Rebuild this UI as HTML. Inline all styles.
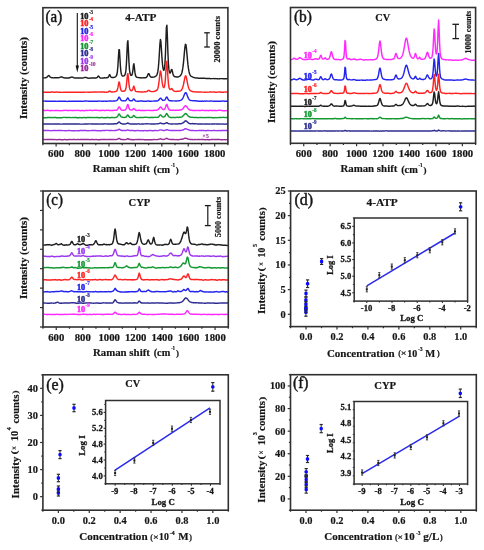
<!DOCTYPE html>
<html><head><meta charset="utf-8"><style>
html,body{margin:0;padding:0;background:#fff;}
svg{display:block;font-family:"Liberation Serif", serif;filter:blur(0.4px);}
</style></head><body>
<svg width="484" height="550" viewBox="0 0 484 550">
<rect width="484" height="550" fill="#fff"/>
<polyline fill="none" stroke="#1e1e1e" stroke-width="1.45" stroke-linejoin="round" points="42.9,77.91 43.4,77.94 43.9,77.90 44.4,77.88 44.9,77.83 45.4,77.72 45.9,77.67 46.4,77.47 46.9,77.16 47.4,76.67 47.9,76.13 48.4,75.59 48.9,75.49 49.4,75.96 49.9,76.68 50.4,77.15 50.9,77.41 51.4,77.66 51.9,77.77 52.4,77.76 52.9,77.82 53.4,77.89 53.9,77.84 54.4,77.76 54.9,77.78 55.4,77.82 55.9,77.79 56.4,77.81 56.9,77.81 57.4,77.79 57.9,77.74 58.4,77.66 58.9,77.64 59.4,77.54 59.9,77.36 60.4,77.11 60.9,77.01 61.4,76.92 61.9,76.96 62.4,77.14 62.9,77.46 63.4,77.63 63.9,77.78 64.4,77.92 64.9,78.04 65.4,78.07 65.9,78.03 66.4,78.00 66.9,78.06 67.4,78.06 67.9,78.03 68.4,78.05 68.9,77.94 69.4,77.79 69.9,77.67 70.4,77.50 70.9,77.25 71.4,77.12 71.9,77.08 72.4,77.13 72.9,77.30 73.4,77.54 73.9,77.72 74.4,77.86 74.9,77.92 75.4,77.98 75.9,78.02 76.4,77.98 76.9,77.90 77.4,77.93 77.9,78.01 78.4,78.03 78.9,78.08 79.4,78.09 79.9,78.07 80.4,78.06 80.9,78.08 81.4,78.08 81.9,78.14 82.4,78.06 82.9,77.93 83.4,77.84 83.9,77.69 84.4,77.48 84.9,77.37 85.4,77.36 85.9,77.47 86.4,77.56 86.9,77.76 87.4,77.95 87.9,78.08 88.4,78.10 88.9,78.24 89.4,78.22 89.9,78.20 90.4,78.15 90.9,78.06 91.4,78.07 91.9,78.08 92.4,78.04 92.9,78.04 93.4,78.09 93.9,78.02 94.4,77.98 94.9,78.01 95.4,78.00 95.9,77.98 96.4,77.90 96.9,77.64 97.4,77.14 97.9,76.40 98.4,75.98 98.9,76.45 99.4,77.22 99.9,77.75 100.4,78.05 100.9,78.09 101.4,78.13 101.9,78.13 102.4,78.05 102.9,77.95 103.4,77.92 103.9,77.91 104.4,77.84 104.9,77.84 105.4,77.90 105.9,77.91 106.4,77.79 106.9,77.73 107.4,77.70 107.9,77.46 108.4,76.97 108.9,75.99 109.4,74.66 109.9,74.68 110.4,76.06 110.9,77.01 111.4,77.36 111.9,77.47 112.4,77.47 112.9,77.39 113.4,77.44 113.9,77.36 114.4,77.21 114.9,77.08 115.4,76.92 115.9,76.42 116.4,75.70 116.9,74.38 117.4,71.54 117.9,65.94 118.4,57.63 118.9,49.74 119.4,49.83 119.9,57.73 120.4,66.12 120.9,71.52 121.4,74.22 121.9,75.37 122.4,75.93 122.9,76.07 123.4,76.06 123.9,75.91 124.4,75.64 124.9,74.92 125.4,73.51 125.9,70.42 126.4,64.15 126.9,53.88 127.4,43.02 127.9,40.73 128.4,49.95 128.9,61.07 129.4,68.79 129.9,72.76 130.4,74.52 130.9,75.26 131.4,75.37 131.9,75.03 132.4,73.60 132.9,70.32 133.4,65.57 133.9,63.78 134.4,67.52 134.9,72.16 135.4,75.09 135.9,76.49 136.4,77.01 136.9,77.21 137.4,77.39 137.9,77.50 138.4,77.57 138.9,77.60 139.4,77.71 139.9,77.70 140.4,77.74 140.9,77.77 141.4,77.88 141.9,77.92 142.4,77.88 142.9,77.84 143.4,77.83 143.9,77.82 144.4,77.77 144.9,77.76 145.4,77.67 145.9,77.57 146.4,77.26 146.9,76.72 147.4,75.79 147.9,74.66 148.4,73.65 148.9,73.67 149.4,74.72 149.9,75.84 150.4,76.64 150.9,77.01 151.4,77.17 151.9,77.23 152.4,77.22 152.9,77.17 153.4,77.15 153.9,77.12 154.4,76.90 154.9,76.72 155.4,76.39 155.9,76.07 156.4,75.53 156.9,74.81 157.4,73.53 157.9,71.15 158.4,67.13 158.9,60.99 159.4,52.86 159.9,44.37 160.4,39.46 160.9,41.43 161.4,48.71 161.9,56.88 162.4,63.51 162.9,67.80 163.4,69.95 163.9,70.34 164.4,68.78 164.9,64.13 165.4,54.92 165.9,41.13 166.4,27.34 166.9,25.29 167.4,37.48 167.9,52.40 168.4,63.26 168.9,69.40 169.4,72.10 169.9,73.08 170.4,72.74 170.9,71.32 171.4,69.69 171.9,69.54 172.4,71.39 172.9,73.73 173.4,75.32 173.9,76.06 174.4,76.49 174.9,76.70 175.4,76.78 175.9,76.80 176.4,76.92 176.9,76.94 177.4,76.99 177.9,76.94 178.4,76.85 178.9,76.62 179.4,76.43 179.9,76.03 180.4,75.59 180.9,74.96 181.4,73.99 181.9,72.63 182.4,70.50 182.9,67.42 183.4,63.34 183.9,58.28 184.4,52.51 184.9,47.38 185.4,44.27 185.9,44.61 186.4,48.17 186.9,53.57 187.4,59.17 187.9,64.18 188.4,68.13 188.9,71.17 189.4,73.29 189.9,74.62 190.4,75.47 190.9,76.05 191.4,76.41 191.9,76.65 192.4,76.89 192.9,77.14 193.4,77.32 193.9,77.51 194.4,77.69 194.9,77.88 195.4,77.88 195.9,77.94 196.4,77.96 196.9,77.98 197.4,78.02 197.9,78.13 198.4,78.17 198.9,78.20 199.4,78.27 199.9,78.26 200.4,78.25 200.9,78.27 201.4,78.25 201.9,78.24 202.4,78.19 202.9,78.20 203.4,78.20 203.9,78.22 204.4,78.29 204.9,78.33 205.4,78.37 205.9,78.44 206.4,78.55 206.9,78.50 207.4,78.54 207.9,78.55 208.4,78.51 208.9,78.53 209.4,78.54 209.9,78.58 210.4,78.61 210.9,78.72 211.4,78.64 211.9,78.64 212.4,78.62 212.9,78.62 213.4,78.55 213.9,78.63 214.4,78.64 214.9,78.70 215.4,78.59 215.9,78.60 216.4,78.61 216.9,78.70 217.4,78.70 217.9,78.81 218.4,78.87 218.9,78.85 219.4,78.77 219.9,78.72 220.4,78.63 220.9,78.64 221.4,78.64 221.9,78.65 222.4,78.61 222.9,78.71 223.4,78.73 223.9,78.72 224.4,78.76 224.9,78.87 225.4,78.80 225.9,78.75 226.4,78.73 226.9,78.70 227.4,78.60 227.9,78.62"/>
<polyline fill="none" stroke="#ff2222" stroke-width="1.45" stroke-linejoin="round" points="42.9,92.24 43.4,92.21 43.9,92.18 44.4,92.21 44.9,92.28 45.4,92.25 45.9,92.23 46.4,92.16 46.9,92.18 47.4,92.15 47.9,92.16 48.4,92.22 48.9,92.32 49.4,92.33 49.9,92.34 50.4,92.28 50.9,92.16 51.4,92.04 51.9,92.03 52.4,92.01 52.9,92.03 53.4,92.14 53.9,92.20 54.4,92.21 54.9,92.20 55.4,92.16 55.9,92.08 56.4,92.03 56.9,92.03 57.4,92.12 57.9,92.21 58.4,92.19 58.9,92.29 59.4,92.32 59.9,92.29 60.4,92.32 60.9,92.39 61.4,92.38 61.9,92.32 62.4,92.35 62.9,92.36 63.4,92.28 63.9,92.28 64.4,92.32 64.9,92.26 65.4,92.20 65.9,92.24 66.4,92.27 66.9,92.24 67.4,92.29 67.9,92.26 68.4,92.31 68.9,92.31 69.4,92.30 69.9,92.27 70.4,92.34 70.9,92.32 71.4,92.27 71.9,92.24 72.4,92.21 72.9,92.18 73.4,92.11 73.9,92.16 74.4,92.17 74.9,92.24 75.4,92.19 75.9,92.29 76.4,92.27 76.9,92.30 77.4,92.24 77.9,92.29 78.4,92.24 78.9,92.19 79.4,92.15 79.9,92.15 80.4,92.19 80.9,92.19 81.4,92.16 81.9,92.24 82.4,92.26 82.9,92.26 83.4,92.20 83.9,92.29 84.4,92.19 84.9,92.18 85.4,92.10 85.9,92.10 86.4,92.12 86.9,92.13 87.4,92.11 87.9,92.18 88.4,92.18 88.9,92.10 89.4,92.20 89.9,92.18 90.4,92.17 90.9,92.14 91.4,92.16 91.9,92.06 92.4,92.10 92.9,92.01 93.4,92.13 93.9,92.09 94.4,92.16 94.9,92.07 95.4,92.09 95.9,92.07 96.4,92.09 96.9,92.02 97.4,92.10 97.9,92.12 98.4,92.02 98.9,92.12 99.4,92.12 99.9,92.03 100.4,92.02 100.9,92.09 101.4,92.06 101.9,92.05 102.4,92.09 102.9,92.04 103.4,92.02 103.9,92.02 104.4,92.09 104.9,92.16 105.4,92.24 105.9,92.29 106.4,92.27 106.9,92.22 107.4,92.10 107.9,92.04 108.4,91.83 108.9,91.44 109.4,91.05 109.9,91.14 110.4,91.45 110.9,91.76 111.4,91.91 111.9,91.94 112.4,91.85 112.9,91.94 113.4,91.87 113.9,91.87 114.4,91.80 114.9,91.72 115.4,91.58 115.9,91.43 116.4,91.12 116.9,90.61 117.4,89.63 117.9,87.64 118.4,84.77 118.9,82.03 119.4,82.16 119.9,85.03 120.4,88.03 120.9,89.86 121.4,90.78 121.9,91.09 122.4,91.21 122.9,91.21 123.4,91.26 123.9,91.20 124.4,91.02 124.9,90.67 125.4,89.96 125.9,88.32 126.4,85.12 126.9,80.13 127.4,74.71 127.9,73.61 128.4,78.16 128.9,83.62 129.4,87.36 129.9,89.36 130.4,90.18 130.9,90.59 131.4,90.76 131.9,90.64 132.4,90.08 132.9,88.70 133.4,86.83 133.9,86.12 134.4,87.71 134.9,89.63 135.4,90.89 135.9,91.41 136.4,91.54 136.9,91.62 137.4,91.71 137.9,91.72 138.4,91.70 138.9,91.82 139.4,91.83 139.9,91.85 140.4,91.95 140.9,92.03 141.4,91.97 141.9,92.05 142.4,92.03 142.9,91.91 143.4,91.91 143.9,91.88 144.4,91.78 144.9,91.82 145.4,91.87 145.9,91.73 146.4,91.67 146.9,91.49 147.4,91.13 147.9,90.66 148.4,90.39 148.9,90.36 149.4,90.68 149.9,91.04 150.4,91.39 150.9,91.46 151.4,91.60 151.9,91.60 152.4,91.60 152.9,91.49 153.4,91.49 153.9,91.42 154.4,91.36 154.9,91.18 155.4,91.00 155.9,90.75 156.4,90.49 156.9,90.08 157.4,89.45 157.9,88.23 158.4,86.05 158.9,82.71 159.4,78.36 159.9,73.76 160.4,71.00 160.9,72.09 161.4,75.98 161.9,80.40 162.4,83.90 162.9,86.22 163.4,87.41 163.9,87.65 164.4,86.71 164.9,84.10 165.4,78.78 165.9,70.64 166.4,62.48 166.9,61.19 167.4,68.21 167.9,76.89 168.4,83.31 168.9,87.00 169.4,88.72 169.9,89.47 170.4,89.51 170.9,89.12 171.4,88.64 171.9,88.59 172.4,89.27 172.9,90.10 173.4,90.64 173.9,90.96 174.4,91.23 174.9,91.34 175.4,91.40 175.9,91.45 176.4,91.37 176.9,91.33 177.4,91.31 177.9,91.32 178.4,91.29 178.9,91.21 179.4,91.09 179.9,90.99 180.4,90.84 180.9,90.49 181.4,90.10 181.9,89.44 182.4,88.32 182.9,86.87 183.4,84.94 183.9,82.52 184.4,79.78 184.9,77.38 185.4,75.86 185.9,76.00 186.4,77.64 186.9,80.22 187.4,82.80 187.9,85.17 188.4,87.12 188.9,88.54 189.4,89.53 189.9,90.25 190.4,90.66 190.9,90.93 191.4,91.23 191.9,91.40 192.4,91.51 192.9,91.68 193.4,91.70 193.9,91.74 194.4,91.79 194.9,91.87 195.4,91.90 195.9,91.92 196.4,91.93 196.9,91.93 197.4,91.94 197.9,91.97 198.4,92.05 198.9,91.98 199.4,92.01 199.9,92.03 200.4,92.03 200.9,92.04 201.4,92.15 201.9,92.10 202.4,92.14 202.9,92.13 203.4,92.13 203.9,92.15 204.4,92.27 204.9,92.17 205.4,92.18 205.9,92.21 206.4,92.12 206.9,92.11 207.4,92.18 207.9,92.10 208.4,92.11 208.9,92.10 209.4,92.09 209.9,92.07 210.4,92.08 210.9,92.06 211.4,92.10 211.9,92.05 212.4,92.12 212.9,92.10 213.4,92.03 213.9,92.04 214.4,92.12 214.9,92.08 215.4,92.17 215.9,92.23 216.4,92.26 216.9,92.20 217.4,92.15 217.9,92.12 218.4,92.06 218.9,91.98 219.4,92.04 219.9,92.03 220.4,92.06 220.9,92.16 221.4,92.20 221.9,92.19 222.4,92.27 222.9,92.29 223.4,92.21 223.9,92.18 224.4,92.14 224.9,92.10 225.4,92.03 225.9,92.01 226.4,92.06 226.9,92.14 227.4,92.13 227.9,92.16"/>
<polyline fill="none" stroke="#2424ee" stroke-width="1.45" stroke-linejoin="round" points="42.9,101.18 43.4,101.16 43.9,101.09 44.4,101.15 44.9,101.11 45.4,101.06 45.9,101.18 46.4,101.24 46.9,101.24 47.4,101.26 47.9,101.31 48.4,101.21 48.9,101.23 49.4,101.23 49.9,101.24 50.4,101.25 50.9,101.32 51.4,101.24 51.9,101.23 52.4,101.24 52.9,101.18 53.4,101.10 53.9,101.20 54.4,101.17 54.9,101.18 55.4,101.26 55.9,101.34 56.4,101.35 56.9,101.34 57.4,101.35 57.9,101.30 58.4,101.32 58.9,101.32 59.4,101.28 59.9,101.20 60.4,101.17 60.9,101.17 61.4,101.11 61.9,101.18 62.4,101.20 62.9,101.24 63.4,101.17 63.9,101.15 64.4,101.15 64.9,101.18 65.4,101.24 65.9,101.27 66.4,101.35 66.9,101.38 67.4,101.43 67.9,101.40 68.4,101.34 68.9,101.33 69.4,101.34 69.9,101.33 70.4,101.32 70.9,101.39 71.4,101.31 71.9,101.29 72.4,101.25 72.9,101.21 73.4,101.13 73.9,101.21 74.4,101.23 74.9,101.17 75.4,101.23 75.9,101.28 76.4,101.19 76.9,101.10 77.4,101.18 77.9,101.19 78.4,101.15 78.9,101.21 79.4,101.17 79.9,101.17 80.4,101.10 80.9,101.21 81.4,101.25 81.9,101.31 82.4,101.35 82.9,101.34 83.4,101.24 83.9,101.19 84.4,101.13 84.9,101.03 85.4,101.04 85.9,101.11 86.4,101.05 86.9,101.05 87.4,101.14 87.9,101.13 88.4,101.17 88.9,101.27 89.4,101.31 89.9,101.26 90.4,101.28 90.9,101.24 91.4,101.20 91.9,101.23 92.4,101.25 92.9,101.30 93.4,101.28 93.9,101.26 94.4,101.28 94.9,101.23 95.4,101.15 95.9,101.21 96.4,101.22 96.9,101.20 97.4,101.17 97.9,101.18 98.4,101.13 98.9,101.07 99.4,101.07 99.9,101.15 100.4,101.11 100.9,101.11 101.4,101.17 101.9,101.18 102.4,101.14 102.9,101.22 103.4,101.23 103.9,101.18 104.4,101.10 104.9,101.14 105.4,101.17 105.9,101.10 106.4,101.16 106.9,101.22 107.4,101.18 107.9,101.10 108.4,101.10 108.9,101.09 109.4,101.08 109.9,101.08 110.4,101.07 110.9,101.13 111.4,101.08 111.9,101.06 112.4,101.11 112.9,101.09 113.4,101.00 113.9,101.09 114.4,101.02 114.9,100.92 115.4,100.89 115.9,100.87 116.4,100.65 116.9,100.41 117.4,99.94 117.9,99.16 118.4,98.01 118.9,97.15 119.4,97.13 119.9,98.09 120.4,99.17 120.9,100.05 121.4,100.48 121.9,100.72 122.4,100.81 122.9,100.85 123.4,100.79 123.9,100.84 124.4,100.90 124.9,100.86 125.4,100.72 125.9,100.54 126.4,99.99 126.9,99.13 127.4,98.22 127.9,98.01 128.4,98.72 128.9,99.68 129.4,100.26 129.9,100.59 130.4,100.77 130.9,100.84 131.4,100.78 131.9,100.78 132.4,100.50 132.9,99.91 133.4,99.23 133.9,98.99 134.4,99.57 134.9,100.34 135.4,100.92 135.9,101.13 136.4,101.13 136.9,101.15 137.4,101.23 137.9,101.21 138.4,101.17 138.9,101.19 139.4,101.14 139.9,101.07 140.4,101.00 140.9,101.01 141.4,101.01 141.9,101.08 142.4,101.05 142.9,101.16 143.4,101.18 143.9,101.26 144.4,101.27 144.9,101.38 145.4,101.34 145.9,101.25 146.4,101.23 146.9,101.13 147.4,101.05 147.9,101.06 148.4,101.13 148.9,101.08 149.4,101.18 149.9,101.22 150.4,101.17 150.9,101.13 151.4,101.18 151.9,101.12 152.4,101.14 152.9,101.13 153.4,101.11 153.9,101.06 154.4,101.09 154.9,100.99 155.4,101.03 155.9,101.09 156.4,101.09 156.9,101.03 157.4,100.91 157.9,100.71 158.4,100.41 158.9,99.86 159.4,99.20 159.9,98.61 160.4,98.23 160.9,98.31 161.4,98.89 161.9,99.55 162.4,99.99 162.9,100.24 163.4,100.35 163.9,100.31 164.4,100.06 164.9,99.78 165.4,99.13 165.9,98.06 166.4,97.09 166.9,96.97 167.4,97.77 167.9,98.84 168.4,99.78 168.9,100.33 169.4,100.61 169.9,100.73 170.4,100.80 170.9,100.78 171.4,100.80 171.9,100.87 172.4,100.91 172.9,100.88 173.4,100.89 173.9,100.87 174.4,100.85 174.9,100.89 175.4,100.92 175.9,100.98 176.4,101.00 176.9,100.95 177.4,100.87 177.9,100.85 178.4,100.80 178.9,100.72 179.4,100.68 179.9,100.60 180.4,100.43 180.9,100.22 181.4,99.97 181.9,99.46 182.4,98.85 182.9,98.04 183.4,97.02 183.9,95.78 184.4,94.46 184.9,93.31 185.4,92.64 185.9,92.62 186.4,93.37 186.9,94.59 187.4,95.94 187.9,97.17 188.4,98.29 188.9,99.13 189.4,99.78 189.9,100.17 190.4,100.43 190.9,100.52 191.4,100.62 191.9,100.62 192.4,100.62 192.9,100.70 193.4,100.74 193.9,100.71 194.4,100.75 194.9,100.88 195.4,100.82 195.9,100.84 196.4,100.95 196.9,100.97 197.4,100.98 197.9,101.05 198.4,101.17 198.9,101.19 199.4,101.26 199.9,101.26 200.4,101.19 200.9,101.18 201.4,101.13 201.9,101.16 202.4,101.07 202.9,101.17 203.4,101.19 203.9,101.14 204.4,101.09 204.9,101.15 205.4,101.17 205.9,101.08 206.4,101.10 206.9,101.09 207.4,101.10 207.9,101.09 208.4,101.12 208.9,101.14 209.4,101.16 209.9,101.13 210.4,101.09 210.9,101.05 211.4,101.07 211.9,101.14 212.4,101.15 212.9,101.20 213.4,101.21 213.9,101.23 214.4,101.20 214.9,101.24 215.4,101.21 215.9,101.25 216.4,101.25 216.9,101.27 217.4,101.20 217.9,101.15 218.4,101.18 218.9,101.22 219.4,101.17 219.9,101.21 220.4,101.29 220.9,101.22 221.4,101.13 221.9,101.09 222.4,101.11 222.9,101.06 223.4,101.07 223.9,101.12 224.4,101.22 224.9,101.18 225.4,101.23 225.9,101.26 226.4,101.28 226.9,101.23 227.4,101.23 227.9,101.16"/>
<polyline fill="none" stroke="#ff28ff" stroke-width="1.45" stroke-linejoin="round" points="42.9,110.25 43.4,110.28 43.9,110.41 44.4,110.47 44.9,110.57 45.4,110.59 45.9,110.62 46.4,110.51 46.9,110.41 47.4,110.31 47.9,110.31 48.4,110.37 48.9,110.46 49.4,110.56 49.9,110.67 50.4,110.67 50.9,110.57 51.4,110.54 51.9,110.52 52.4,110.53 52.9,110.64 53.4,110.61 53.9,110.60 54.4,110.59 54.9,110.54 55.4,110.42 55.9,110.49 56.4,110.40 56.9,110.45 57.4,110.50 57.9,110.56 58.4,110.53 58.9,110.67 59.4,110.61 59.9,110.61 60.4,110.66 60.9,110.69 61.4,110.61 61.9,110.62 62.4,110.54 62.9,110.43 63.4,110.40 63.9,110.47 64.4,110.38 64.9,110.32 65.4,110.39 65.9,110.39 66.4,110.34 66.9,110.41 67.4,110.46 67.9,110.52 68.4,110.50 68.9,110.48 69.4,110.44 69.9,110.49 70.4,110.37 70.9,110.40 71.4,110.45 71.9,110.47 72.4,110.46 72.9,110.56 73.4,110.52 73.9,110.41 74.4,110.39 74.9,110.42 75.4,110.38 75.9,110.40 76.4,110.44 76.9,110.43 77.4,110.39 77.9,110.29 78.4,110.37 78.9,110.46 79.4,110.58 79.9,110.63 80.4,110.77 80.9,110.66 81.4,110.57 81.9,110.57 82.4,110.57 82.9,110.49 83.4,110.63 83.9,110.69 84.4,110.66 84.9,110.59 85.4,110.55 85.9,110.47 86.4,110.39 86.9,110.32 87.4,110.43 87.9,110.45 88.4,110.38 88.9,110.37 89.4,110.33 89.9,110.30 90.4,110.31 90.9,110.35 91.4,110.36 91.9,110.49 92.4,110.43 92.9,110.41 93.4,110.37 93.9,110.36 94.4,110.23 94.9,110.27 95.4,110.26 95.9,110.26 96.4,110.33 96.9,110.34 97.4,110.39 97.9,110.39 98.4,110.47 98.9,110.51 99.4,110.54 99.9,110.53 100.4,110.59 100.9,110.54 101.4,110.48 101.9,110.42 102.4,110.33 102.9,110.30 103.4,110.40 103.9,110.46 104.4,110.54 104.9,110.47 105.4,110.47 105.9,110.37 106.4,110.27 106.9,110.22 107.4,110.35 107.9,110.33 108.4,110.30 108.9,110.41 109.4,110.46 109.9,110.48 110.4,110.51 110.9,110.64 111.4,110.59 111.9,110.62 112.4,110.57 112.9,110.58 113.4,110.43 113.9,110.34 114.4,110.33 114.9,110.33 115.4,110.35 115.9,110.33 116.4,110.28 116.9,110.04 117.4,109.55 117.9,108.78 118.4,107.80 118.9,106.93 119.4,106.91 119.9,107.71 120.4,108.73 120.9,109.53 121.4,109.86 121.9,110.12 122.4,110.33 122.9,110.32 123.4,110.18 123.9,110.29 124.4,110.11 124.9,110.00 125.4,109.78 125.9,109.29 126.4,108.17 126.9,106.64 127.4,104.84 127.9,104.49 128.4,106.09 128.9,107.86 129.4,108.97 129.9,109.67 130.4,109.83 130.9,109.94 131.4,109.96 131.9,110.03 132.4,109.77 132.9,109.38 133.4,108.59 133.9,108.42 134.4,108.90 134.9,109.62 135.4,110.00 135.9,110.27 136.4,110.34 136.9,110.43 137.4,110.44 137.9,110.41 138.4,110.29 138.9,110.27 139.4,110.28 139.9,110.34 140.4,110.44 140.9,110.46 141.4,110.43 141.9,110.47 142.4,110.42 142.9,110.33 143.4,110.44 143.9,110.52 144.4,110.41 144.9,110.41 145.4,110.47 145.9,110.46 146.4,110.38 146.9,110.40 147.4,110.39 147.9,110.48 148.4,110.37 148.9,110.33 149.4,110.39 149.9,110.45 150.4,110.38 150.9,110.43 151.4,110.54 151.9,110.56 152.4,110.42 152.9,110.47 153.4,110.42 153.9,110.32 154.4,110.31 154.9,110.35 155.4,110.31 155.9,110.27 156.4,110.31 156.9,110.13 157.4,109.97 157.9,109.70 158.4,109.37 158.9,108.77 159.4,108.17 159.9,107.50 160.4,106.97 160.9,107.13 161.4,107.77 161.9,108.42 162.4,108.99 162.9,109.43 163.4,109.56 163.9,109.48 164.4,109.28 164.9,108.60 165.4,107.51 165.9,106.05 166.4,104.60 166.9,104.34 167.4,105.70 167.9,107.33 168.4,108.63 168.9,109.41 169.4,109.86 169.9,110.03 170.4,110.23 170.9,110.28 171.4,110.35 171.9,110.31 172.4,110.31 172.9,110.32 173.4,110.26 173.9,110.28 174.4,110.23 174.9,110.23 175.4,110.13 175.9,110.19 176.4,110.11 176.9,110.22 177.4,110.26 177.9,110.31 178.4,110.22 178.9,110.26 179.4,110.09 179.9,110.05 180.4,110.03 180.9,109.90 181.4,109.75 181.9,109.55 182.4,109.19 182.9,108.59 183.4,107.97 183.9,107.31 184.4,106.63 184.9,106.04 185.4,105.77 185.9,105.95 186.4,106.28 186.9,106.94 187.4,107.64 187.9,108.30 188.4,108.88 188.9,109.42 189.4,109.80 189.9,109.97 190.4,110.13 190.9,110.19 191.4,110.26 191.9,110.26 192.4,110.41 192.9,110.39 193.4,110.45 193.9,110.42 194.4,110.43 194.9,110.46 195.4,110.53 195.9,110.45 196.4,110.43 196.9,110.39 197.4,110.36 197.9,110.41 198.4,110.51 198.9,110.54 199.4,110.56 199.9,110.60 200.4,110.49 200.9,110.41 201.4,110.35 201.9,110.32 202.4,110.28 202.9,110.35 203.4,110.38 203.9,110.44 204.4,110.57 204.9,110.58 205.4,110.50 205.9,110.41 206.4,110.51 206.9,110.52 207.4,110.57 207.9,110.64 208.4,110.68 208.9,110.54 209.4,110.42 209.9,110.31 210.4,110.37 210.9,110.46 211.4,110.57 211.9,110.55 212.4,110.56 212.9,110.46 213.4,110.47 213.9,110.37 214.4,110.47 214.9,110.54 215.4,110.58 215.9,110.59 216.4,110.60 216.9,110.56 217.4,110.48 217.9,110.40 218.4,110.26 218.9,110.27 219.4,110.20 219.9,110.19 220.4,110.33 220.9,110.37 221.4,110.46 221.9,110.56 222.4,110.66 222.9,110.61 223.4,110.72 223.9,110.72 224.4,110.72 224.9,110.69 225.4,110.70 225.9,110.66 226.4,110.61 226.9,110.58 227.4,110.51 227.9,110.53"/>
<polyline fill="none" stroke="#139832" stroke-width="1.45" stroke-linejoin="round" points="42.9,117.81 43.4,117.86 43.9,117.75 44.4,117.69 44.9,117.69 45.4,117.68 45.9,117.68 46.4,117.69 46.9,117.69 47.4,117.58 47.9,117.56 48.4,117.51 48.9,117.49 49.4,117.45 49.9,117.46 50.4,117.52 50.9,117.55 51.4,117.57 51.9,117.66 52.4,117.64 52.9,117.59 53.4,117.49 53.9,117.47 54.4,117.48 54.9,117.49 55.4,117.43 55.9,117.56 56.4,117.70 56.9,117.61 57.4,117.73 57.9,117.78 58.4,117.73 58.9,117.63 59.4,117.73 59.9,117.69 60.4,117.75 60.9,117.79 61.4,117.80 61.9,117.71 62.4,117.63 62.9,117.50 63.4,117.36 63.9,117.36 64.4,117.40 64.9,117.38 65.4,117.46 65.9,117.50 66.4,117.51 66.9,117.54 67.4,117.62 67.9,117.56 68.4,117.58 68.9,117.64 69.4,117.52 69.9,117.60 70.4,117.56 70.9,117.60 71.4,117.62 71.9,117.61 72.4,117.58 72.9,117.64 73.4,117.61 73.9,117.48 74.4,117.48 74.9,117.39 75.4,117.48 75.9,117.42 76.4,117.54 76.9,117.68 77.4,117.80 77.9,117.70 78.4,117.73 78.9,117.69 79.4,117.67 79.9,117.53 80.4,117.60 80.9,117.67 81.4,117.72 81.9,117.60 82.4,117.74 82.9,117.63 83.4,117.56 83.9,117.52 84.4,117.66 84.9,117.56 85.4,117.70 85.9,117.73 86.4,117.68 86.9,117.58 87.4,117.56 87.9,117.42 88.4,117.36 88.9,117.42 89.4,117.53 89.9,117.52 90.4,117.52 90.9,117.65 91.4,117.63 91.9,117.53 92.4,117.55 92.9,117.63 93.4,117.61 93.9,117.59 94.4,117.60 94.9,117.57 95.4,117.62 95.9,117.49 96.4,117.50 96.9,117.56 97.4,117.57 97.9,117.54 98.4,117.69 98.9,117.71 99.4,117.70 99.9,117.70 100.4,117.65 100.9,117.52 101.4,117.56 101.9,117.48 102.4,117.53 102.9,117.62 103.4,117.73 103.9,117.75 104.4,117.78 104.9,117.78 105.4,117.74 105.9,117.68 106.4,117.56 106.9,117.55 107.4,117.50 107.9,117.44 108.4,117.52 108.9,117.62 109.4,117.66 109.9,117.71 110.4,117.70 110.9,117.55 111.4,117.43 111.9,117.45 112.4,117.50 112.9,117.49 113.4,117.59 113.9,117.66 114.4,117.62 114.9,117.56 115.4,117.58 115.9,117.45 116.4,117.33 116.9,117.03 117.4,116.57 117.9,115.84 118.4,114.91 118.9,114.00 119.4,114.12 119.9,114.99 120.4,115.93 120.9,116.54 121.4,117.00 121.9,117.11 122.4,117.21 122.9,117.24 123.4,117.39 123.9,117.41 124.4,117.49 124.9,117.40 125.4,117.33 125.9,117.10 126.4,116.68 126.9,115.89 127.4,115.19 127.9,115.06 128.4,115.71 128.9,116.52 129.4,117.16 129.9,117.39 130.4,117.45 130.9,117.41 131.4,117.37 131.9,117.27 132.4,116.99 132.9,116.45 133.4,115.76 133.9,115.42 134.4,115.90 134.9,116.71 135.4,117.17 135.9,117.38 136.4,117.43 136.9,117.54 137.4,117.57 137.9,117.60 138.4,117.62 138.9,117.57 139.4,117.50 139.9,117.46 140.4,117.46 140.9,117.39 141.4,117.49 141.9,117.57 142.4,117.51 142.9,117.48 143.4,117.48 143.9,117.38 144.4,117.30 144.9,117.35 145.4,117.30 145.9,117.30 146.4,117.29 146.9,117.35 147.4,117.35 147.9,117.42 148.4,117.48 148.9,117.51 149.4,117.58 149.9,117.52 150.4,117.48 150.9,117.43 151.4,117.45 151.9,117.32 152.4,117.45 152.9,117.44 153.4,117.39 153.9,117.41 154.4,117.40 154.9,117.34 155.4,117.31 155.9,117.37 156.4,117.39 156.9,117.45 157.4,117.34 157.9,117.25 158.4,116.99 158.9,116.47 159.4,115.82 159.9,115.27 160.4,114.88 160.9,115.06 161.4,115.65 161.9,116.27 162.4,116.68 162.9,117.02 163.4,117.00 163.9,116.86 164.4,116.70 164.9,116.34 165.4,115.48 165.9,114.54 166.4,113.68 166.9,113.50 167.4,114.34 167.9,115.46 168.4,116.26 168.9,116.79 169.4,117.07 169.9,117.29 170.4,117.47 170.9,117.57 171.4,117.48 171.9,117.60 172.4,117.54 172.9,117.48 173.4,117.44 173.9,117.56 174.4,117.49 174.9,117.45 175.4,117.46 175.9,117.42 176.4,117.36 176.9,117.34 177.4,117.33 177.9,117.37 178.4,117.46 178.9,117.34 179.4,117.32 179.9,117.28 180.4,117.24 180.9,117.14 181.4,117.05 181.9,116.81 182.4,116.51 182.9,116.13 183.4,115.56 183.9,115.02 184.4,114.42 184.9,113.94 185.4,113.54 185.9,113.64 186.4,113.94 186.9,114.57 187.4,115.15 187.9,115.72 188.4,116.14 188.9,116.54 189.4,116.77 189.9,116.99 190.4,117.09 190.9,117.24 191.4,117.34 191.9,117.31 192.4,117.31 192.9,117.35 193.4,117.40 193.9,117.46 194.4,117.56 194.9,117.53 195.4,117.59 195.9,117.53 196.4,117.48 196.9,117.52 197.4,117.62 197.9,117.58 198.4,117.66 198.9,117.64 199.4,117.59 199.9,117.63 200.4,117.59 200.9,117.49 201.4,117.57 201.9,117.52 202.4,117.52 202.9,117.60 203.4,117.62 203.9,117.54 204.4,117.65 204.9,117.67 205.4,117.58 205.9,117.59 206.4,117.63 206.9,117.59 207.4,117.49 207.9,117.50 208.4,117.52 208.9,117.56 209.4,117.49 209.9,117.48 210.4,117.58 210.9,117.62 211.4,117.59 211.9,117.59 212.4,117.67 212.9,117.69 213.4,117.73 213.9,117.73 214.4,117.74 214.9,117.76 215.4,117.64 215.9,117.58 216.4,117.62 216.9,117.73 217.4,117.61 217.9,117.63 218.4,117.67 218.9,117.54 219.4,117.53 219.9,117.57 220.4,117.55 220.9,117.50 221.4,117.49 221.9,117.41 222.4,117.40 222.9,117.39 223.4,117.30 223.9,117.38 224.4,117.48 224.9,117.56 225.4,117.57 225.9,117.63 226.4,117.59 226.9,117.57 227.4,117.51 227.9,117.64"/>
<polyline fill="none" stroke="#2c2c90" stroke-width="1.45" stroke-linejoin="round" points="42.9,123.98 43.4,123.97 43.9,123.93 44.4,123.96 44.9,123.97 45.4,124.06 45.9,124.02 46.4,124.05 46.9,124.05 47.4,124.06 47.9,124.03 48.4,124.08 48.9,124.01 49.4,123.99 49.9,124.03 50.4,124.00 50.9,124.01 51.4,124.07 51.9,124.10 52.4,124.05 52.9,124.03 53.4,124.03 53.9,124.04 54.4,124.00 54.9,123.97 55.4,123.98 55.9,123.96 56.4,123.90 56.9,123.96 57.4,124.02 57.9,124.02 58.4,124.02 58.9,124.03 59.4,124.03 59.9,124.06 60.4,124.10 60.9,124.10 61.4,124.14 61.9,124.12 62.4,124.13 62.9,124.07 63.4,124.04 63.9,124.03 64.4,123.97 64.9,123.93 65.4,123.93 65.9,123.99 66.4,123.99 66.9,123.96 67.4,123.97 67.9,124.00 68.4,123.92 68.9,123.91 69.4,123.92 69.9,123.86 70.4,123.93 70.9,123.99 71.4,123.93 71.9,124.01 72.4,123.98 72.9,123.92 73.4,123.95 73.9,124.02 74.4,123.96 74.9,124.00 75.4,124.01 75.9,123.92 76.4,123.96 76.9,123.93 77.4,123.94 77.9,123.98 78.4,124.01 78.9,124.01 79.4,124.03 79.9,124.10 80.4,124.11 80.9,124.14 81.4,124.13 81.9,124.16 82.4,124.14 82.9,124.13 83.4,124.11 83.9,124.06 84.4,124.09 84.9,124.04 85.4,123.96 85.9,123.99 86.4,123.96 86.9,123.94 87.4,123.98 87.9,123.99 88.4,123.91 88.9,123.89 89.4,123.90 89.9,123.85 90.4,123.86 90.9,123.91 91.4,124.01 91.9,123.97 92.4,123.97 92.9,124.04 93.4,124.06 93.9,123.99 94.4,124.01 94.9,124.02 95.4,123.93 95.9,123.91 96.4,123.91 96.9,123.95 97.4,123.93 97.9,123.99 98.4,124.06 98.9,124.13 99.4,124.08 99.9,124.11 100.4,124.07 100.9,124.01 101.4,123.96 101.9,124.00 102.4,124.04 102.9,124.04 103.4,123.99 103.9,123.99 104.4,123.90 104.9,123.80 105.4,123.85 105.9,123.86 106.4,123.89 106.9,123.93 107.4,124.03 107.9,124.04 108.4,124.03 108.9,123.97 109.4,124.04 109.9,124.00 110.4,123.94 110.9,124.02 111.4,124.09 111.9,124.04 112.4,124.02 112.9,123.97 113.4,123.92 113.9,123.83 114.4,123.83 114.9,123.83 115.4,123.82 115.9,123.81 116.4,123.74 116.9,123.55 117.4,123.31 117.9,122.93 118.4,122.41 118.9,121.99 119.4,122.06 119.9,122.48 120.4,123.08 120.9,123.40 121.4,123.64 121.9,123.78 122.4,123.93 122.9,123.97 123.4,124.03 123.9,124.05 124.4,124.03 124.9,123.93 125.4,123.91 125.9,123.88 126.4,123.69 126.9,123.42 127.4,123.17 127.9,123.04 128.4,123.26 128.9,123.51 129.4,123.72 129.9,123.89 130.4,123.94 130.9,123.99 131.4,124.01 131.9,124.03 132.4,123.95 132.9,124.04 133.4,123.98 133.9,124.08 134.4,123.99 134.9,123.97 135.4,123.95 135.9,123.98 136.4,123.94 136.9,123.94 137.4,123.95 137.9,123.90 138.4,123.83 138.9,123.88 139.4,123.97 139.9,124.06 140.4,124.10 140.9,124.13 141.4,124.02 141.9,124.02 142.4,123.92 142.9,123.91 143.4,123.92 143.9,123.97 144.4,123.89 144.9,123.89 145.4,123.88 145.9,123.83 146.4,123.84 146.9,123.84 147.4,123.87 147.9,123.82 148.4,123.89 148.9,123.87 149.4,123.88 149.9,123.87 150.4,123.91 150.9,123.95 151.4,123.95 151.9,123.95 152.4,123.95 152.9,123.91 153.4,123.87 153.9,123.91 154.4,123.95 154.9,123.93 155.4,123.93 155.9,123.90 156.4,123.85 156.9,123.81 157.4,123.86 157.9,123.83 158.4,123.76 158.9,123.63 159.4,123.44 159.9,123.20 160.4,123.05 160.9,123.10 161.4,123.32 161.9,123.48 162.4,123.63 162.9,123.74 163.4,123.73 163.9,123.63 164.4,123.66 164.9,123.49 165.4,123.31 165.9,123.02 166.4,122.76 166.9,122.64 167.4,122.94 167.9,123.27 168.4,123.54 168.9,123.71 169.4,123.89 169.9,123.90 170.4,123.89 170.9,123.96 171.4,124.00 171.9,123.92 172.4,123.96 172.9,123.93 173.4,123.85 173.9,123.87 174.4,123.85 174.9,123.88 175.4,123.95 175.9,124.01 176.4,123.97 176.9,124.03 177.4,123.95 177.9,123.90 178.4,123.83 178.9,123.82 179.4,123.81 179.9,123.84 180.4,123.76 180.9,123.74 181.4,123.56 181.9,123.41 182.4,123.18 182.9,122.97 183.4,122.60 183.9,122.18 184.4,121.69 184.9,121.17 185.4,120.86 185.9,120.81 186.4,121.07 186.9,121.45 187.4,122.04 187.9,122.43 188.4,122.91 188.9,123.26 189.4,123.51 189.9,123.65 190.4,123.75 190.9,123.72 191.4,123.66 191.9,123.65 192.4,123.58 192.9,123.69 193.4,123.70 193.9,123.78 194.4,123.82 194.9,123.84 195.4,123.80 195.9,123.82 196.4,123.87 196.9,123.89 197.4,123.95 197.9,123.97 198.4,124.03 198.9,123.97 199.4,123.96 199.9,123.91 200.4,123.95 200.9,123.90 201.4,123.90 201.9,123.97 202.4,124.02 202.9,124.03 203.4,124.10 203.9,124.11 204.4,124.03 204.9,124.03 205.4,123.98 205.9,123.99 206.4,123.99 206.9,124.06 207.4,124.08 207.9,124.08 208.4,124.08 208.9,124.12 209.4,124.06 209.9,124.08 210.4,124.12 210.9,124.12 211.4,124.06 211.9,124.07 212.4,123.98 212.9,123.92 213.4,123.93 213.9,123.93 214.4,123.90 214.9,123.92 215.4,123.89 215.9,123.86 216.4,123.91 216.9,124.01 217.4,123.99 217.9,124.02 218.4,123.97 218.9,123.98 219.4,123.97 219.9,124.02 220.4,124.09 220.9,124.14 221.4,124.12 221.9,124.08 222.4,124.06 222.9,124.07 223.4,124.10 223.9,124.08 224.4,124.13 224.9,124.16 225.4,124.14 225.9,124.05 226.4,124.00 226.9,123.91 227.4,123.90 227.9,123.89"/>
<polyline fill="none" stroke="#9b38ee" stroke-width="1.45" stroke-linejoin="round" points="42.9,130.51 43.4,130.52 43.9,130.51 44.4,130.49 44.9,130.48 45.4,130.47 45.9,130.44 46.4,130.44 46.9,130.43 47.4,130.52 47.9,130.49 48.4,130.51 48.9,130.57 49.4,130.63 49.9,130.60 50.4,130.63 50.9,130.72 51.4,130.65 51.9,130.64 52.4,130.61 52.9,130.58 53.4,130.48 53.9,130.51 54.4,130.50 54.9,130.49 55.4,130.54 55.9,130.60 56.4,130.61 56.9,130.58 57.4,130.57 57.9,130.50 58.4,130.46 58.9,130.49 59.4,130.48 59.9,130.51 60.4,130.57 60.9,130.59 61.4,130.55 61.9,130.59 62.4,130.64 62.9,130.60 63.4,130.61 63.9,130.64 64.4,130.65 64.9,130.65 65.4,130.66 65.9,130.70 66.4,130.66 66.9,130.60 67.4,130.61 67.9,130.59 68.4,130.53 68.9,130.52 69.4,130.55 69.9,130.55 70.4,130.60 70.9,130.65 71.4,130.68 71.9,130.68 72.4,130.66 72.9,130.66 73.4,130.61 73.9,130.68 74.4,130.70 74.9,130.69 75.4,130.70 75.9,130.65 76.4,130.64 76.9,130.60 77.4,130.66 77.9,130.68 78.4,130.71 78.9,130.67 79.4,130.67 79.9,130.56 80.4,130.52 80.9,130.51 81.4,130.48 81.9,130.41 82.4,130.49 82.9,130.45 83.4,130.46 83.9,130.49 84.4,130.59 84.9,130.51 85.4,130.55 85.9,130.58 86.4,130.64 86.9,130.63 87.4,130.72 87.9,130.70 88.4,130.69 88.9,130.62 89.4,130.63 89.9,130.64 90.4,130.63 90.9,130.60 91.4,130.59 91.9,130.51 92.4,130.46 92.9,130.51 93.4,130.52 93.9,130.49 94.4,130.51 94.9,130.50 95.4,130.50 95.9,130.58 96.4,130.65 96.9,130.66 97.4,130.69 97.9,130.71 98.4,130.60 98.9,130.63 99.4,130.66 99.9,130.69 100.4,130.70 100.9,130.74 101.4,130.68 101.9,130.60 102.4,130.57 102.9,130.49 103.4,130.45 103.9,130.43 104.4,130.44 104.9,130.40 105.4,130.40 105.9,130.39 106.4,130.38 106.9,130.38 107.4,130.38 107.9,130.38 108.4,130.48 108.9,130.53 109.4,130.53 109.9,130.52 110.4,130.55 110.9,130.49 111.4,130.43 111.9,130.51 112.4,130.60 112.9,130.61 113.4,130.61 113.9,130.60 114.4,130.51 114.9,130.43 115.4,130.39 115.9,130.41 116.4,130.37 116.9,130.29 117.4,130.20 117.9,129.98 118.4,129.56 118.9,129.30 119.4,129.31 119.9,129.55 120.4,129.95 120.9,130.28 121.4,130.45 121.9,130.55 122.4,130.57 122.9,130.50 123.4,130.49 123.9,130.48 124.4,130.54 124.9,130.52 125.4,130.50 125.9,130.44 126.4,130.36 126.9,130.16 127.4,129.98 127.9,130.01 128.4,130.19 128.9,130.34 129.4,130.47 129.9,130.50 130.4,130.45 130.9,130.39 131.4,130.41 131.9,130.39 132.4,130.43 132.9,130.54 133.4,130.59 133.9,130.67 134.4,130.76 134.9,130.79 135.4,130.72 135.9,130.70 136.4,130.62 136.9,130.53 137.4,130.44 137.9,130.47 138.4,130.55 138.9,130.62 139.4,130.65 139.9,130.70 140.4,130.72 140.9,130.63 141.4,130.61 141.9,130.66 142.4,130.67 142.9,130.67 143.4,130.71 143.9,130.66 144.4,130.64 144.9,130.59 145.4,130.60 145.9,130.65 146.4,130.68 146.9,130.63 147.4,130.71 147.9,130.70 148.4,130.60 148.9,130.57 149.4,130.54 149.9,130.54 150.4,130.55 150.9,130.54 151.4,130.62 151.9,130.72 152.4,130.69 152.9,130.63 153.4,130.68 153.9,130.59 154.4,130.48 154.9,130.51 155.4,130.54 155.9,130.53 156.4,130.62 156.9,130.65 157.4,130.62 157.9,130.60 158.4,130.50 158.9,130.33 159.4,130.18 159.9,129.98 160.4,129.87 160.9,129.90 161.4,130.04 161.9,130.14 162.4,130.32 162.9,130.36 163.4,130.41 163.9,130.43 164.4,130.48 164.9,130.33 165.4,130.21 165.9,129.96 166.4,129.71 166.9,129.63 167.4,129.80 167.9,130.01 168.4,130.18 168.9,130.25 169.4,130.35 169.9,130.40 170.4,130.42 170.9,130.49 171.4,130.56 171.9,130.51 172.4,130.56 172.9,130.57 173.4,130.57 173.9,130.52 174.4,130.55 174.9,130.52 175.4,130.48 175.9,130.48 176.4,130.52 176.9,130.51 177.4,130.57 177.9,130.63 178.4,130.58 178.9,130.58 179.4,130.56 179.9,130.51 180.4,130.46 180.9,130.41 181.4,130.34 181.9,130.24 182.4,130.15 182.9,129.96 183.4,129.77 183.9,129.53 184.4,129.19 184.9,128.87 185.4,128.74 185.9,128.75 186.4,128.84 186.9,129.11 187.4,129.40 187.9,129.59 188.4,129.75 188.9,129.93 189.4,130.12 189.9,130.25 190.4,130.41 190.9,130.44 191.4,130.55 191.9,130.57 192.4,130.51 192.9,130.52 193.4,130.62 193.9,130.57 194.4,130.61 194.9,130.65 195.4,130.61 195.9,130.62 196.4,130.69 196.9,130.60 197.4,130.61 197.9,130.62 198.4,130.54 198.9,130.47 199.4,130.49 199.9,130.53 200.4,130.47 200.9,130.50 201.4,130.53 201.9,130.49 202.4,130.45 202.9,130.52 203.4,130.52 203.9,130.47 204.4,130.59 204.9,130.64 205.4,130.68 205.9,130.63 206.4,130.66 206.9,130.55 207.4,130.55 207.9,130.47 208.4,130.47 208.9,130.49 209.4,130.59 209.9,130.60 210.4,130.60 210.9,130.60 211.4,130.66 211.9,130.62 212.4,130.60 212.9,130.58 213.4,130.57 213.9,130.55 214.4,130.53 214.9,130.46 215.4,130.56 215.9,130.62 216.4,130.64 216.9,130.60 217.4,130.69 217.9,130.59 218.4,130.61 218.9,130.57 219.4,130.60 219.9,130.57 220.4,130.67 220.9,130.60 221.4,130.56 221.9,130.58 222.4,130.55 222.9,130.45 223.4,130.44 223.9,130.43 224.4,130.40 224.9,130.40 225.4,130.43 225.9,130.50 226.4,130.52 226.9,130.56 227.4,130.54 227.9,130.55"/>
<polyline fill="none" stroke="#992b99" stroke-width="1.45" stroke-linejoin="round" points="42.9,139.55 43.4,139.56 43.9,139.56 44.4,139.57 44.9,139.56 45.4,139.61 45.9,139.63 46.4,139.57 46.9,139.57 47.4,139.59 47.9,139.55 48.4,139.52 48.9,139.47 49.4,139.48 49.9,139.43 50.4,139.52 50.9,139.54 51.4,139.55 51.9,139.55 52.4,139.62 52.9,139.52 53.4,139.55 53.9,139.58 54.4,139.62 54.9,139.55 55.4,139.62 55.9,139.61 56.4,139.64 56.9,139.67 57.4,139.69 57.9,139.63 58.4,139.58 58.9,139.61 59.4,139.57 59.9,139.52 60.4,139.62 60.9,139.67 61.4,139.65 61.9,139.69 62.4,139.71 62.9,139.64 63.4,139.67 63.9,139.60 64.4,139.59 64.9,139.57 65.4,139.61 65.9,139.59 66.4,139.68 66.9,139.69 67.4,139.74 67.9,139.68 68.4,139.62 68.9,139.57 69.4,139.53 69.9,139.48 70.4,139.56 70.9,139.60 71.4,139.62 71.9,139.59 72.4,139.61 72.9,139.50 73.4,139.49 73.9,139.44 74.4,139.46 74.9,139.47 75.4,139.57 75.9,139.63 76.4,139.62 76.9,139.62 77.4,139.59 77.9,139.57 78.4,139.58 78.9,139.59 79.4,139.63 79.9,139.65 80.4,139.57 80.9,139.55 81.4,139.56 81.9,139.49 82.4,139.51 82.9,139.53 83.4,139.49 83.9,139.51 84.4,139.53 84.9,139.55 85.4,139.56 85.9,139.52 86.4,139.48 86.9,139.44 87.4,139.44 87.9,139.44 88.4,139.53 88.9,139.57 89.4,139.64 89.9,139.70 90.4,139.66 90.9,139.57 91.4,139.53 91.9,139.49 92.4,139.45 92.9,139.52 93.4,139.56 93.9,139.66 94.4,139.61 94.9,139.64 95.4,139.58 95.9,139.64 96.4,139.53 96.9,139.64 97.4,139.64 97.9,139.73 98.4,139.69 98.9,139.71 99.4,139.71 99.9,139.67 100.4,139.57 100.9,139.57 101.4,139.61 101.9,139.55 102.4,139.52 102.9,139.52 103.4,139.52 103.9,139.51 104.4,139.47 104.9,139.50 105.4,139.57 105.9,139.59 106.4,139.59 106.9,139.62 107.4,139.61 107.9,139.55 108.4,139.49 108.9,139.49 109.4,139.45 109.9,139.49 110.4,139.55 110.9,139.59 111.4,139.54 111.9,139.57 112.4,139.53 112.9,139.46 113.4,139.50 113.9,139.58 114.4,139.59 114.9,139.61 115.4,139.61 115.9,139.50 116.4,139.44 116.9,139.39 117.4,139.25 117.9,138.99 118.4,138.71 118.9,138.48 119.4,138.48 119.9,138.79 120.4,139.22 120.9,139.41 121.4,139.47 121.9,139.52 122.4,139.56 122.9,139.50 123.4,139.59 123.9,139.66 124.4,139.65 124.9,139.60 125.4,139.64 125.9,139.55 126.4,139.33 126.9,139.13 127.4,138.82 127.9,138.70 128.4,138.94 128.9,139.27 129.4,139.39 129.9,139.50 130.4,139.58 130.9,139.59 131.4,139.58 131.9,139.66 132.4,139.72 132.9,139.75 133.4,139.72 133.9,139.69 134.4,139.63 134.9,139.61 135.4,139.57 135.9,139.60 136.4,139.59 136.9,139.55 137.4,139.58 137.9,139.55 138.4,139.50 138.9,139.49 139.4,139.57 139.9,139.52 140.4,139.52 140.9,139.57 141.4,139.61 141.9,139.55 142.4,139.62 142.9,139.63 143.4,139.58 143.9,139.64 144.4,139.69 144.9,139.68 145.4,139.66 145.9,139.71 146.4,139.67 146.9,139.67 147.4,139.63 147.9,139.69 148.4,139.69 148.9,139.66 149.4,139.64 149.9,139.69 150.4,139.71 150.9,139.72 151.4,139.77 151.9,139.71 152.4,139.69 152.9,139.65 153.4,139.55 153.9,139.51 154.4,139.59 154.9,139.62 155.4,139.64 155.9,139.63 156.4,139.64 156.9,139.62 157.4,139.56 157.9,139.44 158.4,139.35 158.9,139.26 159.4,139.09 159.9,138.91 160.4,138.81 160.9,138.94 161.4,139.08 161.9,139.24 162.4,139.37 162.9,139.45 163.4,139.43 163.9,139.38 164.4,139.29 164.9,139.16 165.4,138.93 165.9,138.67 166.4,138.38 166.9,138.32 167.4,138.54 167.9,138.89 168.4,139.11 168.9,139.31 169.4,139.39 169.9,139.42 170.4,139.43 170.9,139.42 171.4,139.42 171.9,139.43 172.4,139.41 172.9,139.45 173.4,139.51 173.9,139.52 174.4,139.58 174.9,139.61 175.4,139.64 175.9,139.64 176.4,139.60 176.9,139.59 177.4,139.66 177.9,139.67 178.4,139.68 178.9,139.63 179.4,139.59 179.9,139.52 180.4,139.40 180.9,139.34 181.4,139.28 181.9,139.27 182.4,139.18 182.9,139.08 183.4,138.85 183.9,138.72 184.4,138.43 184.9,138.25 185.4,138.15 185.9,138.20 186.4,138.35 186.9,138.57 187.4,138.75 187.9,138.97 188.4,139.14 188.9,139.21 189.4,139.34 189.9,139.42 190.4,139.39 190.9,139.46 191.4,139.50 191.9,139.55 192.4,139.57 192.9,139.68 193.4,139.62 193.9,139.60 194.4,139.55 194.9,139.58 195.4,139.57 195.9,139.62 196.4,139.61 196.9,139.60 197.4,139.52 197.9,139.47 198.4,139.50 198.9,139.53 199.4,139.57 199.9,139.64 200.4,139.61 200.9,139.58 201.4,139.55 201.9,139.49 202.4,139.49 202.9,139.49 203.4,139.52 203.9,139.56 204.4,139.61 204.9,139.66 205.4,139.66 205.9,139.66 206.4,139.62 206.9,139.61 207.4,139.58 207.9,139.68 208.4,139.61 208.9,139.71 209.4,139.72 209.9,139.70 210.4,139.60 210.9,139.59 211.4,139.52 211.9,139.49 212.4,139.48 212.9,139.55 213.4,139.57 213.9,139.60 214.4,139.56 214.9,139.54 215.4,139.52 215.9,139.58 216.4,139.55 216.9,139.55 217.4,139.56 217.9,139.52 218.4,139.46 218.9,139.49 219.4,139.52 219.9,139.57 220.4,139.61 220.9,139.66 221.4,139.68 221.9,139.72 222.4,139.67 222.9,139.68 223.4,139.62 223.9,139.64 224.4,139.62 224.9,139.66 225.4,139.62 225.9,139.66 226.4,139.61 226.9,139.62 227.4,139.63 227.9,139.62"/>
<rect x="42.90" y="7.70" width="185.00" height="135.80" fill="none" stroke="#303030" stroke-width="1.6"/>
<line x1="42.90" y1="143.50" x2="42.90" y2="145.30" stroke="#303030" stroke-width="1.2"/>
<line x1="56.11" y1="143.50" x2="56.11" y2="146.50" stroke="#303030" stroke-width="1.2"/>
<text x="56.11" y="157.30" font-size="10.7" font-weight="bold" fill="#151515" text-anchor="middle" stroke="#151515" stroke-width="0.22">600</text>
<line x1="69.33" y1="143.50" x2="69.33" y2="145.30" stroke="#303030" stroke-width="1.2"/>
<line x1="82.54" y1="143.50" x2="82.54" y2="146.50" stroke="#303030" stroke-width="1.2"/>
<text x="82.54" y="157.30" font-size="10.7" font-weight="bold" fill="#151515" text-anchor="middle" stroke="#151515" stroke-width="0.22">800</text>
<line x1="95.76" y1="143.50" x2="95.76" y2="145.30" stroke="#303030" stroke-width="1.2"/>
<line x1="108.97" y1="143.50" x2="108.97" y2="146.50" stroke="#303030" stroke-width="1.2"/>
<text x="108.97" y="157.30" font-size="10.7" font-weight="bold" fill="#151515" text-anchor="middle" stroke="#151515" stroke-width="0.22">1000</text>
<line x1="122.19" y1="143.50" x2="122.19" y2="145.30" stroke="#303030" stroke-width="1.2"/>
<line x1="135.40" y1="143.50" x2="135.40" y2="146.50" stroke="#303030" stroke-width="1.2"/>
<text x="135.40" y="157.30" font-size="10.7" font-weight="bold" fill="#151515" text-anchor="middle" stroke="#151515" stroke-width="0.22">1200</text>
<line x1="148.61" y1="143.50" x2="148.61" y2="145.30" stroke="#303030" stroke-width="1.2"/>
<line x1="161.83" y1="143.50" x2="161.83" y2="146.50" stroke="#303030" stroke-width="1.2"/>
<text x="161.83" y="157.30" font-size="10.7" font-weight="bold" fill="#151515" text-anchor="middle" stroke="#151515" stroke-width="0.22">1400</text>
<line x1="175.04" y1="143.50" x2="175.04" y2="145.30" stroke="#303030" stroke-width="1.2"/>
<line x1="188.26" y1="143.50" x2="188.26" y2="146.50" stroke="#303030" stroke-width="1.2"/>
<text x="188.26" y="157.30" font-size="10.7" font-weight="bold" fill="#151515" text-anchor="middle" stroke="#151515" stroke-width="0.22">1600</text>
<line x1="201.47" y1="143.50" x2="201.47" y2="145.30" stroke="#303030" stroke-width="1.2"/>
<line x1="214.69" y1="143.50" x2="214.69" y2="146.50" stroke="#303030" stroke-width="1.2"/>
<text x="214.69" y="157.30" font-size="10.7" font-weight="bold" fill="#151515" text-anchor="middle" stroke="#151515" stroke-width="0.22">1800</text>
<line x1="227.90" y1="143.50" x2="227.90" y2="145.30" stroke="#303030" stroke-width="1.2"/>
<text x="92.80" y="172.30" font-size="10.8" font-weight="bold" fill="#151515" text-anchor="start" textLength="57.00" lengthAdjust="spacingAndGlyphs" stroke="#151515" stroke-width="0.18">Raman shift</text>
<text x="153.60" y="172.70" font-size="9.6" font-weight="bold" fill="#151515" text-anchor="start" textLength="16.60" lengthAdjust="spacingAndGlyphs" stroke="#151515" stroke-width="0.18">(cm</text>
<text x="170.80" y="166.90" font-size="5.8" font-weight="bold" fill="#151515" text-anchor="start" textLength="4.30" lengthAdjust="spacingAndGlyphs" stroke="#151515" stroke-width="0.18">-1</text>
<text x="175.80" y="172.70" font-size="9.2" font-weight="bold" fill="#151515" text-anchor="start" textLength="3.00" lengthAdjust="spacingAndGlyphs" stroke="#151515" stroke-width="0.18">)</text>
<text transform="translate(26.60,119.00) rotate(-90)" x="0" y="0" font-size="11" font-weight="bold" fill="#151515" textLength="81.80" lengthAdjust="spacingAndGlyphs" stroke="#151515" stroke-width="0.18">Intensity (counts)</text>
<text x="45.60" y="21.60" font-size="15.8" font-weight="normal" fill="#151515" text-anchor="start" textLength="16.60" lengthAdjust="spacingAndGlyphs" stroke="#151515" stroke-width="0.45">(a)</text>
<text x="125.30" y="21.00" font-size="10.5" font-weight="bold" fill="#151515" text-anchor="start" textLength="31.00" lengthAdjust="spacingAndGlyphs" stroke="#151515" stroke-width="0.18">4-ATP</text>
<line x1="207.00" y1="32.80" x2="207.00" y2="47.00" stroke="#1a1a1a" stroke-width="1.2"/>
<line x1="204.20" y1="32.80" x2="209.80" y2="32.80" stroke="#1a1a1a" stroke-width="1.3"/>
<line x1="204.20" y1="47.00" x2="209.80" y2="47.00" stroke="#1a1a1a" stroke-width="1.3"/>
<text transform="translate(219.80,62.60) rotate(-90)" x="0" y="0" font-size="8.2" font-weight="bold" fill="#151515" textLength="46.60" lengthAdjust="spacingAndGlyphs" stroke="#151515" stroke-width="0.18">20000 counts</text>
<line x1="77.30" y1="13.00" x2="77.30" y2="67.00" stroke="#111" stroke-width="1.1"/>
<polygon points="75.6,65.4 79.0,65.4 77.3,72.4" fill="#111"/>
<text x="80.20" y="18.80" font-size="8.4" font-weight="bold" fill="#1e1e1e" text-anchor="start" textLength="8.30" lengthAdjust="spacingAndGlyphs" stroke="#1e1e1e" stroke-width="0.55">10</text>
<text x="88.90" y="13.90" font-size="5.04" font-weight="bold" fill="#1e1e1e" text-anchor="start" stroke="#1e1e1e" stroke-width="0.2">-3</text>
<text x="80.20" y="26.25" font-size="8.4" font-weight="bold" fill="#ff2222" text-anchor="start" textLength="8.30" lengthAdjust="spacingAndGlyphs" stroke="#ff2222" stroke-width="0.55">10</text>
<text x="88.90" y="21.35" font-size="5.04" font-weight="bold" fill="#ff2222" text-anchor="start" stroke="#ff2222" stroke-width="0.2">-4</text>
<text x="80.20" y="33.70" font-size="8.4" font-weight="bold" fill="#2424ee" text-anchor="start" textLength="8.30" lengthAdjust="spacingAndGlyphs" stroke="#2424ee" stroke-width="0.55">10</text>
<text x="88.90" y="28.80" font-size="5.04" font-weight="bold" fill="#2424ee" text-anchor="start" stroke="#2424ee" stroke-width="0.2">-5</text>
<text x="80.20" y="41.15" font-size="8.4" font-weight="bold" fill="#ff28ff" text-anchor="start" textLength="8.30" lengthAdjust="spacingAndGlyphs" stroke="#ff28ff" stroke-width="0.55">10</text>
<text x="88.90" y="36.25" font-size="5.04" font-weight="bold" fill="#ff28ff" text-anchor="start" stroke="#ff28ff" stroke-width="0.2">-6</text>
<text x="80.20" y="48.60" font-size="8.4" font-weight="bold" fill="#139832" text-anchor="start" textLength="8.30" lengthAdjust="spacingAndGlyphs" stroke="#139832" stroke-width="0.55">10</text>
<text x="88.90" y="43.70" font-size="5.04" font-weight="bold" fill="#139832" text-anchor="start" stroke="#139832" stroke-width="0.2">-7</text>
<text x="80.20" y="56.05" font-size="8.4" font-weight="bold" fill="#2c2c90" text-anchor="start" textLength="8.30" lengthAdjust="spacingAndGlyphs" stroke="#2c2c90" stroke-width="0.55">10</text>
<text x="88.90" y="51.15" font-size="5.04" font-weight="bold" fill="#2c2c90" text-anchor="start" stroke="#2c2c90" stroke-width="0.2">-8</text>
<text x="80.20" y="63.50" font-size="8.4" font-weight="bold" fill="#9b38ee" text-anchor="start" textLength="8.30" lengthAdjust="spacingAndGlyphs" stroke="#9b38ee" stroke-width="0.55">10</text>
<text x="88.90" y="58.60" font-size="5.04" font-weight="bold" fill="#9b38ee" text-anchor="start" stroke="#9b38ee" stroke-width="0.2">-9</text>
<text x="80.20" y="70.95" font-size="8.4" font-weight="bold" fill="#992b99" text-anchor="start" textLength="8.30" lengthAdjust="spacingAndGlyphs" stroke="#992b99" stroke-width="0.55">10</text>
<text x="88.90" y="66.05" font-size="5.04" font-weight="bold" fill="#992b99" text-anchor="start" stroke="#992b99" stroke-width="0.2">-10</text>
<text x="202.20" y="137.50" font-size="6.6" font-weight="bold" fill="#a050a8" text-anchor="start" textLength="6.80" lengthAdjust="spacingAndGlyphs" stroke="#a050a8" stroke-width="0.1">×5</text>
<polyline fill="none" stroke="#ff28ff" stroke-width="1.45" stroke-linejoin="round" points="290.5,59.69 291.0,59.66 291.5,59.52 292.0,59.31 292.5,59.09 293.0,58.79 293.5,58.40 294.0,58.28 294.5,58.41 295.0,58.75 295.5,59.02 296.0,59.18 296.5,59.33 297.0,59.39 297.5,59.20 298.0,58.92 298.5,58.57 299.0,58.05 299.5,57.71 300.0,57.64 300.5,57.88 301.0,58.30 301.5,58.68 302.0,58.97 302.5,59.21 303.0,59.42 303.5,59.52 304.0,59.64 304.5,59.65 305.0,59.68 305.5,59.60 306.0,59.52 306.5,59.49 307.0,59.44 307.5,59.32 308.0,59.20 308.5,59.07 309.0,58.92 309.5,58.88 310.0,58.91 310.5,59.07 311.0,59.22 311.5,59.40 312.0,59.47 312.5,59.60 313.0,59.57 313.5,59.43 314.0,59.20 314.5,59.07 315.0,58.81 315.5,58.71 316.0,58.80 316.5,58.93 317.0,59.07 317.5,59.25 318.0,59.22 318.5,59.13 319.0,58.90 319.5,58.23 320.0,56.89 320.5,55.38 321.0,55.35 321.5,56.79 322.0,58.03 322.5,58.78 323.0,59.07 323.5,59.13 324.0,58.94 324.5,58.38 325.0,57.76 325.5,58.02 326.0,58.73 326.5,59.10 327.0,59.26 327.5,59.18 328.0,59.11 328.5,58.95 329.0,58.61 329.5,57.74 330.0,56.32 330.5,54.18 331.0,52.07 331.5,51.69 332.0,53.42 332.5,55.56 333.0,57.41 333.5,58.45 334.0,58.93 334.5,59.23 335.0,59.41 335.5,59.41 336.0,59.45 336.5,59.48 337.0,59.48 337.5,59.49 338.0,59.55 338.5,59.59 339.0,59.63 339.5,59.67 340.0,59.68 340.5,59.65 341.0,59.67 341.5,59.56 342.0,59.35 342.5,59.23 343.0,58.96 343.5,58.24 344.0,56.25 344.5,50.26 345.0,40.58 345.5,41.94 346.0,51.71 346.5,56.95 347.0,58.54 347.5,58.99 348.0,59.15 348.5,58.89 349.0,58.55 349.5,58.69 350.0,59.23 350.5,59.50 351.0,59.68 351.5,59.63 352.0,59.58 352.5,59.39 353.0,59.28 353.5,59.01 354.0,58.91 354.5,59.06 355.0,59.35 355.5,59.51 356.0,59.67 356.5,59.83 357.0,59.82 357.5,59.72 358.0,59.66 358.5,59.63 359.0,59.43 359.5,59.30 360.0,59.20 360.5,59.17 361.0,59.19 361.5,59.37 362.0,59.60 362.5,59.78 363.0,59.86 363.5,59.96 364.0,60.01 364.5,59.92 365.0,59.80 365.5,59.72 366.0,59.75 366.5,59.76 367.0,59.86 367.5,59.85 368.0,59.92 368.5,59.86 369.0,59.85 369.5,59.76 370.0,59.87 370.5,59.78 371.0,59.76 371.5,59.74 372.0,59.78 372.5,59.71 373.0,59.75 373.5,59.72 374.0,59.68 374.5,59.52 375.0,59.39 375.5,59.27 376.0,59.06 376.5,58.65 377.0,58.11 377.5,57.02 378.0,54.97 378.5,51.69 379.0,47.28 379.5,42.84 380.0,41.00 380.5,43.34 381.0,47.89 381.5,52.22 382.0,55.29 382.5,57.15 383.1,58.19 383.6,58.74 384.1,58.99 384.6,59.13 385.1,59.28 385.6,59.35 386.1,59.42 386.6,59.41 387.1,59.47 387.6,59.46 388.1,59.49 388.6,59.50 389.1,59.56 389.6,59.56 390.1,59.61 390.6,59.59 391.1,59.47 391.6,59.41 392.1,59.36 392.6,59.18 393.1,59.03 393.6,58.87 394.1,58.36 394.6,57.24 395.1,55.60 395.6,53.81 396.1,53.43 396.6,54.86 397.1,56.60 397.6,57.75 398.1,58.39 398.6,58.61 399.1,58.64 399.6,58.56 400.1,58.32 400.6,57.93 401.1,57.46 401.6,56.89 402.1,56.03 402.6,54.83 403.1,53.26 403.6,51.08 404.1,48.40 404.6,45.41 405.1,42.35 405.6,39.66 406.1,38.12 406.6,38.15 407.1,39.68 407.6,42.26 408.1,45.34 408.6,48.35 409.1,50.94 409.6,53.05 410.1,54.70 410.6,55.96 411.1,56.73 411.6,57.38 412.1,57.85 412.6,58.14 413.1,58.22 413.6,58.06 414.1,57.35 414.6,55.91 415.1,53.98 415.6,53.41 416.1,55.11 416.6,57.02 417.1,58.11 417.6,58.68 418.1,58.73 418.6,58.52 419.1,57.88 419.6,57.25 420.1,57.72 420.6,58.67 421.1,59.17 421.6,59.36 422.1,59.34 422.6,59.23 423.1,59.16 423.6,59.15 424.1,58.96 424.6,58.67 425.1,58.16 425.6,57.21 426.1,55.69 426.6,53.90 427.1,52.44 427.6,52.34 428.1,53.72 428.6,55.53 429.1,56.88 429.6,57.78 430.1,58.23 430.6,58.21 431.1,57.97 431.6,57.56 432.1,56.47 432.6,53.75 433.1,47.82 433.6,37.89 434.1,28.96 434.6,31.84 435.1,42.16 435.6,50.07 436.1,53.58 436.6,53.93 437.1,51.00 437.6,42.81 438.1,28.99 438.6,19.98 439.1,29.37 439.6,43.61 440.1,52.39 440.6,56.15 441.1,57.74 441.6,58.40 442.1,58.84 442.6,59.14 443.1,59.33 443.6,59.41 444.1,59.55 444.6,59.60 445.1,59.67 445.6,59.75 446.1,59.80 446.6,59.89 447.1,59.87 447.6,59.90 448.1,59.89 448.6,59.95 449.1,59.97 449.6,60.00 450.1,59.93 450.6,59.99 451.1,60.06 451.6,60.07 452.1,60.15 452.6,60.27 453.1,60.27 453.6,60.31 454.1,60.21 454.6,60.16 455.1,60.11 455.6,60.08 456.1,60.06 456.6,60.13 457.1,60.16 457.6,60.20 458.1,60.23 458.6,60.16 459.1,60.11 459.6,60.13 460.1,60.10 460.6,60.01 461.1,60.01 461.6,59.99 462.1,59.82 462.6,59.63 463.1,59.44 463.6,59.19 464.1,58.91 464.6,58.72 465.1,58.49 465.6,58.52 466.1,58.56 466.6,58.68 467.1,58.90 467.6,59.20 468.1,59.36 468.6,59.58 469.1,59.71 469.6,59.82 470.1,59.91 470.6,60.06 471.1,60.15 471.6,60.22 472.1,60.25 472.6,60.24 473.1,60.19 473.6,60.20 474.1,60.29 474.6,60.30 475.1,60.34 475.6,60.32"/>
<polyline fill="none" stroke="#2424ee" stroke-width="1.45" stroke-linejoin="round" points="290.5,79.99 291.0,79.94 291.5,79.81 292.0,79.69 292.5,79.55 293.0,79.34 293.5,79.08 294.0,79.01 294.5,79.08 295.0,79.32 295.5,79.50 296.0,79.69 296.5,79.66 297.0,79.69 297.5,79.49 298.0,79.31 298.5,78.91 299.0,78.60 299.5,78.34 300.0,78.34 300.5,78.52 301.0,78.96 301.5,79.31 302.0,79.48 302.5,79.78 303.0,80.00 303.5,79.96 304.0,79.98 304.5,80.00 305.0,79.91 305.5,79.84 306.0,79.80 306.5,79.77 307.0,79.66 307.5,79.51 308.0,79.39 308.5,79.31 309.0,79.22 309.5,79.34 310.0,79.49 310.5,79.57 311.0,79.64 311.5,79.77 312.0,79.87 312.5,79.95 313.0,79.95 313.5,79.91 314.0,79.72 314.5,79.51 315.0,79.30 315.5,79.12 316.0,79.14 316.5,79.28 317.0,79.42 317.5,79.56 318.0,79.68 318.5,79.63 319.0,79.49 319.5,78.94 320.0,77.89 320.5,76.72 321.0,76.74 321.5,77.80 322.0,78.88 322.5,79.39 323.0,79.65 323.5,79.65 324.0,79.53 324.5,79.06 325.0,78.67 325.5,78.82 326.0,79.34 326.5,79.53 327.0,79.67 327.5,79.64 328.0,79.56 328.5,79.39 329.0,79.18 329.5,78.53 330.0,77.48 330.5,75.85 331.0,74.35 331.5,73.99 332.0,75.23 332.5,76.90 333.0,78.32 333.5,79.01 334.0,79.42 334.5,79.71 335.0,79.77 335.5,79.75 336.0,79.80 336.5,79.80 337.0,79.81 337.5,79.90 338.0,80.01 338.5,80.08 339.0,80.07 339.5,80.03 340.0,79.99 340.5,79.95 341.0,79.94 341.5,79.92 342.0,79.87 342.5,79.71 343.0,79.49 343.5,79.01 344.0,77.77 344.5,73.78 345.0,67.28 345.5,68.20 346.0,74.73 346.5,78.08 347.0,79.15 347.5,79.54 348.0,79.71 348.5,79.62 349.0,79.40 349.5,79.44 350.0,79.71 350.5,79.86 351.0,79.90 351.5,79.88 352.0,79.91 352.5,79.84 353.0,79.65 353.5,79.49 354.0,79.56 354.5,79.60 355.0,79.78 355.5,80.00 356.0,80.16 356.5,80.19 357.0,80.21 357.5,80.22 358.0,80.23 358.5,80.21 359.0,80.19 359.5,80.19 360.0,80.16 360.5,80.14 361.0,80.11 361.5,80.04 362.0,80.09 362.5,80.16 363.0,80.16 363.5,80.20 364.0,80.32 364.5,80.29 365.0,80.27 365.5,80.22 366.0,80.11 366.5,80.04 367.0,80.00 367.5,80.01 368.0,80.05 368.5,80.10 369.0,80.12 369.5,80.09 370.0,80.03 370.5,80.01 371.0,79.98 371.5,79.92 372.0,79.93 372.5,79.88 373.0,79.85 373.5,79.78 374.0,79.71 374.5,79.64 375.0,79.62 375.5,79.53 376.0,79.45 376.5,79.35 377.0,78.97 377.5,78.18 378.0,76.88 378.5,74.80 379.0,71.92 379.5,69.17 380.0,68.06 380.5,69.55 381.0,72.41 381.5,75.19 382.0,77.02 382.5,78.18 383.1,78.82 383.6,79.14 384.1,79.26 384.6,79.41 385.1,79.57 385.6,79.66 386.1,79.77 386.6,79.77 387.1,79.83 387.6,79.80 388.1,79.86 388.6,79.80 389.1,79.84 389.6,79.89 390.1,79.90 390.6,79.81 391.1,79.82 391.6,79.82 392.1,79.72 392.6,79.63 393.1,79.58 393.6,79.43 394.1,78.97 394.6,78.16 395.1,76.78 395.6,75.39 396.1,75.04 396.6,76.20 397.1,77.51 397.6,78.41 398.1,78.77 398.6,78.92 399.1,78.94 399.6,78.87 400.1,78.72 400.6,78.61 401.1,78.33 401.6,77.95 402.1,77.39 402.6,76.58 403.1,75.44 403.6,74.06 404.1,72.21 404.6,70.15 405.1,68.13 405.6,66.36 406.1,65.25 406.6,65.29 407.1,66.37 407.6,68.12 408.1,70.09 408.6,72.07 409.1,73.80 409.6,75.27 410.1,76.39 410.6,77.32 411.1,77.90 411.6,78.30 412.1,78.57 412.6,78.81 413.1,78.85 413.6,78.77 414.1,78.48 414.6,77.74 415.1,76.61 415.6,76.26 416.1,77.34 416.6,78.39 417.1,78.97 417.6,79.26 418.1,79.37 418.6,79.13 419.1,78.73 419.6,78.25 420.1,78.45 420.6,78.94 421.1,79.30 421.6,79.35 422.1,79.47 422.6,79.47 423.1,79.47 423.6,79.42 424.1,79.33 424.6,79.16 425.1,78.83 425.6,78.18 426.1,77.27 426.6,76.09 427.1,75.04 427.6,74.96 428.1,75.92 428.6,77.08 429.1,78.00 429.6,78.59 430.1,78.85 430.6,78.88 431.1,78.70 431.6,78.36 432.1,77.60 432.6,75.82 433.1,71.72 433.6,65.03 434.1,58.97 434.6,60.97 435.1,67.95 435.6,73.38 436.1,75.80 436.6,76.05 437.1,74.06 437.6,68.59 438.1,59.36 438.6,53.37 439.1,59.57 439.6,69.00 440.1,74.76 440.6,77.19 441.1,78.09 441.6,78.57 442.1,78.89 442.6,79.10 443.1,79.32 443.6,79.50 444.1,79.71 444.6,79.86 445.1,79.99 445.6,80.07 446.1,80.03 446.6,79.96 447.1,79.98 447.6,79.97 448.1,79.89 448.6,80.00 449.1,80.04 449.6,80.00 450.1,79.99 450.6,80.01 451.1,79.93 451.6,79.96 452.1,80.02 452.6,80.11 453.1,80.18 453.6,80.29 454.1,80.26 454.6,80.18 455.1,80.18 455.6,80.15 456.1,80.12 456.6,80.08 457.1,80.07 457.6,80.01 458.1,80.02 458.6,80.03 459.1,80.12 459.6,80.12 460.1,80.08 460.6,80.07 461.1,80.05 461.6,79.97 462.1,79.88 462.6,79.82 463.1,79.68 463.6,79.48 464.1,79.33 464.6,79.24 465.1,79.15 465.6,79.06 466.1,79.10 466.6,79.27 467.1,79.42 467.6,79.50 468.1,79.66 468.6,79.71 469.1,79.78 469.6,79.85 470.1,79.90 470.6,79.96 471.1,80.06 471.6,80.06 472.1,80.05 472.6,80.08 473.1,80.07 473.6,80.13 474.1,80.10 474.6,80.13 475.1,80.15 475.6,80.13"/>
<polyline fill="none" stroke="#ff2222" stroke-width="1.45" stroke-linejoin="round" points="290.5,93.61 291.0,93.61 291.5,93.54 292.0,93.48 292.5,93.47 293.0,93.46 293.5,93.50 294.0,93.51 294.5,93.52 295.0,93.48 295.5,93.57 296.0,93.58 296.5,93.55 297.0,93.55 297.5,93.51 298.0,93.52 298.5,93.54 299.0,93.64 299.5,93.71 300.0,93.79 300.5,93.80 301.0,93.80 301.5,93.73 302.0,93.73 302.5,93.70 303.0,93.67 303.5,93.64 304.0,93.66 304.5,93.60 305.0,93.59 305.5,93.54 306.0,93.48 306.5,93.53 307.0,93.58 307.5,93.65 308.0,93.70 308.5,93.76 309.0,93.75 309.5,93.66 310.0,93.62 310.5,93.59 311.0,93.54 311.5,93.47 312.0,93.52 312.5,93.46 313.0,93.46 313.5,93.51 314.0,93.54 314.5,93.48 315.0,93.51 315.5,93.48 316.0,93.43 316.5,93.39 317.0,93.42 317.5,93.35 318.0,93.38 318.5,93.44 319.0,93.38 319.5,93.23 320.0,92.98 320.5,92.51 321.0,92.40 321.5,92.83 322.0,93.20 322.5,93.36 323.0,93.46 323.5,93.53 324.0,93.55 324.5,93.56 325.0,93.58 325.5,93.58 326.0,93.63 326.5,93.55 327.0,93.51 327.5,93.40 328.0,93.45 328.5,93.34 329.0,93.22 329.5,92.84 330.0,92.36 330.5,91.53 331.0,90.79 331.5,90.60 332.0,91.28 332.5,92.05 333.0,92.64 333.5,92.97 334.0,93.22 334.5,93.24 335.0,93.27 335.5,93.28 336.0,93.36 336.5,93.36 337.0,93.42 337.5,93.41 338.0,93.46 338.5,93.42 339.0,93.36 339.5,93.28 340.0,93.40 340.5,93.34 341.0,93.32 341.5,93.31 342.0,93.35 342.5,93.16 343.0,93.09 343.5,92.84 344.0,92.14 344.5,89.69 345.0,85.94 345.5,86.51 346.0,90.37 346.5,92.34 347.0,93.03 347.5,93.29 348.0,93.37 348.5,93.31 349.0,93.34 349.5,93.42 350.0,93.44 350.5,93.44 351.0,93.51 351.5,93.52 352.0,93.37 352.5,93.23 353.0,93.08 353.5,92.87 354.0,92.74 354.5,92.84 355.0,92.98 355.5,93.09 356.0,93.22 356.5,93.26 357.0,93.37 357.5,93.42 358.0,93.43 358.5,93.48 359.0,93.50 359.5,93.47 360.0,93.47 360.5,93.51 361.0,93.45 361.5,93.48 362.0,93.44 362.5,93.47 363.0,93.45 363.5,93.51 364.0,93.48 364.5,93.50 365.0,93.44 365.5,93.43 366.0,93.34 366.5,93.35 367.0,93.36 367.5,93.42 368.0,93.54 368.5,93.52 369.0,93.54 369.5,93.49 370.0,93.47 370.5,93.38 371.0,93.48 371.5,93.47 372.0,93.45 372.5,93.33 373.0,93.30 373.5,93.26 374.0,93.18 374.5,93.18 375.0,93.17 375.5,93.11 376.0,93.00 376.5,92.84 377.0,92.58 377.5,92.09 378.0,91.20 378.5,89.61 379.0,87.59 379.5,85.44 380.0,84.56 380.5,85.67 381.0,87.89 381.5,89.92 382.0,91.33 382.5,92.16 383.1,92.63 383.6,92.88 384.1,92.98 384.6,93.10 385.1,93.27 385.6,93.29 386.1,93.23 386.6,93.19 387.1,93.18 387.6,93.16 388.1,93.15 388.6,93.24 389.1,93.34 389.6,93.47 390.1,93.47 390.6,93.51 391.1,93.49 391.6,93.47 392.1,93.41 392.6,93.31 393.1,93.31 393.6,93.15 394.1,92.90 394.6,92.58 395.1,92.04 395.6,91.38 396.1,91.35 396.6,91.84 397.1,92.27 397.6,92.57 398.1,92.74 398.6,92.72 399.1,92.77 399.6,92.74 400.1,92.75 400.6,92.69 401.1,92.50 401.6,92.21 402.1,91.85 402.6,91.22 403.1,90.35 403.6,89.35 404.1,88.12 404.6,86.72 405.1,85.27 405.6,84.07 406.1,83.34 406.6,83.24 407.1,83.95 407.6,85.14 408.1,86.60 408.6,87.94 409.1,89.15 409.6,90.16 410.1,90.99 410.6,91.59 411.1,92.05 411.6,92.40 412.1,92.63 412.6,92.74 413.1,92.78 413.6,92.77 414.1,92.56 414.6,92.10 415.1,91.43 415.6,91.26 416.1,91.78 416.6,92.51 417.1,92.81 417.6,93.01 418.1,93.05 418.6,93.20 419.1,93.15 419.6,93.22 420.1,93.30 420.6,93.27 421.1,93.22 421.6,93.19 422.1,93.17 422.6,93.18 423.1,93.16 423.6,93.08 424.1,93.02 424.6,92.93 425.1,92.65 425.6,92.33 426.1,91.79 426.6,91.05 427.1,90.46 427.6,90.47 428.1,90.99 428.6,91.69 429.1,92.31 429.6,92.61 430.1,92.70 430.6,92.65 431.1,92.43 431.6,92.05 432.1,91.37 432.6,89.72 433.1,85.98 433.6,79.92 434.1,74.50 434.6,76.26 435.1,82.63 435.6,87.63 436.1,89.89 436.6,90.32 437.1,89.03 437.6,85.10 438.1,78.43 438.6,74.19 439.1,78.66 439.6,85.57 440.1,89.76 440.6,91.62 441.1,92.34 441.6,92.73 442.1,92.88 442.6,93.00 443.1,93.08 443.6,93.10 444.1,93.18 444.6,93.28 445.1,93.44 445.6,93.46 446.1,93.49 446.6,93.48 447.1,93.49 447.6,93.39 448.1,93.38 448.6,93.36 449.1,93.34 449.6,93.29 450.1,93.41 450.6,93.42 451.1,93.53 451.6,93.53 452.1,93.52 452.6,93.53 453.1,93.52 453.6,93.41 454.1,93.40 454.6,93.38 455.1,93.31 455.6,93.33 456.1,93.34 456.6,93.33 457.1,93.41 457.6,93.37 458.1,93.37 458.6,93.43 459.1,93.54 459.6,93.54 460.1,93.62 460.6,93.69 461.1,93.72 461.6,93.71 462.1,93.65 462.6,93.57 463.1,93.56 463.6,93.52 464.1,93.48 464.6,93.56 465.1,93.58 465.6,93.59 466.1,93.58 466.6,93.57 467.1,93.50 467.6,93.52 468.1,93.50 468.6,93.52 469.1,93.58 469.6,93.59 470.1,93.64 470.6,93.58 471.1,93.59 471.6,93.50 472.1,93.57 472.6,93.61 473.1,93.63 473.6,93.65 474.1,93.66 474.6,93.59 475.1,93.48 475.6,93.50"/>
<polyline fill="none" stroke="#1e1e1e" stroke-width="1.45" stroke-linejoin="round" points="290.5,106.32 291.0,106.34 291.5,106.34 292.0,106.34 292.5,106.26 293.0,106.31 293.5,106.33 294.0,106.33 294.5,106.26 295.0,106.25 295.5,106.28 296.0,106.28 296.5,106.21 297.0,106.30 297.5,106.35 298.0,106.25 298.5,106.28 299.0,106.33 299.5,106.25 300.0,106.25 300.5,106.25 301.0,106.22 301.5,106.15 302.0,106.15 302.5,106.19 303.0,106.23 303.5,106.31 304.0,106.36 304.5,106.41 305.0,106.39 305.5,106.43 306.0,106.32 306.5,106.34 307.0,106.34 307.5,106.25 308.0,106.17 308.5,106.27 309.0,106.26 309.5,106.20 310.0,106.24 310.5,106.25 311.0,106.24 311.5,106.24 312.0,106.23 312.5,106.27 313.0,106.25 313.5,106.19 314.0,106.12 314.5,106.20 315.0,106.11 315.5,106.16 316.0,106.14 316.5,106.19 317.0,106.17 317.5,106.22 318.0,106.19 318.5,106.21 319.0,106.14 319.5,105.96 320.0,105.61 320.5,105.29 321.0,105.24 321.5,105.62 322.0,105.96 322.5,106.12 323.0,106.14 323.5,106.23 324.0,106.20 324.5,106.09 325.0,106.17 325.5,106.27 326.0,106.23 326.5,106.19 327.0,106.25 327.5,106.26 328.0,106.13 328.5,106.06 329.0,105.91 329.5,105.68 330.0,105.20 330.5,104.61 331.0,104.05 331.5,103.92 332.0,104.35 332.5,105.03 333.0,105.56 333.5,105.84 334.0,106.11 334.5,106.19 335.0,106.14 335.5,106.09 336.0,106.09 336.5,106.01 337.0,106.00 337.5,106.08 338.0,106.11 338.5,106.13 339.0,106.18 339.5,106.26 340.0,106.18 340.5,106.23 341.0,106.23 341.5,106.21 342.0,106.13 342.5,106.16 343.0,106.07 343.5,105.90 344.0,105.33 344.5,103.48 345.0,100.51 345.5,100.96 346.0,103.87 346.5,105.41 347.0,105.89 347.5,106.12 348.0,106.15 348.5,106.16 349.0,106.21 349.5,106.24 350.0,106.17 350.5,106.12 351.0,106.08 351.5,105.94 352.0,105.88 352.5,105.70 353.0,105.49 353.5,105.33 354.0,105.30 354.5,105.39 355.0,105.69 355.5,105.89 356.0,106.02 356.5,106.09 357.0,106.10 357.5,106.05 358.0,106.06 358.5,106.11 359.0,106.08 359.5,106.15 360.0,106.16 360.5,106.22 361.0,106.22 361.5,106.24 362.0,106.28 362.5,106.33 363.0,106.32 363.5,106.24 364.0,106.25 364.5,106.16 365.0,106.14 365.5,106.18 366.0,106.29 366.5,106.24 367.0,106.29 367.5,106.35 368.0,106.29 368.5,106.19 369.0,106.29 369.5,106.25 370.0,106.25 370.5,106.28 371.0,106.36 371.5,106.36 372.0,106.30 372.5,106.26 373.0,106.17 373.5,106.06 374.0,105.96 374.5,105.99 375.0,105.84 375.5,105.79 376.0,105.79 376.5,105.66 377.0,105.41 377.5,104.99 378.0,104.23 378.5,102.82 379.0,101.04 379.5,99.24 380.0,98.46 380.5,99.45 381.0,101.32 381.5,103.10 382.0,104.38 382.5,105.25 383.1,105.64 383.6,105.89 384.1,105.94 384.6,105.95 385.1,106.01 385.6,105.95 386.1,105.94 386.6,106.03 387.1,106.11 387.6,106.09 388.1,106.22 388.6,106.28 389.1,106.26 389.6,106.22 390.1,106.24 390.6,106.12 391.1,106.10 391.6,106.06 392.1,106.08 392.6,106.00 393.1,106.04 393.6,106.03 394.1,105.87 394.6,105.50 395.1,105.00 395.6,104.55 396.1,104.39 396.6,104.77 397.1,105.25 397.6,105.55 398.1,105.60 398.6,105.60 399.1,105.57 399.6,105.56 400.1,105.50 400.6,105.37 401.1,105.28 401.6,105.08 402.1,104.62 402.6,104.19 403.1,103.62 403.6,102.76 404.1,101.78 404.6,100.70 405.1,99.48 405.6,98.48 406.1,97.87 406.6,97.85 407.1,98.41 407.6,99.43 408.1,100.58 408.6,101.68 409.1,102.68 409.6,103.55 410.1,104.25 410.6,104.69 411.1,105.06 411.6,105.33 412.1,105.47 412.6,105.49 413.1,105.58 413.6,105.50 414.1,105.31 414.6,104.88 415.1,104.39 415.6,104.21 416.1,104.74 416.6,105.29 417.1,105.72 417.6,105.84 418.1,105.93 418.6,105.99 419.1,106.08 419.6,106.03 420.1,106.08 420.6,106.01 421.1,106.03 421.6,105.91 422.1,105.90 422.6,105.86 423.1,105.95 423.6,105.89 424.1,105.88 424.6,105.82 425.1,105.63 425.6,105.23 426.1,104.73 426.6,104.17 427.1,103.67 427.6,103.59 428.1,104.10 428.6,104.76 429.1,105.17 429.6,105.37 430.1,105.48 430.6,105.48 431.1,105.27 431.6,105.01 432.1,104.60 432.6,103.34 433.1,100.58 433.6,95.99 434.1,91.89 434.6,93.21 435.1,97.99 435.6,101.66 436.1,103.41 436.6,103.77 437.1,102.82 437.6,99.88 438.1,94.91 438.6,91.71 439.1,95.05 439.6,100.18 440.1,103.37 440.6,104.71 441.1,105.25 441.6,105.54 442.1,105.70 442.6,105.80 443.1,105.93 443.6,105.97 444.1,106.08 444.6,106.05 445.1,106.16 445.6,106.09 446.1,106.10 446.6,106.04 447.1,106.16 447.6,106.09 448.1,106.15 448.6,106.15 449.1,106.17 449.6,106.07 450.1,106.15 450.6,106.22 451.1,106.21 451.6,106.28 452.1,106.32 452.6,106.28 453.1,106.21 453.6,106.29 454.1,106.28 454.6,106.32 455.1,106.30 455.6,106.30 456.1,106.18 456.6,106.09 457.1,106.06 457.6,106.08 458.1,106.04 458.6,106.11 459.1,106.20 459.6,106.27 460.1,106.36 460.6,106.40 461.1,106.36 461.6,106.38 462.1,106.32 462.6,106.25 463.1,106.30 463.6,106.35 464.1,106.35 464.6,106.39 465.1,106.46 465.6,106.38 466.1,106.43 466.6,106.38 467.1,106.38 467.6,106.29 468.1,106.31 468.6,106.22 469.1,106.18 469.6,106.21 470.1,106.19 470.6,106.19 471.1,106.23 471.6,106.24 472.1,106.14 472.6,106.16 473.1,106.16 473.6,106.08 474.1,106.15 474.6,106.21 475.1,106.21 475.6,106.30"/>
<polyline fill="none" stroke="#139832" stroke-width="1.45" stroke-linejoin="round" points="290.5,118.75 291.0,118.62 291.5,118.73 292.0,118.73 292.5,118.82 293.0,118.82 293.5,118.85 294.0,118.78 294.5,118.78 295.0,118.71 295.5,118.61 296.0,118.61 296.5,118.68 297.0,118.70 297.5,118.77 298.0,118.76 298.5,118.85 299.0,118.81 299.5,118.72 300.0,118.68 300.5,118.70 301.0,118.60 301.5,118.60 302.0,118.62 302.5,118.63 303.0,118.70 303.5,118.77 304.0,118.75 304.5,118.82 305.0,118.87 305.5,118.81 306.0,118.85 306.5,118.80 307.0,118.71 307.5,118.61 308.0,118.66 308.5,118.63 309.0,118.72 309.5,118.74 310.0,118.78 310.5,118.77 311.0,118.70 311.5,118.62 312.0,118.59 312.5,118.59 313.0,118.58 313.5,118.64 314.0,118.67 314.5,118.73 315.0,118.70 315.5,118.71 316.0,118.68 316.5,118.66 317.0,118.64 317.5,118.72 318.0,118.64 318.5,118.71 319.0,118.72 319.5,118.74 320.0,118.64 320.5,118.72 321.0,118.71 321.5,118.72 322.0,118.68 322.5,118.73 323.0,118.67 323.5,118.67 324.0,118.73 324.5,118.81 325.0,118.78 325.5,118.74 326.0,118.75 326.5,118.75 327.0,118.68 327.5,118.70 328.0,118.76 328.5,118.77 329.0,118.65 329.5,118.64 330.0,118.69 330.5,118.70 331.0,118.63 331.5,118.72 332.0,118.79 332.5,118.77 333.0,118.73 333.5,118.68 334.0,118.58 334.5,118.55 335.0,118.55 335.5,118.56 336.0,118.59 336.5,118.67 337.0,118.72 337.5,118.71 338.0,118.70 338.5,118.76 339.0,118.78 339.5,118.80 340.0,118.84 340.5,118.80 341.0,118.78 341.5,118.71 342.0,118.64 342.5,118.58 343.0,118.57 343.5,118.47 344.0,118.40 344.5,117.93 345.0,117.24 345.5,117.42 346.0,118.17 346.5,118.47 347.0,118.63 347.5,118.65 348.0,118.62 348.5,118.60 349.0,118.59 349.5,118.63 350.0,118.64 350.5,118.61 351.0,118.71 351.5,118.77 352.0,118.70 352.5,118.72 353.0,118.73 353.5,118.63 354.0,118.60 354.5,118.65 355.0,118.61 355.5,118.66 356.0,118.76 356.5,118.77 357.0,118.77 357.5,118.70 358.0,118.74 358.5,118.65 359.0,118.68 359.5,118.69 360.0,118.77 360.5,118.74 361.0,118.79 361.5,118.81 362.0,118.75 362.5,118.69 363.0,118.69 363.5,118.68 364.0,118.60 364.5,118.62 365.0,118.65 365.5,118.60 366.0,118.62 366.5,118.71 367.0,118.68 367.5,118.73 368.0,118.84 368.5,118.83 369.0,118.79 369.5,118.78 370.0,118.68 370.5,118.59 371.0,118.63 371.5,118.58 372.0,118.67 372.5,118.74 373.0,118.80 373.5,118.68 374.0,118.75 374.5,118.66 375.0,118.65 375.5,118.64 376.0,118.71 376.5,118.68 377.0,118.74 377.5,118.63 378.0,118.45 378.5,118.25 379.0,117.82 379.5,117.31 380.0,117.12 380.5,117.49 381.0,117.88 381.5,118.29 382.0,118.50 382.5,118.60 383.1,118.59 383.6,118.62 384.1,118.64 384.6,118.64 385.1,118.64 385.6,118.70 386.1,118.77 386.6,118.73 387.1,118.80 387.6,118.75 388.1,118.68 388.6,118.67 389.1,118.66 389.6,118.62 390.1,118.75 390.6,118.78 391.1,118.72 391.6,118.71 392.1,118.68 392.6,118.61 393.1,118.63 393.6,118.62 394.1,118.72 394.6,118.71 395.1,118.73 395.6,118.72 396.1,118.69 396.6,118.70 397.1,118.71 397.6,118.68 398.1,118.70 398.6,118.75 399.1,118.68 399.6,118.64 400.1,118.59 400.6,118.55 401.1,118.51 401.6,118.49 402.1,118.49 402.6,118.46 403.1,118.29 403.6,118.18 404.1,117.97 404.6,117.68 405.1,117.47 405.6,117.34 406.1,117.12 406.6,117.17 407.1,117.36 407.6,117.49 408.1,117.68 408.6,118.00 409.1,118.10 409.6,118.25 410.1,118.36 410.6,118.39 411.1,118.46 411.6,118.61 412.1,118.63 412.6,118.73 413.1,118.77 413.6,118.72 414.1,118.68 414.6,118.70 415.1,118.70 415.6,118.71 416.1,118.74 416.6,118.72 417.1,118.72 417.6,118.75 418.1,118.79 418.6,118.75 419.1,118.75 419.6,118.77 420.1,118.71 420.6,118.70 421.1,118.67 421.6,118.64 422.1,118.55 422.6,118.58 423.1,118.53 423.6,118.60 424.1,118.59 424.6,118.65 425.1,118.65 425.6,118.66 426.1,118.60 426.6,118.62 427.1,118.60 427.6,118.53 428.1,118.52 428.6,118.59 429.1,118.68 429.6,118.63 430.1,118.66 430.6,118.71 431.1,118.71 431.6,118.63 432.1,118.64 432.6,118.56 433.1,118.28 433.6,117.65 434.1,117.01 434.6,117.26 435.1,117.86 435.6,118.29 436.1,118.37 436.6,118.31 437.1,118.07 437.6,117.49 438.1,116.09 438.6,115.06 439.1,116.15 439.6,117.54 440.1,118.22 440.6,118.49 441.1,118.55 441.6,118.55 442.1,118.65 442.6,118.70 443.1,118.70 443.6,118.74 444.1,118.80 444.6,118.71 445.1,118.72 445.6,118.67 446.1,118.61 446.6,118.63 447.1,118.63 447.6,118.57 448.1,118.59 448.6,118.68 449.1,118.65 449.6,118.67 450.1,118.66 450.6,118.69 451.1,118.60 451.6,118.57 452.1,118.59 452.6,118.67 453.1,118.68 453.6,118.79 454.1,118.78 454.6,118.80 455.1,118.70 455.6,118.66 456.1,118.64 456.6,118.69 457.1,118.72 457.6,118.79 458.1,118.78 458.6,118.73 459.1,118.70 459.6,118.70 460.1,118.74 460.6,118.80 461.1,118.87 461.6,118.94 462.1,118.94 462.6,118.87 463.1,118.77 463.6,118.75 464.1,118.66 464.6,118.70 465.1,118.75 465.6,118.77 466.1,118.78 466.6,118.85 467.1,118.84 467.6,118.74 468.1,118.74 468.6,118.65 469.1,118.67 469.6,118.60 470.1,118.64 470.6,118.70 471.1,118.73 471.6,118.69 472.1,118.74 472.6,118.73 473.1,118.76 473.6,118.79 474.1,118.81 474.6,118.82 475.1,118.85 475.6,118.75"/>
<polyline fill="none" stroke="#2c2c90" stroke-width="1.45" stroke-linejoin="round" points="290.5,130.96 291.0,130.99 291.5,130.97 292.0,130.99 292.5,130.95 293.0,130.94 293.5,130.91 294.0,130.90 294.5,130.91 295.0,130.94 295.5,130.98 296.0,131.04 296.5,131.05 297.0,131.07 297.5,131.12 298.0,131.10 298.5,131.01 299.0,131.03 299.5,131.01 300.0,130.96 300.5,130.92 301.0,130.94 301.5,130.92 302.0,130.94 302.5,130.94 303.0,130.96 303.5,131.00 304.0,131.06 304.5,131.01 305.0,130.99 305.5,131.04 306.0,131.06 306.5,131.04 307.0,131.06 307.5,131.08 308.0,131.00 308.5,130.95 309.0,130.92 309.5,130.88 310.0,130.92 310.5,130.98 311.0,130.95 311.5,130.99 312.0,131.03 312.5,131.05 313.0,131.02 313.5,131.10 314.0,131.06 314.5,131.07 315.0,131.03 315.5,130.99 316.0,130.93 316.5,130.90 317.0,130.89 317.5,130.87 318.0,130.92 318.5,130.97 319.0,130.99 319.5,130.98 320.0,130.99 320.5,131.03 321.0,131.04 321.5,131.07 322.0,131.12 322.5,131.09 323.0,131.01 323.5,130.94 324.0,130.89 324.5,130.81 325.0,130.85 325.5,130.93 326.0,130.93 326.5,130.99 327.0,131.07 327.5,131.09 328.0,131.01 328.5,131.07 329.0,131.02 329.5,130.95 330.0,130.88 330.5,130.91 331.0,130.94 331.5,130.93 332.0,130.92 332.5,130.96 333.0,130.91 333.5,130.87 334.0,130.93 334.5,130.96 335.0,130.92 335.5,130.92 336.0,130.90 336.5,130.89 337.0,130.94 337.5,130.98 338.0,130.99 338.5,130.99 339.0,130.96 339.5,130.88 340.0,130.85 340.5,130.88 341.0,130.94 341.5,130.92 342.0,130.99 342.5,131.06 343.0,131.05 343.5,130.97 344.0,130.91 344.5,130.71 345.0,130.43 345.5,130.51 346.0,130.79 346.5,130.96 347.0,130.94 347.5,130.91 348.0,130.86 348.5,130.86 349.0,130.83 349.5,130.92 350.0,130.93 350.5,130.95 351.0,130.99 351.5,131.03 352.0,130.99 352.5,131.01 353.0,131.01 353.5,130.96 354.0,130.98 354.5,130.99 355.0,131.01 355.5,130.99 356.0,131.03 356.5,131.04 357.0,131.05 357.5,130.99 358.0,130.99 358.5,130.96 359.0,130.95 359.5,130.92 360.0,130.95 360.5,130.94 361.0,130.97 361.5,130.97 362.0,130.99 362.5,130.98 363.0,130.99 363.5,131.01 364.0,130.94 364.5,130.97 365.0,130.95 365.5,130.97 366.0,130.93 366.5,131.01 367.0,130.99 367.5,131.01 368.0,131.00 368.5,131.07 369.0,131.06 369.5,131.06 370.0,131.10 370.5,131.12 371.0,131.13 371.5,131.09 372.0,131.09 372.5,131.10 373.0,131.08 373.5,131.01 374.0,131.02 374.5,131.00 375.0,130.99 375.5,131.01 376.0,131.08 376.5,131.03 377.0,131.00 377.5,131.02 378.0,131.02 378.5,131.03 379.0,131.10 379.5,131.18 380.0,131.11 380.5,131.06 381.0,131.02 381.5,131.02 382.0,130.94 382.5,131.01 383.1,131.02 383.6,130.98 384.1,130.95 384.6,130.95 385.1,130.87 385.6,130.85 386.1,130.84 386.6,130.81 387.1,130.86 387.6,130.92 388.1,130.99 388.6,131.03 389.1,131.09 389.6,131.03 390.1,131.04 390.6,131.01 391.1,130.98 391.6,130.94 392.1,130.95 392.6,130.94 393.1,130.93 393.6,130.92 394.1,130.91 394.6,130.89 395.1,130.91 395.6,130.92 396.1,130.99 396.6,131.03 397.1,131.06 397.6,131.04 398.1,131.05 398.6,130.98 399.1,131.02 399.6,131.02 400.1,131.01 400.6,131.00 401.1,131.08 401.6,131.00 402.1,130.98 402.6,130.92 403.1,130.92 403.6,130.90 404.1,130.93 404.6,131.02 405.1,131.03 405.6,131.08 406.1,131.01 406.6,131.06 407.1,130.99 407.6,131.03 408.1,130.99 408.6,131.07 409.1,131.03 409.6,131.09 410.1,131.04 410.6,131.06 411.1,131.02 411.6,131.03 412.1,131.04 412.6,131.07 413.1,131.04 413.6,131.05 414.1,131.03 414.6,130.95 415.1,130.96 415.6,130.93 416.1,130.93 416.6,130.94 417.1,130.93 417.6,130.96 418.1,131.02 418.6,131.02 419.1,131.01 419.6,131.03 420.1,131.06 420.6,131.01 421.1,131.02 421.6,131.00 422.1,131.05 422.6,131.04 423.1,131.02 423.6,130.98 424.1,131.04 424.6,131.05 425.1,131.04 425.6,131.02 426.1,131.00 426.6,131.02 427.1,130.97 427.6,130.98 428.1,131.02 428.6,131.09 429.1,131.02 429.6,131.07 430.1,131.02 430.6,130.98 431.1,130.91 431.6,130.88 432.1,130.81 432.6,130.81 433.1,130.77 433.6,130.58 434.1,130.32 434.6,130.46 435.1,130.75 435.6,130.93 436.1,131.00 436.6,131.05 437.1,131.01 437.6,130.81 438.1,130.41 438.6,130.09 439.1,130.31 439.6,130.66 440.1,130.81 440.6,130.87 441.1,130.92 441.6,130.91 442.1,130.85 442.6,130.84 443.1,130.83 443.6,130.77 444.1,130.84 444.6,130.86 445.1,130.87 445.6,130.92 446.1,130.94 446.6,130.87 447.1,130.85 447.6,130.87 448.1,130.86 448.6,130.84 449.1,130.88 449.6,130.92 450.1,130.98 450.6,131.00 451.1,131.02 451.6,131.00 452.1,130.97 452.6,130.92 453.1,130.95 453.6,131.02 454.1,131.01 454.6,131.06 455.1,131.09 455.6,131.09 456.1,131.07 456.6,131.12 457.1,131.06 457.6,131.02 458.1,131.02 458.6,131.03 459.1,131.06 459.6,131.08 460.1,131.13 460.6,131.11 461.1,131.07 461.6,131.01 462.1,131.02 462.6,131.00 463.1,130.93 463.6,130.89 464.1,130.95 464.6,130.95 465.1,130.94 465.6,130.99 466.1,131.04 466.6,131.01 467.1,131.02 467.6,130.99 468.1,130.93 468.6,130.91 469.1,130.88 469.6,130.92 470.1,130.97 470.6,130.97 471.1,131.03 471.6,131.02 472.1,130.97 472.6,130.98 473.1,131.04 473.6,130.98 474.1,130.99 474.6,130.95 475.1,130.98 475.6,131.00"/>
<rect x="290.50" y="7.50" width="185.10" height="135.80" fill="none" stroke="#303030" stroke-width="1.6"/>
<line x1="290.50" y1="143.30" x2="290.50" y2="145.10" stroke="#303030" stroke-width="1.2"/>
<line x1="303.72" y1="143.30" x2="303.72" y2="146.30" stroke="#303030" stroke-width="1.2"/>
<text x="303.72" y="157.10" font-size="10.7" font-weight="bold" fill="#151515" text-anchor="middle" stroke="#151515" stroke-width="0.22">600</text>
<line x1="316.94" y1="143.30" x2="316.94" y2="145.10" stroke="#303030" stroke-width="1.2"/>
<line x1="330.16" y1="143.30" x2="330.16" y2="146.30" stroke="#303030" stroke-width="1.2"/>
<text x="330.16" y="157.10" font-size="10.7" font-weight="bold" fill="#151515" text-anchor="middle" stroke="#151515" stroke-width="0.22">800</text>
<line x1="343.39" y1="143.30" x2="343.39" y2="145.10" stroke="#303030" stroke-width="1.2"/>
<line x1="356.61" y1="143.30" x2="356.61" y2="146.30" stroke="#303030" stroke-width="1.2"/>
<text x="356.61" y="157.10" font-size="10.7" font-weight="bold" fill="#151515" text-anchor="middle" stroke="#151515" stroke-width="0.22">1000</text>
<line x1="369.83" y1="143.30" x2="369.83" y2="145.10" stroke="#303030" stroke-width="1.2"/>
<line x1="383.05" y1="143.30" x2="383.05" y2="146.30" stroke="#303030" stroke-width="1.2"/>
<text x="383.05" y="157.10" font-size="10.7" font-weight="bold" fill="#151515" text-anchor="middle" stroke="#151515" stroke-width="0.22">1200</text>
<line x1="396.27" y1="143.30" x2="396.27" y2="145.10" stroke="#303030" stroke-width="1.2"/>
<line x1="409.49" y1="143.30" x2="409.49" y2="146.30" stroke="#303030" stroke-width="1.2"/>
<text x="409.49" y="157.10" font-size="10.7" font-weight="bold" fill="#151515" text-anchor="middle" stroke="#151515" stroke-width="0.22">1400</text>
<line x1="422.71" y1="143.30" x2="422.71" y2="145.10" stroke="#303030" stroke-width="1.2"/>
<line x1="435.94" y1="143.30" x2="435.94" y2="146.30" stroke="#303030" stroke-width="1.2"/>
<text x="435.94" y="157.10" font-size="10.7" font-weight="bold" fill="#151515" text-anchor="middle" stroke="#151515" stroke-width="0.22">1600</text>
<line x1="449.16" y1="143.30" x2="449.16" y2="145.10" stroke="#303030" stroke-width="1.2"/>
<line x1="462.38" y1="143.30" x2="462.38" y2="146.30" stroke="#303030" stroke-width="1.2"/>
<text x="462.38" y="157.10" font-size="10.7" font-weight="bold" fill="#151515" text-anchor="middle" stroke="#151515" stroke-width="0.22">1800</text>
<line x1="475.60" y1="143.30" x2="475.60" y2="145.10" stroke="#303030" stroke-width="1.2"/>
<text x="340.40" y="172.30" font-size="10.8" font-weight="bold" fill="#151515" text-anchor="start" textLength="57.00" lengthAdjust="spacingAndGlyphs" stroke="#151515" stroke-width="0.18">Raman shift</text>
<text x="401.20" y="172.70" font-size="9.6" font-weight="bold" fill="#151515" text-anchor="start" textLength="16.60" lengthAdjust="spacingAndGlyphs" stroke="#151515" stroke-width="0.18">(cm</text>
<text x="418.40" y="166.90" font-size="5.8" font-weight="bold" fill="#151515" text-anchor="start" textLength="4.30" lengthAdjust="spacingAndGlyphs" stroke="#151515" stroke-width="0.18">-1</text>
<text x="423.40" y="172.70" font-size="9.2" font-weight="bold" fill="#151515" text-anchor="start" textLength="3.00" lengthAdjust="spacingAndGlyphs" stroke="#151515" stroke-width="0.18">)</text>
<text transform="translate(274.60,123.00) rotate(-90)" x="0" y="0" font-size="11" font-weight="bold" fill="#151515" textLength="81.80" lengthAdjust="spacingAndGlyphs" stroke="#151515" stroke-width="0.18">Intensity (counts)</text>
<text x="293.90" y="22.20" font-size="15.8" font-weight="normal" fill="#151515" text-anchor="start" textLength="18.00" lengthAdjust="spacingAndGlyphs" stroke="#151515" stroke-width="0.45">(b)</text>
<text x="375.30" y="21.20" font-size="10.5" font-weight="bold" fill="#151515" text-anchor="start" textLength="15.00" lengthAdjust="spacingAndGlyphs" stroke="#151515" stroke-width="0.18">CV</text>
<line x1="455.70" y1="24.30" x2="455.70" y2="38.60" stroke="#1a1a1a" stroke-width="1.2"/>
<line x1="452.40" y1="24.30" x2="459.00" y2="24.30" stroke="#1a1a1a" stroke-width="1.3"/>
<line x1="452.40" y1="38.60" x2="459.00" y2="38.60" stroke="#1a1a1a" stroke-width="1.3"/>
<text transform="translate(470.50,53.40) rotate(-90)" x="0" y="0" font-size="7.9" font-weight="bold" fill="#151515" textLength="42.50" lengthAdjust="spacingAndGlyphs" stroke="#151515" stroke-width="0.18">10000 counts</text>
<text x="303.80" y="57.80" font-size="8.4" font-weight="bold" fill="#ff28ff" text-anchor="start" textLength="8.10" lengthAdjust="spacingAndGlyphs" stroke="#ff28ff" stroke-width="0.55">10</text>
<text x="312.30" y="52.90" font-size="5.04" font-weight="bold" fill="#ff28ff" text-anchor="start" stroke="#ff28ff" stroke-width="0.2">-4</text>
<text x="303.80" y="78.60" font-size="8.4" font-weight="bold" fill="#2424ee" text-anchor="start" textLength="8.10" lengthAdjust="spacingAndGlyphs" stroke="#2424ee" stroke-width="0.55">10</text>
<text x="312.30" y="73.70" font-size="5.04" font-weight="bold" fill="#2424ee" text-anchor="start" stroke="#2424ee" stroke-width="0.2">-5</text>
<text x="303.80" y="91.60" font-size="8.4" font-weight="bold" fill="#ff2222" text-anchor="start" textLength="8.10" lengthAdjust="spacingAndGlyphs" stroke="#ff2222" stroke-width="0.55">10</text>
<text x="312.30" y="86.70" font-size="5.04" font-weight="bold" fill="#ff2222" text-anchor="start" stroke="#ff2222" stroke-width="0.2">-6</text>
<text x="303.80" y="104.70" font-size="8.4" font-weight="bold" fill="#1e1e1e" text-anchor="start" textLength="8.10" lengthAdjust="spacingAndGlyphs" stroke="#1e1e1e" stroke-width="0.55">10</text>
<text x="312.30" y="99.80" font-size="5.04" font-weight="bold" fill="#1e1e1e" text-anchor="start" stroke="#1e1e1e" stroke-width="0.2">-7</text>
<text x="303.80" y="117.00" font-size="8.4" font-weight="bold" fill="#139832" text-anchor="start" textLength="8.10" lengthAdjust="spacingAndGlyphs" stroke="#139832" stroke-width="0.55">10</text>
<text x="312.30" y="112.10" font-size="5.04" font-weight="bold" fill="#139832" text-anchor="start" stroke="#139832" stroke-width="0.2">-8</text>
<text x="303.80" y="128.50" font-size="8.4" font-weight="bold" fill="#2c2c90" text-anchor="start" textLength="8.10" lengthAdjust="spacingAndGlyphs" stroke="#2c2c90" stroke-width="0.55">10</text>
<text x="312.30" y="123.60" font-size="5.04" font-weight="bold" fill="#2c2c90" text-anchor="start" stroke="#2c2c90" stroke-width="0.2">-9</text>
<polyline fill="none" stroke="#1e1e1e" stroke-width="1.45" stroke-linejoin="round" points="43.0,244.88 43.5,245.08 44.0,245.12 44.5,245.08 45.0,245.08 45.5,245.09 46.0,244.84 46.5,244.69 47.0,244.72 47.5,244.58 48.0,244.75 48.5,244.82 49.0,244.78 49.5,244.60 50.0,244.89 50.5,244.87 51.0,245.07 51.5,245.18 52.0,245.17 52.5,244.94 53.0,244.84 53.5,244.56 54.0,244.60 54.5,244.55 55.0,244.21 55.5,243.87 56.0,243.48 56.5,243.51 57.0,243.95 57.5,244.48 58.0,244.59 58.5,244.82 59.0,244.61 59.5,244.45 60.0,244.43 60.5,244.16 61.0,243.96 61.5,243.81 62.0,244.28 62.5,244.59 63.0,244.99 63.5,245.12 64.0,245.30 64.5,245.25 65.0,245.02 65.5,244.93 66.0,244.95 66.5,244.82 67.0,244.87 67.5,245.10 68.0,245.05 68.5,244.86 69.0,244.87 69.5,244.56 70.0,244.28 70.5,243.67 71.0,242.60 71.5,241.49 72.0,241.45 72.5,242.33 73.0,243.37 73.5,244.20 74.1,244.70 74.6,244.86 75.1,244.65 75.6,244.65 76.1,244.54 76.6,244.31 77.1,243.85 77.6,243.76 78.1,243.92 78.6,244.33 79.1,244.44 79.6,244.67 80.1,244.74 80.6,244.63 81.1,244.26 81.6,244.23 82.1,244.01 82.6,243.67 83.1,243.55 83.6,243.71 84.1,244.01 84.6,244.44 85.1,244.75 85.6,245.06 86.1,245.27 86.6,245.23 87.1,245.24 87.6,245.29 88.1,245.10 88.6,244.87 89.1,244.97 89.6,244.73 90.1,244.59 90.6,244.71 91.1,244.86 91.6,244.71 92.1,244.89 92.6,244.82 93.1,244.54 93.6,244.18 94.1,243.75 94.6,242.82 95.1,241.81 95.6,240.83 96.1,240.78 96.6,241.74 97.1,243.00 97.6,243.98 98.1,244.48 98.6,244.77 99.1,244.76 99.6,244.82 100.1,244.71 100.6,244.71 101.1,244.67 101.6,244.73 102.1,244.70 102.6,244.71 103.1,244.50 103.6,244.14 104.1,244.13 104.6,244.20 105.1,244.46 105.6,244.59 106.1,244.74 106.6,244.51 107.1,244.63 107.6,244.76 108.1,244.65 108.6,244.57 109.1,244.73 109.6,244.73 110.1,244.54 110.6,244.52 111.1,244.32 111.6,244.22 112.1,243.91 112.6,243.12 113.1,241.79 113.6,239.34 114.1,235.42 114.6,231.11 115.1,228.89 115.6,231.09 116.1,235.40 116.6,239.13 117.1,241.60 117.6,242.99 118.1,243.55 118.6,243.75 119.1,243.97 119.6,243.99 120.1,244.10 120.6,244.24 121.1,244.40 121.6,244.39 122.1,244.58 122.6,244.75 123.1,244.77 123.6,244.83 124.1,244.77 124.6,244.57 125.1,244.05 125.6,243.58 126.1,242.77 126.6,242.64 127.1,242.86 127.6,243.64 128.1,243.90 128.6,243.98 129.1,243.71 129.6,243.35 130.1,243.05 130.6,243.09 131.1,243.65 131.6,244.11 132.1,244.56 132.6,244.41 133.1,244.53 133.6,244.51 134.1,244.52 134.6,244.45 135.1,244.39 135.7,244.23 136.2,243.90 136.7,243.21 137.2,241.74 137.7,239.96 138.2,237.28 138.7,234.21 139.2,232.41 139.7,233.74 140.2,236.37 140.7,239.00 141.2,241.08 141.7,242.59 142.2,243.26 142.7,243.76 143.2,244.14 143.7,244.24 144.2,244.24 144.7,244.16 145.2,244.14 145.7,243.93 146.2,243.73 146.7,242.96 147.2,241.82 147.7,240.58 148.2,239.82 148.7,240.40 149.2,241.75 149.7,243.03 150.2,243.72 150.7,244.04 151.2,243.99 151.7,243.63 152.2,242.81 152.7,241.24 153.2,238.66 153.7,237.31 154.2,239.03 154.7,241.59 155.2,243.25 155.7,244.26 156.2,244.64 156.7,244.88 157.2,244.96 157.7,245.01 158.2,245.03 158.7,245.08 159.2,244.94 159.7,245.03 160.2,244.90 160.7,244.88 161.2,244.93 161.7,245.16 162.2,245.18 162.7,245.06 163.2,244.96 163.7,244.79 164.2,244.59 164.7,244.31 165.2,244.47 165.7,244.37 166.2,244.34 166.7,244.47 167.2,244.60 167.7,244.48 168.2,244.32 168.7,244.17 169.2,243.36 169.7,241.88 170.2,240.17 170.7,239.36 171.2,240.11 171.7,241.62 172.2,243.17 172.7,243.91 173.2,244.13 173.7,244.33 174.2,244.35 174.7,244.29 175.2,244.25 175.7,244.34 176.2,244.12 176.7,244.14 177.2,244.15 177.7,244.14 178.2,243.95 178.7,243.87 179.2,243.57 179.7,242.92 180.2,242.30 180.7,241.40 181.2,240.10 181.7,238.82 182.2,236.99 182.7,235.19 183.2,233.62 183.7,232.62 184.2,232.11 184.7,232.90 185.2,233.48 185.7,233.53 186.2,232.33 186.7,229.79 187.2,227.01 187.7,227.53 188.2,231.23 188.7,235.63 189.2,239.13 189.7,241.51 190.2,242.57 190.7,243.18 191.2,243.69 191.7,244.04 192.2,244.09 192.7,244.12 193.2,244.24 193.7,244.19 194.2,244.17 194.7,244.13 195.2,244.41 195.7,244.66 196.2,244.85 196.7,244.98 197.2,244.92 197.8,244.85 198.3,244.59 198.8,244.54 199.3,244.44 199.8,244.58 200.3,244.35 200.8,244.22 201.3,244.09 201.8,244.00 202.3,244.00 202.8,244.19 203.3,244.57 203.8,244.55 204.3,244.55 204.8,244.56 205.3,244.57 205.8,244.56 206.3,244.76 206.8,244.71 207.3,244.63 207.8,244.70 208.3,244.71 208.8,244.47 209.3,244.50 209.8,244.45 210.3,244.22 210.8,244.08 211.3,244.14 211.8,244.18 212.3,244.17 212.8,244.21 213.3,244.42 213.8,244.47 214.3,244.49 214.8,244.75 215.3,245.02 215.8,244.94 216.3,244.83 216.8,244.99 217.3,244.85 217.8,244.64 218.3,244.60 218.8,244.75 219.3,244.69 219.8,244.68 220.3,244.90 220.8,244.95 221.3,244.84 221.8,244.91 222.3,245.11 222.8,245.18 223.3,245.24 223.8,245.26 224.3,245.24 224.8,245.27 225.3,245.15 225.8,245.23 226.3,245.47 226.8,245.35 227.3,245.36 227.8,245.49 228.3,245.46"/>
<polyline fill="none" stroke="#9b38ee" stroke-width="1.45" stroke-linejoin="round" points="43.0,256.24 43.5,256.00 44.0,256.14 44.5,256.24 45.0,256.20 45.5,256.22 46.0,256.46 46.5,256.36 47.0,256.44 47.5,256.45 48.0,256.58 48.5,256.57 49.0,256.68 49.5,256.52 50.0,256.51 50.5,256.48 51.0,256.30 51.5,256.15 52.0,256.38 52.5,256.29 53.0,256.39 53.5,256.53 54.0,256.75 54.5,256.67 55.0,256.70 55.5,256.61 56.0,256.46 56.5,256.45 57.0,256.38 57.5,256.40 58.0,256.50 58.5,256.61 59.0,256.38 59.5,256.52 60.0,256.49 60.5,256.26 61.0,256.09 61.5,256.20 62.0,255.97 62.5,256.04 63.0,256.13 63.5,256.26 64.0,256.22 64.5,256.39 65.0,256.38 65.5,256.32 66.0,256.26 66.5,256.30 67.0,256.17 67.5,256.06 68.0,256.09 68.5,256.05 69.0,255.98 69.5,255.85 70.0,255.32 70.5,254.80 71.0,253.87 71.5,252.95 72.0,252.80 72.5,253.78 73.0,254.71 73.5,255.47 74.1,255.90 74.6,256.04 75.1,256.14 75.6,255.98 76.1,256.02 76.6,256.03 77.1,256.12 77.6,255.97 78.1,255.99 78.6,255.85 79.1,255.90 79.6,256.03 80.1,256.10 80.6,256.08 81.1,256.21 81.6,255.98 82.1,255.72 82.6,255.58 83.1,255.62 83.6,255.53 84.1,255.91 84.6,256.13 85.1,256.21 85.6,256.22 86.1,256.44 86.6,256.45 87.1,256.46 87.6,256.53 88.1,256.55 88.6,256.38 89.1,256.39 89.6,256.50 90.1,256.46 90.6,256.55 91.1,256.46 91.6,256.38 92.1,256.32 92.6,256.25 93.1,256.03 93.6,256.22 94.1,256.20 94.6,256.10 95.1,256.01 95.6,256.24 96.1,256.14 96.6,256.05 97.1,256.03 97.6,256.09 98.1,256.06 98.6,256.01 99.1,256.06 99.6,256.02 100.1,256.08 100.6,255.89 101.1,255.94 101.6,256.07 102.1,256.30 102.6,256.40 103.1,256.35 103.6,256.36 104.1,256.39 104.6,256.12 105.1,255.94 105.6,256.06 106.1,256.05 106.6,256.01 107.1,256.20 107.6,256.26 108.1,256.18 108.6,256.11 109.1,255.95 109.6,255.73 110.1,255.75 110.6,255.67 111.1,255.78 111.6,255.78 112.1,255.58 112.6,255.16 113.1,254.61 113.6,253.26 114.1,251.68 114.6,250.05 115.1,249.32 115.6,249.86 116.1,251.62 116.6,253.32 117.1,254.70 117.6,255.25 118.1,255.79 118.6,255.85 119.1,255.79 119.6,255.87 120.1,256.09 120.6,255.98 121.1,256.08 121.6,256.19 122.1,256.01 122.6,256.02 123.1,256.29 123.6,256.34 124.1,256.27 124.6,256.47 125.1,256.39 125.6,256.20 126.1,256.12 126.6,256.06 127.1,256.06 127.6,256.06 128.1,256.21 128.6,256.36 129.1,256.59 129.6,256.40 130.1,256.37 130.6,256.42 131.1,256.39 131.6,256.22 132.1,256.34 132.6,256.27 133.1,256.04 133.6,255.82 134.1,255.79 134.6,255.63 135.1,255.67 135.7,255.82 136.2,255.74 136.7,255.60 137.2,255.37 137.7,254.42 138.2,252.18 138.7,249.04 139.2,246.39 139.7,247.99 140.2,251.44 140.7,254.00 141.2,255.25 141.7,255.78 142.2,255.76 142.7,255.74 143.2,255.73 143.7,255.82 144.2,256.10 144.7,256.23 145.2,256.38 145.7,256.46 146.2,256.30 146.7,256.32 147.2,256.48 147.7,256.51 148.2,256.55 148.7,256.67 149.2,256.57 149.7,256.35 150.2,256.16 150.7,255.85 151.2,255.43 151.7,255.19 152.2,254.82 152.7,254.49 153.2,254.56 153.7,254.89 154.2,255.11 154.7,255.41 155.2,255.63 155.7,255.78 156.2,255.93 156.7,255.93 157.2,256.09 157.7,256.14 158.2,256.16 158.7,256.30 159.2,256.48 159.7,256.35 160.2,256.28 160.7,256.39 161.2,256.29 161.7,256.07 162.2,255.99 162.7,256.04 163.2,255.85 163.7,255.73 164.2,255.67 164.7,255.90 165.2,256.05 165.7,255.96 166.2,256.02 166.7,256.18 167.2,255.94 167.7,255.57 168.2,255.37 168.7,254.93 169.2,254.40 169.7,253.76 170.2,253.25 170.7,253.05 171.2,253.19 171.7,253.72 172.2,254.45 172.7,255.07 173.2,255.40 173.7,255.73 174.2,255.68 174.7,255.56 175.2,255.45 175.7,255.50 176.2,255.65 176.7,255.71 177.2,255.80 177.7,255.92 178.2,255.93 178.7,255.67 179.2,255.80 179.7,255.72 180.2,255.46 180.7,255.07 181.2,254.80 181.7,254.06 182.2,252.92 182.7,251.57 183.2,250.20 183.7,249.00 184.2,248.79 184.7,249.83 185.2,251.01 185.7,251.83 186.2,251.76 186.7,250.74 187.2,248.73 187.7,246.98 188.2,247.32 188.7,249.71 189.2,252.04 189.7,253.72 190.2,254.75 190.7,255.29 191.2,255.47 191.7,255.70 192.2,255.75 192.7,256.04 193.2,256.11 193.7,256.12 194.2,256.05 194.7,256.01 195.2,255.97 195.7,255.84 196.2,255.96 196.7,255.95 197.2,256.15 197.8,255.98 198.3,256.18 198.8,256.22 199.3,256.21 199.8,256.03 200.3,256.10 200.8,256.10 201.3,255.97 201.8,255.91 202.3,256.01 202.8,256.14 203.3,256.00 203.8,256.20 204.3,256.35 204.8,256.27 205.3,256.07 205.8,256.13 206.3,256.00 206.8,255.91 207.3,255.89 207.8,256.00 208.3,255.97 208.8,255.96 209.3,256.04 209.8,256.22 210.3,256.24 210.8,256.24 211.3,256.16 211.8,256.28 212.3,256.10 212.8,255.97 213.3,255.92 213.8,256.11 214.3,256.02 214.8,256.27 215.3,256.42 215.8,256.49 216.3,256.38 216.8,256.44 217.3,256.24 217.8,256.29 218.3,256.31 218.8,256.20 219.3,256.09 219.8,256.18 220.3,255.99 220.8,256.14 221.3,256.39 221.8,256.44 222.3,256.54 222.8,256.70 223.3,256.59 223.8,256.37 224.3,256.50 224.8,256.50 225.3,256.44 225.8,256.39 226.3,256.37 226.8,256.27 227.3,256.25 227.8,256.24 228.3,256.21"/>
<polyline fill="none" stroke="#139832" stroke-width="1.45" stroke-linejoin="round" points="43.0,268.07 43.5,267.92 44.0,267.80 44.5,267.58 45.0,267.61 45.5,267.57 46.0,267.51 46.5,267.49 47.0,267.46 47.5,267.43 48.0,267.51 48.5,267.56 49.0,267.58 49.5,267.79 50.0,267.86 50.5,267.68 51.0,267.78 51.5,267.80 52.0,267.78 52.5,267.86 53.0,268.12 53.5,268.00 54.0,268.05 54.5,267.96 55.0,267.95 55.5,267.86 56.0,267.84 56.5,267.65 57.0,267.68 57.5,267.72 58.0,267.70 58.5,267.74 59.0,267.90 59.5,267.81 60.0,267.66 60.5,267.58 61.0,267.69 61.5,267.56 62.0,267.54 62.5,267.51 63.0,267.43 63.5,267.27 64.0,267.38 64.5,267.58 65.0,267.65 65.5,267.74 66.0,267.74 66.5,267.66 67.0,267.64 67.5,267.70 68.0,267.65 68.5,267.59 69.0,267.70 69.5,267.62 70.0,267.59 70.5,267.40 71.0,267.27 71.5,267.06 72.0,267.00 72.5,267.24 73.0,267.49 73.5,267.82 74.1,267.70 74.6,267.71 75.1,267.48 75.6,267.68 76.1,267.61 76.6,267.88 77.1,268.00 77.6,268.27 78.1,268.19 78.6,268.28 79.1,268.22 79.6,268.09 80.1,268.10 80.6,268.05 81.1,267.82 81.6,267.63 82.1,267.67 82.6,267.44 83.1,267.60 83.6,267.82 84.1,267.86 84.6,267.76 85.1,267.86 85.6,267.64 86.1,267.52 86.6,267.69 87.1,267.73 87.6,267.70 88.1,267.91 88.6,267.88 89.1,267.75 89.6,267.93 90.1,268.05 90.6,268.04 91.1,268.11 91.6,268.13 92.1,268.08 92.6,268.08 93.1,268.01 93.6,267.88 94.1,267.84 94.6,267.76 95.1,267.74 95.6,267.72 96.1,267.81 96.6,267.96 97.1,267.87 97.6,267.83 98.1,267.77 98.6,267.77 99.1,267.77 99.6,267.81 100.1,267.90 100.6,267.83 101.1,267.83 101.6,267.74 102.1,267.74 102.6,267.62 103.1,267.73 103.6,267.70 104.1,267.75 104.6,267.68 105.1,267.62 105.6,267.71 106.1,267.61 106.6,267.65 107.1,267.70 107.6,267.78 108.1,267.60 108.6,267.68 109.1,267.54 109.6,267.49 110.1,267.47 110.6,267.53 111.1,267.56 111.6,267.54 112.1,267.59 112.6,267.39 113.1,267.00 113.6,266.35 114.1,264.98 114.6,263.47 115.1,262.63 115.6,263.51 116.1,265.08 116.6,266.53 117.1,267.19 117.6,267.37 118.1,267.49 118.6,267.45 119.1,267.39 119.6,267.53 120.1,267.57 120.6,267.61 121.1,267.64 121.6,267.79 122.1,267.65 122.6,267.71 123.1,267.66 123.6,267.59 124.1,267.33 124.6,267.15 125.1,266.83 125.6,266.58 126.1,266.10 126.6,265.79 127.1,266.15 127.6,266.65 128.1,267.00 128.6,267.23 129.1,267.57 129.6,267.56 130.1,267.80 130.6,267.72 131.1,267.89 131.6,267.83 132.1,267.77 132.6,267.75 133.1,267.75 133.6,267.57 134.1,267.41 134.6,267.62 135.1,267.39 135.7,267.48 136.2,267.43 136.7,267.46 137.2,267.06 137.7,266.52 138.2,265.61 138.7,264.39 139.2,263.38 139.7,264.11 140.2,265.64 140.7,266.51 141.2,266.97 141.7,267.40 142.2,267.31 142.7,267.33 143.2,267.46 143.7,267.69 144.2,267.70 144.7,267.90 145.2,267.93 145.7,267.98 146.2,267.95 146.7,267.88 147.2,267.70 147.7,267.49 148.2,267.56 148.7,267.44 149.2,267.46 149.7,267.49 150.2,267.60 150.7,267.43 151.2,267.47 151.7,267.27 152.2,267.04 152.7,266.87 153.2,266.97 153.7,267.20 154.2,267.40 154.7,267.74 155.2,267.96 155.7,268.10 156.2,267.91 156.7,267.95 157.2,267.93 157.7,267.89 158.2,267.62 158.7,267.70 159.2,267.81 159.7,267.80 160.2,267.72 160.7,267.77 161.2,267.77 161.7,267.58 162.2,267.45 162.7,267.42 163.2,267.59 163.7,267.64 164.2,267.73 164.7,267.71 165.2,267.67 165.7,267.61 166.2,267.56 166.7,267.47 167.2,267.61 167.7,267.63 168.2,267.63 168.7,267.53 169.2,267.49 169.7,267.17 170.2,266.99 170.7,266.89 171.2,267.08 171.7,267.27 172.2,267.47 172.7,267.47 173.2,267.57 173.7,267.47 174.2,267.42 174.7,267.33 175.2,267.32 175.7,267.19 176.2,267.34 176.7,267.42 177.2,267.58 177.7,267.72 178.2,267.63 178.7,267.32 179.2,267.17 179.7,266.80 180.2,266.51 180.7,266.18 181.2,265.75 181.7,264.93 182.2,264.18 182.7,263.45 183.2,262.95 183.7,263.02 184.2,263.40 184.7,263.86 185.2,263.86 185.7,263.22 186.2,261.58 186.7,259.29 187.2,257.23 187.7,257.17 188.2,259.04 188.7,261.59 189.2,263.87 189.7,265.40 190.2,266.22 190.7,266.70 191.2,267.15 191.7,267.18 192.2,267.35 192.7,267.37 193.2,267.60 193.7,267.41 194.2,267.64 194.7,267.71 195.2,267.75 195.7,267.53 196.2,267.75 196.7,267.80 197.2,267.51 197.8,267.49 198.3,267.37 198.8,266.99 199.3,266.78 199.8,266.81 200.3,266.76 200.8,266.93 201.3,267.15 201.8,267.16 202.3,267.29 202.8,267.45 203.3,267.57 203.8,267.77 204.3,267.81 204.8,267.90 205.3,267.86 205.8,267.71 206.3,267.71 206.8,267.72 207.3,267.58 207.8,267.39 208.3,267.57 208.8,267.38 209.3,267.61 209.8,267.55 210.3,267.77 210.8,267.80 211.3,267.93 211.8,267.82 212.3,268.05 212.8,268.00 213.3,267.82 213.8,267.89 214.3,267.83 214.8,267.77 215.3,267.74 215.8,267.96 216.3,267.85 216.8,267.99 217.3,267.85 217.8,267.80 218.3,267.73 218.8,267.79 219.3,267.78 219.8,267.82 220.3,267.96 220.8,268.00 221.3,267.86 221.8,267.66 222.3,267.77 222.8,267.82 223.3,267.77 223.8,267.85 224.3,267.96 224.8,268.02 225.3,267.89 225.8,267.87 226.3,267.92 226.8,268.04 227.3,268.04 227.8,268.13 228.3,268.05"/>
<polyline fill="none" stroke="#ff2222" stroke-width="1.45" stroke-linejoin="round" points="43.0,279.91 43.5,279.90 44.0,279.70 44.5,279.85 45.0,279.62 45.5,279.76 46.0,279.78 46.5,279.96 47.0,279.87 47.5,280.06 48.0,280.14 48.5,279.98 49.0,279.91 49.5,280.05 50.0,280.01 50.5,279.87 51.0,279.92 51.5,280.03 52.0,279.80 52.5,279.80 53.0,279.91 53.5,279.87 54.0,279.70 54.5,279.76 55.0,279.70 55.5,279.57 56.0,279.77 56.5,279.93 57.0,279.93 57.5,280.03 58.0,279.95 58.5,279.73 59.0,279.66 59.5,279.79 60.0,279.77 60.5,280.01 61.0,280.22 61.5,280.11 62.0,280.09 62.5,280.12 63.0,279.87 63.5,279.77 64.0,279.74 64.5,279.57 65.0,279.45 65.5,279.59 66.0,279.71 66.5,279.70 67.0,279.78 67.5,279.90 68.0,279.89 68.5,279.73 69.0,279.68 69.5,279.56 70.0,279.06 70.5,278.50 71.0,277.81 71.5,277.17 72.0,277.12 72.5,277.75 73.0,278.46 73.5,279.08 74.1,279.39 74.6,279.41 75.1,279.55 75.6,279.59 76.1,279.63 76.6,279.65 77.1,279.72 77.6,279.59 78.1,279.61 78.6,279.46 79.1,279.52 79.6,279.63 80.1,279.63 80.6,279.78 81.1,279.89 81.6,279.99 82.1,279.93 82.6,280.08 83.1,279.92 83.6,279.84 84.1,279.68 84.6,279.62 85.1,279.54 85.6,279.53 86.1,279.66 86.6,279.82 87.1,279.91 87.6,279.84 88.1,279.82 88.6,279.72 89.1,279.69 89.6,279.63 90.1,279.80 90.6,279.97 91.1,279.90 91.6,279.81 92.1,279.90 92.6,279.82 93.1,279.77 93.6,279.80 94.1,279.71 94.6,279.63 95.1,279.56 95.6,279.57 96.1,279.69 96.6,279.83 97.1,279.95 97.6,279.99 98.1,279.89 98.6,279.71 99.1,279.58 99.6,279.56 100.1,279.52 100.6,279.65 101.1,279.75 101.6,279.92 102.1,279.71 102.6,279.94 103.1,279.90 103.6,279.77 104.1,279.63 104.6,279.65 105.1,279.54 105.6,279.34 106.1,279.52 106.6,279.60 107.1,279.75 107.6,279.67 108.1,279.81 108.6,279.71 109.1,279.73 109.6,279.63 110.1,279.80 110.6,279.81 111.1,279.86 111.6,279.70 112.1,279.50 112.6,279.01 113.1,278.34 113.6,277.60 114.1,276.49 114.6,275.54 115.1,274.99 115.6,275.62 116.1,276.55 116.6,277.66 117.1,278.43 117.6,279.03 118.1,279.39 118.6,279.53 119.1,279.61 119.6,279.48 120.1,279.41 120.6,279.44 121.1,279.55 121.6,279.63 122.1,279.71 122.6,279.87 123.1,279.80 123.6,279.70 124.1,279.59 124.6,279.55 125.1,279.57 125.6,279.58 126.1,279.60 126.6,279.66 127.1,279.69 127.6,279.66 128.1,279.66 128.6,279.66 129.1,279.69 129.6,279.67 130.1,279.74 130.6,279.68 131.1,279.86 131.6,279.84 132.1,279.93 132.6,279.82 133.1,279.92 133.6,279.75 134.1,279.72 134.6,279.75 135.1,279.81 135.7,279.65 136.2,279.56 136.7,279.39 137.2,279.02 137.7,278.35 138.2,276.87 138.7,274.65 139.2,273.08 139.7,274.09 140.2,276.21 140.7,277.94 141.2,278.91 141.7,279.34 142.2,279.52 142.7,279.79 143.2,279.93 143.7,279.87 144.2,279.76 144.7,279.75 145.2,279.74 145.7,279.72 146.2,279.63 146.7,279.58 147.2,279.56 147.7,279.60 148.2,279.66 148.7,279.75 149.2,279.88 149.7,280.04 150.2,279.86 150.7,279.76 151.2,279.75 151.7,279.82 152.2,279.67 152.7,279.86 153.2,279.76 153.7,279.80 154.2,279.81 154.7,279.79 155.2,279.69 155.7,279.65 156.2,279.62 156.7,279.52 157.2,279.75 157.7,279.75 158.2,280.00 158.7,280.05 159.2,280.15 159.7,279.98 160.2,279.88 160.7,279.80 161.2,279.64 161.7,279.58 162.2,279.53 162.7,279.66 163.2,279.69 163.7,279.92 164.2,279.80 164.7,279.79 165.2,279.74 165.7,279.78 166.2,279.58 166.7,279.63 167.2,279.66 167.7,279.51 168.2,279.32 168.7,279.21 169.2,279.04 169.7,278.93 170.2,278.90 170.7,278.73 171.2,278.90 171.7,279.09 172.2,279.30 172.7,279.29 173.2,279.42 173.7,279.50 174.2,279.55 174.7,279.50 175.2,279.66 175.7,279.75 176.2,279.76 176.7,279.83 177.2,279.89 177.7,279.98 178.2,279.95 178.7,279.77 179.2,279.60 179.7,279.57 180.2,279.45 180.7,279.32 181.2,279.07 181.7,278.64 182.2,278.04 182.7,277.25 183.2,276.40 183.7,276.09 184.2,276.06 184.7,276.55 185.2,277.13 185.7,277.62 186.2,277.36 186.7,276.51 187.2,274.98 187.7,273.95 188.2,274.06 188.7,275.43 189.2,277.12 189.7,278.34 190.2,278.95 190.7,279.31 191.2,279.43 191.7,279.52 192.2,279.46 192.7,279.51 193.2,279.63 193.7,279.62 194.2,279.45 194.7,279.68 195.2,279.55 195.7,279.50 196.2,279.55 196.7,279.59 197.2,279.42 197.8,279.40 198.3,279.49 198.8,279.62 199.3,279.80 199.8,279.78 200.3,279.85 200.8,279.65 201.3,279.68 201.8,279.73 202.3,279.95 202.8,280.09 203.3,280.23 203.8,280.14 204.3,279.91 204.8,279.66 205.3,279.60 205.8,279.70 206.3,279.83 206.8,279.91 207.3,280.05 207.8,280.12 208.3,279.94 208.8,279.87 209.3,279.92 209.8,279.90 210.3,279.77 210.8,279.73 211.3,279.58 211.8,279.50 212.3,279.64 212.8,279.76 213.3,279.72 213.8,279.89 214.3,279.84 214.8,279.73 215.3,279.76 215.8,280.00 216.3,280.04 216.8,280.27 217.3,280.28 217.8,280.04 218.3,279.87 218.8,279.81 219.3,279.70 219.8,279.78 220.3,279.82 220.8,279.99 221.3,279.96 221.8,279.96 222.3,279.75 222.8,279.80 223.3,279.70 223.8,279.75 224.3,279.77 224.8,279.91 225.3,280.01 225.8,279.96 226.3,279.85 226.8,279.93 227.3,279.94 227.8,279.90 228.3,280.06"/>
<polyline fill="none" stroke="#2424ee" stroke-width="1.45" stroke-linejoin="round" points="43.0,291.99 43.5,292.06 44.0,291.82 44.5,291.85 45.0,291.86 45.5,291.71 46.0,291.65 46.5,291.80 47.0,291.58 47.5,291.69 48.0,291.84 48.5,291.86 49.0,291.91 49.5,292.05 50.0,292.08 50.5,291.91 51.0,291.87 51.5,291.78 52.0,291.64 52.5,291.68 53.0,291.80 53.5,291.73 54.0,291.75 54.5,291.84 55.0,291.62 55.5,291.49 56.0,291.59 56.5,291.44 57.0,291.48 57.5,291.55 58.0,291.53 58.5,291.62 59.0,291.57 59.5,291.38 60.0,291.33 60.5,291.17 61.0,290.86 61.5,290.91 62.0,291.07 62.5,291.17 63.0,291.43 63.5,291.57 64.0,291.52 64.5,291.66 65.0,291.63 65.5,291.52 66.0,291.50 66.5,291.71 67.0,291.66 67.5,291.70 68.0,291.81 68.5,291.74 69.0,291.66 69.5,291.53 70.0,291.33 70.5,291.08 71.0,290.86 71.5,290.71 72.0,290.83 72.5,291.16 73.0,291.38 73.5,291.56 74.1,291.74 74.6,291.67 75.1,291.55 75.6,291.66 76.1,291.80 76.6,291.70 77.1,291.73 77.6,291.77 78.1,291.75 78.6,291.71 79.1,291.75 79.6,291.75 80.1,291.77 80.6,291.90 81.1,291.81 81.6,291.83 82.1,291.82 82.6,291.94 83.1,291.87 83.6,291.99 84.1,291.95 84.6,291.90 85.1,291.69 85.6,291.70 86.1,291.62 86.6,291.48 87.1,291.64 87.6,291.80 88.1,291.60 88.6,291.67 89.1,291.69 89.6,291.70 90.1,291.62 90.6,291.86 91.1,291.89 91.6,291.86 92.1,291.74 92.6,291.93 93.1,291.86 93.6,291.74 94.1,291.82 94.6,291.78 95.1,291.55 95.6,291.52 96.1,291.66 96.6,291.62 97.1,291.70 97.6,291.90 98.1,291.98 98.6,291.84 99.1,291.80 99.6,291.90 100.1,291.75 100.6,291.56 101.1,291.73 101.6,291.78 102.1,291.72 102.6,291.82 103.1,291.85 103.6,291.76 104.1,291.77 104.6,291.79 105.1,291.68 105.6,291.67 106.1,291.77 106.6,291.77 107.1,291.66 107.6,291.72 108.1,291.64 108.6,291.48 109.1,291.60 109.6,291.73 110.1,291.67 110.6,291.78 111.1,291.70 111.6,291.59 112.1,291.37 112.6,291.31 113.1,291.04 113.6,290.64 114.1,289.94 114.6,288.99 115.1,288.34 115.6,288.82 116.1,289.81 116.6,290.43 117.1,290.75 117.6,291.04 118.1,291.27 118.6,291.35 119.1,291.60 119.6,291.77 120.1,291.82 120.6,291.93 121.1,291.99 121.6,292.01 122.1,292.10 122.6,292.15 123.1,291.93 123.6,292.08 124.1,292.10 124.6,291.87 125.1,291.86 125.6,292.07 126.1,291.85 126.6,291.78 127.1,291.95 127.6,291.92 128.1,291.72 128.6,291.97 129.1,291.80 129.6,291.62 130.1,291.67 130.6,291.78 131.1,291.57 131.6,291.65 132.1,291.79 132.6,291.60 133.1,291.72 133.6,291.84 134.1,291.83 134.6,291.75 135.1,291.70 135.7,291.69 136.2,291.56 136.7,291.65 137.2,291.59 137.7,291.43 138.2,290.62 138.7,289.74 139.2,288.81 139.7,289.23 140.2,290.20 140.7,291.10 141.2,291.36 141.7,291.52 142.2,291.67 142.7,291.57 143.2,291.39 143.7,291.46 144.2,291.52 144.7,291.56 145.2,291.51 145.7,291.61 146.2,291.46 146.7,291.13 147.2,290.57 147.7,290.42 148.2,290.02 148.7,290.16 149.2,290.50 149.7,290.94 150.2,291.16 150.7,291.48 151.2,291.56 151.7,291.71 152.2,291.83 152.7,291.90 153.2,291.83 153.7,291.77 154.2,291.91 154.7,291.79 155.2,291.69 155.7,291.58 156.2,291.58 156.7,291.36 157.2,291.41 157.7,291.36 158.2,291.56 158.7,291.59 159.2,291.74 159.7,291.60 160.2,291.62 160.7,291.66 161.2,291.69 161.7,291.60 162.2,291.60 162.7,291.74 163.2,291.61 163.7,291.61 164.2,291.67 164.7,291.73 165.2,291.73 165.7,291.70 166.2,291.65 166.7,291.54 167.2,291.46 167.7,291.39 168.2,291.23 168.7,291.25 169.2,291.21 169.7,291.06 170.2,290.87 170.7,290.94 171.2,291.12 171.7,291.36 172.2,291.75 172.7,291.85 173.2,291.91 173.7,291.83 174.2,291.65 174.7,291.55 175.2,291.67 175.7,291.65 176.2,291.69 176.7,291.58 177.2,291.29 177.7,290.91 178.2,291.00 178.7,291.06 179.2,291.41 179.7,291.47 180.2,291.59 180.7,291.41 181.2,291.46 181.7,291.06 182.2,290.79 182.7,290.43 183.2,290.01 183.7,289.51 184.2,289.72 184.7,290.00 185.2,290.31 185.7,290.51 186.2,290.34 186.7,289.68 187.2,289.06 187.7,288.47 188.2,288.51 188.7,289.56 189.2,290.61 189.7,291.13 190.2,291.45 190.7,291.74 191.2,291.57 191.7,291.48 192.2,291.47 192.7,291.53 193.2,291.48 193.7,291.67 194.2,291.77 194.7,291.71 195.2,291.60 195.7,291.67 196.2,291.67 196.7,291.58 197.2,291.79 197.8,291.83 198.3,291.58 198.8,291.44 199.3,291.24 199.8,290.89 200.3,290.46 200.8,290.66 201.3,290.89 201.8,291.18 202.3,291.30 202.8,291.59 203.3,291.75 203.8,291.80 204.3,291.90 204.8,292.01 205.3,292.09 205.8,291.99 206.3,292.01 206.8,291.85 207.3,291.90 207.8,291.94 208.3,291.94 208.8,291.91 209.3,292.15 209.8,292.07 210.3,292.06 210.8,292.05 211.3,292.05 211.8,292.05 212.3,292.14 212.8,292.07 213.3,292.06 213.8,292.06 214.3,291.94 214.8,291.79 215.3,291.69 215.8,291.63 216.3,291.54 216.8,291.67 217.3,291.68 217.8,291.85 218.3,291.90 218.8,292.11 219.3,292.02 219.8,292.00 220.3,291.88 220.8,291.82 221.3,291.65 221.8,291.56 222.3,291.55 222.8,291.54 223.3,291.47 223.8,291.64 224.3,291.78 224.8,291.79 225.3,291.92 225.8,291.92 226.3,291.84 226.8,291.78 227.3,291.92 227.8,291.96 228.3,292.11"/>
<polyline fill="none" stroke="#2c2c90" stroke-width="1.45" stroke-linejoin="round" points="43.0,302.99 43.5,302.99 44.0,303.08 44.5,303.05 45.0,303.07 45.5,303.14 46.0,303.11 46.5,303.14 47.0,303.30 47.5,303.25 48.0,303.30 48.5,303.33 49.0,303.33 49.5,303.18 50.0,303.26 50.5,303.16 51.0,303.05 51.5,302.99 52.0,303.12 52.5,303.12 53.0,303.14 53.5,303.24 54.0,303.14 54.5,303.15 55.0,303.02 55.5,303.00 56.0,302.79 56.5,302.60 57.0,302.21 57.5,302.11 58.0,302.23 58.5,302.58 59.0,302.90 59.5,303.08 60.0,303.18 60.5,303.15 61.0,303.17 61.5,303.08 62.0,303.17 62.5,303.10 63.0,303.14 63.5,303.08 64.0,303.05 64.5,302.91 65.0,302.94 65.5,302.99 66.0,302.91 66.5,302.96 67.0,303.01 67.5,303.04 68.0,303.08 68.5,303.08 69.0,303.09 69.5,303.02 70.0,302.97 70.5,302.87 71.0,302.84 71.5,302.72 72.0,302.69 72.5,302.69 73.0,302.71 73.5,302.72 74.1,302.71 74.6,302.89 75.1,302.94 75.6,303.06 76.1,303.17 76.6,303.28 77.1,303.27 77.6,303.33 78.1,303.24 78.6,303.20 79.1,303.14 79.6,303.00 80.1,302.89 80.6,302.93 81.1,302.94 81.6,303.03 82.1,303.13 82.6,303.25 83.1,303.24 83.6,303.25 84.1,303.22 84.6,303.13 85.1,303.00 85.6,302.99 86.1,302.95 86.6,302.88 87.1,302.89 87.6,302.91 88.1,302.86 88.6,302.91 89.1,302.85 89.6,302.84 90.1,302.92 90.6,302.97 91.1,302.88 91.6,303.03 92.1,303.10 92.6,303.14 93.1,303.18 93.6,303.26 94.1,303.17 94.6,303.11 95.1,303.11 95.6,303.08 96.1,303.04 96.6,303.00 97.1,303.08 97.6,303.08 98.1,303.08 98.6,303.16 99.1,303.24 99.6,303.23 100.1,303.18 100.6,303.23 101.1,303.25 101.6,303.14 102.1,303.08 102.6,303.01 103.1,302.91 103.6,302.80 104.1,302.86 104.6,302.87 105.1,302.91 105.6,302.90 106.1,303.00 106.6,303.04 107.1,303.02 107.6,302.96 108.1,303.08 108.6,302.95 109.1,302.94 109.6,302.92 110.1,302.97 110.6,302.94 111.1,302.97 111.6,302.94 112.1,303.01 112.6,302.94 113.1,302.57 113.6,302.08 114.1,301.22 114.6,300.33 115.1,299.75 115.6,300.17 116.1,300.96 116.6,301.70 117.1,302.13 117.6,302.41 118.1,302.60 118.6,302.80 119.1,302.95 119.6,302.99 120.1,303.02 120.6,303.08 121.1,303.00 121.6,303.00 122.1,303.11 122.6,303.17 123.1,303.12 123.6,303.09 124.1,303.03 124.6,303.03 125.1,302.95 125.6,302.88 126.1,302.97 126.6,302.98 127.1,302.93 127.6,302.96 128.1,302.98 128.6,302.93 129.1,302.99 129.6,303.01 130.1,302.97 130.6,303.05 131.1,303.13 131.6,303.09 132.1,302.99 132.6,302.98 133.1,303.02 133.6,302.91 134.1,302.83 134.6,302.81 135.1,302.94 135.7,302.93 136.2,303.00 136.7,303.10 137.2,303.10 137.7,302.72 138.2,302.17 138.7,301.55 139.2,301.11 139.7,301.35 140.2,302.05 140.7,302.51 141.2,302.77 141.7,302.96 142.2,303.00 142.7,302.96 143.2,303.03 143.7,303.13 144.2,303.03 144.7,302.95 145.2,303.06 145.7,303.10 146.2,303.01 146.7,303.05 147.2,303.08 147.7,303.06 148.2,303.00 148.7,303.03 149.2,303.11 149.7,303.17 150.2,303.12 150.7,303.09 151.2,303.08 151.7,302.94 152.2,302.96 152.7,302.98 153.2,303.03 153.7,303.00 154.2,303.10 154.7,303.05 155.2,303.05 155.7,303.01 156.2,302.97 156.7,302.87 157.2,302.84 157.7,302.88 158.2,302.96 158.7,302.97 159.2,302.97 159.7,302.97 160.2,302.96 160.7,302.89 161.2,302.93 161.7,302.95 162.2,303.03 162.7,303.01 163.2,303.04 163.7,303.12 164.2,303.18 164.7,303.10 165.2,303.11 165.7,303.19 166.2,303.13 166.7,303.20 167.2,303.24 167.7,303.17 168.2,303.12 168.7,303.03 169.2,303.04 169.7,303.02 170.2,302.98 170.7,302.92 171.2,303.00 171.7,302.97 172.2,303.03 172.7,303.08 173.2,303.16 173.7,303.14 174.2,303.08 174.7,303.06 175.2,303.10 175.7,303.04 176.2,302.94 176.7,302.88 177.2,302.84 177.7,302.76 178.2,302.64 178.7,302.73 179.2,302.67 179.7,302.59 180.2,302.48 180.7,302.38 181.2,302.14 181.7,301.90 182.2,301.58 182.7,301.18 183.2,300.66 183.7,300.05 184.2,299.45 184.7,298.79 185.2,298.20 185.7,297.94 186.2,298.02 186.7,298.29 187.2,298.73 187.7,299.38 188.2,300.02 188.7,300.60 189.2,301.16 189.7,301.62 190.2,301.94 190.7,302.16 191.2,302.32 191.7,302.42 192.2,302.52 192.7,302.62 193.2,302.70 193.7,302.67 194.2,302.73 194.7,302.72 195.2,302.73 195.7,302.83 196.2,302.83 196.7,302.80 197.2,302.86 197.8,302.87 198.3,302.79 198.8,302.93 199.3,303.01 199.8,302.99 200.3,303.04 200.8,303.04 201.3,303.03 201.8,302.97 202.3,303.04 202.8,303.13 203.3,303.14 203.8,303.11 204.3,303.19 204.8,303.16 205.3,303.16 205.8,303.16 206.3,303.14 206.8,303.07 207.3,303.03 207.8,303.03 208.3,303.00 208.8,302.98 209.3,303.09 209.8,303.08 210.3,303.04 210.8,303.17 211.3,303.15 211.8,303.03 212.3,303.10 212.8,303.00 213.3,302.96 213.8,303.07 214.3,303.18 214.8,303.22 215.3,303.28 215.8,303.32 216.3,303.33 216.8,303.30 217.3,303.19 217.8,303.24 218.3,303.19 218.8,303.11 219.3,303.02 219.8,303.11 220.3,303.10 220.8,303.02 221.3,302.99 221.8,302.97 222.3,302.92 222.8,302.93 223.3,302.98 223.8,302.98 224.3,303.04 224.8,303.05 225.3,302.94 225.8,302.90 226.3,302.97 226.8,303.06 227.3,303.05 227.8,303.06 228.3,303.13"/>
<polyline fill="none" stroke="#ff28ff" stroke-width="1.45" stroke-linejoin="round" points="43.0,314.41 43.5,314.44 44.0,314.38 44.5,314.29 45.0,314.38 45.5,314.40 46.0,314.42 46.5,314.44 47.0,314.39 47.5,314.41 48.0,314.47 48.5,314.34 49.0,314.40 49.5,314.51 50.0,314.48 50.5,314.49 51.0,314.64 51.5,314.51 52.0,314.54 52.5,314.52 53.0,314.46 53.5,314.40 54.0,314.45 54.5,314.40 55.0,314.41 55.5,314.45 56.0,314.37 56.5,314.38 57.0,314.32 57.5,314.33 58.0,314.39 58.5,314.50 59.0,314.52 59.5,314.50 60.0,314.50 60.5,314.39 61.0,314.43 61.5,314.37 62.0,314.50 62.5,314.39 63.0,314.47 63.5,314.36 64.0,314.43 64.5,314.34 65.0,314.39 65.5,314.33 66.0,314.41 66.5,314.37 67.0,314.36 67.5,314.44 68.0,314.40 68.5,314.32 69.0,314.35 69.5,314.37 70.0,314.28 70.5,314.37 71.0,314.39 71.5,314.32 72.0,314.29 72.5,314.28 73.0,314.21 73.5,314.15 74.1,314.18 74.6,314.21 75.1,314.31 75.6,314.30 76.1,314.36 76.6,314.40 77.1,314.41 77.6,314.44 78.1,314.43 78.6,314.48 79.1,314.48 79.6,314.53 80.1,314.50 80.6,314.46 81.1,314.35 81.6,314.39 82.1,314.29 82.6,314.28 83.1,314.29 83.6,314.38 84.1,314.31 84.6,314.34 85.1,314.24 85.6,314.37 86.1,314.41 86.6,314.47 87.1,314.49 87.6,314.53 88.1,314.42 88.6,314.41 89.1,314.35 89.6,314.31 90.1,314.41 90.6,314.44 91.1,314.46 91.6,314.44 92.1,314.51 92.6,314.42 93.1,314.39 93.6,314.30 94.1,314.40 94.6,314.28 95.1,314.33 95.6,314.45 96.1,314.38 96.6,314.32 97.1,314.36 97.6,314.34 98.1,314.33 98.6,314.40 99.1,314.37 99.6,314.35 100.1,314.40 100.6,314.29 101.1,314.34 101.6,314.45 102.1,314.52 102.6,314.54 103.1,314.53 103.6,314.51 104.1,314.45 104.6,314.35 105.1,314.27 105.6,314.30 106.1,314.22 106.6,314.18 107.1,314.18 107.6,314.26 108.1,314.23 108.6,314.29 109.1,314.33 109.6,314.31 110.1,314.30 110.6,314.40 111.1,314.38 111.6,314.32 112.1,314.39 112.6,314.21 113.1,313.88 113.6,313.58 114.1,313.03 114.6,312.46 115.1,312.19 115.6,312.51 116.1,312.93 116.6,313.51 117.1,313.82 117.6,314.07 118.1,314.10 118.6,314.16 119.1,314.18 119.6,314.29 120.1,314.34 120.6,314.48 121.1,314.51 121.6,314.45 122.1,314.43 122.6,314.38 123.1,314.35 123.6,314.29 124.1,314.41 124.6,314.33 125.1,314.38 125.6,314.42 126.1,314.50 126.6,314.44 127.1,314.53 127.6,314.42 128.1,314.36 128.6,314.41 129.1,314.49 129.6,314.50 130.1,314.59 130.6,314.64 131.1,314.56 131.6,314.46 132.1,314.51 132.6,314.40 133.1,314.29 133.6,314.34 134.1,314.43 134.6,314.39 135.1,314.40 135.7,314.45 136.2,314.33 136.7,314.20 137.2,314.05 137.7,313.90 138.2,313.32 138.7,312.67 139.2,312.20 139.7,312.42 140.2,312.95 140.7,313.53 141.2,313.84 141.7,314.00 142.2,314.16 142.7,314.19 143.2,314.22 143.7,314.20 144.2,314.18 144.7,314.19 145.2,314.30 145.7,314.38 146.2,314.40 146.7,314.52 147.2,314.43 147.7,314.43 148.2,314.38 148.7,314.43 149.2,314.41 149.7,314.40 150.2,314.36 150.7,314.40 151.2,314.44 151.7,314.46 152.2,314.57 152.7,314.51 153.2,314.50 153.7,314.55 154.2,314.51 154.7,314.41 155.2,314.49 155.7,314.38 156.2,314.35 156.7,314.38 157.2,314.32 157.7,314.30 158.2,314.36 158.7,314.34 159.2,314.28 159.7,314.28 160.2,314.17 160.7,314.11 161.2,313.97 161.7,313.89 162.2,313.92 162.7,314.00 163.2,313.92 163.7,313.94 164.2,313.94 164.7,313.93 165.2,313.95 165.7,314.02 166.2,314.08 166.7,314.14 167.2,314.12 167.7,314.10 168.2,314.24 168.7,314.30 169.2,314.28 169.7,314.33 170.2,314.30 170.7,314.23 171.2,314.19 171.7,314.18 172.2,314.20 172.7,314.33 173.2,314.33 173.7,314.36 174.2,314.50 174.7,314.49 175.2,314.38 175.7,314.39 176.2,314.31 176.7,314.16 177.2,314.12 177.7,314.17 178.2,314.22 178.7,314.31 179.2,314.31 179.7,314.33 180.2,314.35 180.7,314.33 181.2,314.25 181.7,314.32 182.2,314.29 182.7,314.11 183.2,314.08 183.7,314.05 184.2,313.83 184.7,313.56 185.2,313.24 185.7,312.54 186.2,311.79 186.7,311.00 187.2,310.69 187.7,310.85 188.2,311.56 188.7,312.33 189.2,312.99 189.7,313.48 190.2,313.88 190.7,314.04 191.2,314.02 191.7,314.17 192.2,314.22 192.7,314.21 193.2,314.25 193.7,314.30 194.2,314.29 194.7,314.23 195.2,314.27 195.7,314.19 196.2,314.24 196.7,314.30 197.2,314.34 197.8,314.29 198.3,314.42 198.8,314.41 199.3,314.31 199.8,314.36 200.3,314.45 200.8,314.49 201.3,314.55 201.8,314.55 202.3,314.52 202.8,314.40 203.3,314.37 203.8,314.26 204.3,314.33 204.8,314.39 205.3,314.39 205.8,314.38 206.3,314.52 206.8,314.51 207.3,314.44 207.8,314.42 208.3,314.45 208.8,314.32 209.3,314.37 209.8,314.41 210.3,314.44 210.8,314.45 211.3,314.57 211.8,314.55 212.3,314.51 212.8,314.54 213.3,314.45 213.8,314.41 214.3,314.47 214.8,314.42 215.3,314.39 215.8,314.40 216.3,314.40 216.8,314.35 217.3,314.48 217.8,314.57 218.3,314.54 218.8,314.51 219.3,314.49 219.8,314.49 220.3,314.39 220.8,314.36 221.3,314.34 221.8,314.36 222.3,314.32 222.8,314.35 223.3,314.41 223.8,314.47 224.3,314.49 224.8,314.40 225.3,314.41 225.8,314.33 226.3,314.35 226.8,314.29 227.3,314.43 227.8,314.46 228.3,314.58"/>
<rect x="43.00" y="191.00" width="185.30" height="136.00" fill="none" stroke="#303030" stroke-width="1.6"/>
<line x1="40.00" y1="191.00" x2="43.00" y2="191.00" stroke="#303030" stroke-width="1.2"/>
<line x1="40.00" y1="210.43" x2="43.00" y2="210.43" stroke="#303030" stroke-width="1.2"/>
<line x1="40.00" y1="229.86" x2="43.00" y2="229.86" stroke="#303030" stroke-width="1.2"/>
<line x1="40.00" y1="249.29" x2="43.00" y2="249.29" stroke="#303030" stroke-width="1.2"/>
<line x1="40.00" y1="268.71" x2="43.00" y2="268.71" stroke="#303030" stroke-width="1.2"/>
<line x1="40.00" y1="288.14" x2="43.00" y2="288.14" stroke="#303030" stroke-width="1.2"/>
<line x1="40.00" y1="307.57" x2="43.00" y2="307.57" stroke="#303030" stroke-width="1.2"/>
<line x1="40.00" y1="327.00" x2="43.00" y2="327.00" stroke="#303030" stroke-width="1.2"/>
<line x1="43.00" y1="327.00" x2="43.00" y2="328.80" stroke="#303030" stroke-width="1.2"/>
<line x1="56.24" y1="327.00" x2="56.24" y2="330.00" stroke="#303030" stroke-width="1.2"/>
<text x="56.24" y="340.80" font-size="10.7" font-weight="bold" fill="#151515" text-anchor="middle" stroke="#151515" stroke-width="0.22">600</text>
<line x1="69.47" y1="327.00" x2="69.47" y2="328.80" stroke="#303030" stroke-width="1.2"/>
<line x1="82.71" y1="327.00" x2="82.71" y2="330.00" stroke="#303030" stroke-width="1.2"/>
<text x="82.71" y="340.80" font-size="10.7" font-weight="bold" fill="#151515" text-anchor="middle" stroke="#151515" stroke-width="0.22">800</text>
<line x1="95.94" y1="327.00" x2="95.94" y2="328.80" stroke="#303030" stroke-width="1.2"/>
<line x1="109.18" y1="327.00" x2="109.18" y2="330.00" stroke="#303030" stroke-width="1.2"/>
<text x="109.18" y="340.80" font-size="10.7" font-weight="bold" fill="#151515" text-anchor="middle" stroke="#151515" stroke-width="0.22">1000</text>
<line x1="122.41" y1="327.00" x2="122.41" y2="328.80" stroke="#303030" stroke-width="1.2"/>
<line x1="135.65" y1="327.00" x2="135.65" y2="330.00" stroke="#303030" stroke-width="1.2"/>
<text x="135.65" y="340.80" font-size="10.7" font-weight="bold" fill="#151515" text-anchor="middle" stroke="#151515" stroke-width="0.22">1200</text>
<line x1="148.89" y1="327.00" x2="148.89" y2="328.80" stroke="#303030" stroke-width="1.2"/>
<line x1="162.12" y1="327.00" x2="162.12" y2="330.00" stroke="#303030" stroke-width="1.2"/>
<text x="162.12" y="340.80" font-size="10.7" font-weight="bold" fill="#151515" text-anchor="middle" stroke="#151515" stroke-width="0.22">1400</text>
<line x1="175.36" y1="327.00" x2="175.36" y2="328.80" stroke="#303030" stroke-width="1.2"/>
<line x1="188.59" y1="327.00" x2="188.59" y2="330.00" stroke="#303030" stroke-width="1.2"/>
<text x="188.59" y="340.80" font-size="10.7" font-weight="bold" fill="#151515" text-anchor="middle" stroke="#151515" stroke-width="0.22">1600</text>
<line x1="201.83" y1="327.00" x2="201.83" y2="328.80" stroke="#303030" stroke-width="1.2"/>
<line x1="215.06" y1="327.00" x2="215.06" y2="330.00" stroke="#303030" stroke-width="1.2"/>
<text x="215.06" y="340.80" font-size="10.7" font-weight="bold" fill="#151515" text-anchor="middle" stroke="#151515" stroke-width="0.22">1800</text>
<line x1="228.30" y1="327.00" x2="228.30" y2="328.80" stroke="#303030" stroke-width="1.2"/>
<text x="92.90" y="355.80" font-size="10.8" font-weight="bold" fill="#151515" text-anchor="start" textLength="57.00" lengthAdjust="spacingAndGlyphs" stroke="#151515" stroke-width="0.18">Raman shift</text>
<text x="153.70" y="356.20" font-size="9.6" font-weight="bold" fill="#151515" text-anchor="start" textLength="16.60" lengthAdjust="spacingAndGlyphs" stroke="#151515" stroke-width="0.18">(cm</text>
<text x="170.90" y="350.40" font-size="5.8" font-weight="bold" fill="#151515" text-anchor="start" textLength="4.30" lengthAdjust="spacingAndGlyphs" stroke="#151515" stroke-width="0.18">-1</text>
<text x="175.90" y="356.20" font-size="9.2" font-weight="bold" fill="#151515" text-anchor="start" textLength="3.00" lengthAdjust="spacingAndGlyphs" stroke="#151515" stroke-width="0.18">)</text>
<text transform="translate(26.60,299.00) rotate(-90)" x="0" y="0" font-size="11" font-weight="bold" fill="#151515" textLength="81.80" lengthAdjust="spacingAndGlyphs" stroke="#151515" stroke-width="0.18">Intensity (counts)</text>
<text x="46.30" y="205.20" font-size="15.8" font-weight="normal" fill="#151515" text-anchor="start" textLength="16.60" lengthAdjust="spacingAndGlyphs" stroke="#151515" stroke-width="0.45">(c)</text>
<text x="128.50" y="206.40" font-size="10.5" font-weight="bold" fill="#151515" text-anchor="start" textLength="21.80" lengthAdjust="spacingAndGlyphs" stroke="#151515" stroke-width="0.18">CYP</text>
<line x1="207.80" y1="205.60" x2="207.80" y2="225.60" stroke="#1a1a1a" stroke-width="1.2"/>
<line x1="204.85" y1="205.60" x2="210.75" y2="205.60" stroke="#1a1a1a" stroke-width="1.3"/>
<line x1="204.85" y1="225.60" x2="210.75" y2="225.60" stroke="#1a1a1a" stroke-width="1.3"/>
<text transform="translate(220.60,237.00) rotate(-90)" x="0" y="0" font-size="8.0" font-weight="bold" fill="#151515" textLength="40.00" lengthAdjust="spacingAndGlyphs" stroke="#151515" stroke-width="0.18">5000 counts</text>
<text x="76.90" y="241.90" font-size="8.4" font-weight="bold" fill="#1e1e1e" text-anchor="start" textLength="8.20" lengthAdjust="spacingAndGlyphs" stroke="#1e1e1e" stroke-width="0.55">10</text>
<text x="85.50" y="237.00" font-size="5.04" font-weight="bold" fill="#1e1e1e" text-anchor="start" stroke="#1e1e1e" stroke-width="0.2">-3</text>
<text x="76.90" y="254.20" font-size="8.4" font-weight="bold" fill="#9b38ee" text-anchor="start" textLength="8.20" lengthAdjust="spacingAndGlyphs" stroke="#9b38ee" stroke-width="0.55">10</text>
<text x="85.50" y="249.30" font-size="5.04" font-weight="bold" fill="#9b38ee" text-anchor="start" stroke="#9b38ee" stroke-width="0.2">-4</text>
<text x="76.90" y="266.50" font-size="8.4" font-weight="bold" fill="#139832" text-anchor="start" textLength="8.20" lengthAdjust="spacingAndGlyphs" stroke="#139832" stroke-width="0.55">10</text>
<text x="85.50" y="261.60" font-size="5.04" font-weight="bold" fill="#139832" text-anchor="start" stroke="#139832" stroke-width="0.2">-5</text>
<text x="76.90" y="277.90" font-size="8.4" font-weight="bold" fill="#ff2222" text-anchor="start" textLength="8.20" lengthAdjust="spacingAndGlyphs" stroke="#ff2222" stroke-width="0.55">10</text>
<text x="85.50" y="273.00" font-size="5.04" font-weight="bold" fill="#ff2222" text-anchor="start" stroke="#ff2222" stroke-width="0.2">-6</text>
<text x="76.90" y="290.20" font-size="8.4" font-weight="bold" fill="#2424ee" text-anchor="start" textLength="8.20" lengthAdjust="spacingAndGlyphs" stroke="#2424ee" stroke-width="0.55">10</text>
<text x="85.50" y="285.30" font-size="5.04" font-weight="bold" fill="#2424ee" text-anchor="start" stroke="#2424ee" stroke-width="0.2">-7</text>
<text x="76.90" y="301.60" font-size="8.4" font-weight="bold" fill="#2c2c90" text-anchor="start" textLength="8.20" lengthAdjust="spacingAndGlyphs" stroke="#2c2c90" stroke-width="0.55">10</text>
<text x="85.50" y="296.70" font-size="5.04" font-weight="bold" fill="#2c2c90" text-anchor="start" stroke="#2c2c90" stroke-width="0.2">-8</text>
<text x="76.90" y="312.30" font-size="8.4" font-weight="bold" fill="#ff28ff" text-anchor="start" textLength="8.20" lengthAdjust="spacingAndGlyphs" stroke="#ff28ff" stroke-width="0.55">10</text>
<text x="85.50" y="307.40" font-size="5.04" font-weight="bold" fill="#ff28ff" text-anchor="start" stroke="#ff28ff" stroke-width="0.2">-9</text>
<rect x="290.60" y="191.00" width="185.60" height="135.60" fill="none" stroke="#303030" stroke-width="1.6"/>
<line x1="289.00" y1="326.60" x2="290.60" y2="326.60" stroke="#303030" stroke-width="1.2"/>
<line x1="287.80" y1="314.27" x2="290.60" y2="314.27" stroke="#303030" stroke-width="1.2"/>
<line x1="289.00" y1="301.95" x2="290.60" y2="301.95" stroke="#303030" stroke-width="1.2"/>
<line x1="287.80" y1="289.62" x2="290.60" y2="289.62" stroke="#303030" stroke-width="1.2"/>
<line x1="289.00" y1="277.29" x2="290.60" y2="277.29" stroke="#303030" stroke-width="1.2"/>
<line x1="287.80" y1="264.96" x2="290.60" y2="264.96" stroke="#303030" stroke-width="1.2"/>
<line x1="289.00" y1="252.64" x2="290.60" y2="252.64" stroke="#303030" stroke-width="1.2"/>
<line x1="287.80" y1="240.31" x2="290.60" y2="240.31" stroke="#303030" stroke-width="1.2"/>
<line x1="289.00" y1="227.98" x2="290.60" y2="227.98" stroke="#303030" stroke-width="1.2"/>
<line x1="287.80" y1="215.65" x2="290.60" y2="215.65" stroke="#303030" stroke-width="1.2"/>
<line x1="289.00" y1="203.33" x2="290.60" y2="203.33" stroke="#303030" stroke-width="1.2"/>
<line x1="287.80" y1="191.00" x2="290.60" y2="191.00" stroke="#303030" stroke-width="1.2"/>
<text x="285.60" y="317.67" font-size="10.4" font-weight="bold" fill="#151515" text-anchor="end" stroke="#151515" stroke-width="0.18">0</text>
<text x="285.60" y="293.02" font-size="10.4" font-weight="bold" fill="#151515" text-anchor="end" stroke="#151515" stroke-width="0.18">5</text>
<text x="285.60" y="268.36" font-size="10.4" font-weight="bold" fill="#151515" text-anchor="end" stroke="#151515" stroke-width="0.18">10</text>
<text x="285.60" y="243.71" font-size="10.4" font-weight="bold" fill="#151515" text-anchor="end" stroke="#151515" stroke-width="0.18">15</text>
<text x="285.60" y="219.05" font-size="10.4" font-weight="bold" fill="#151515" text-anchor="end" stroke="#151515" stroke-width="0.18">20</text>
<text x="285.60" y="194.40" font-size="10.4" font-weight="bold" fill="#151515" text-anchor="end" stroke="#151515" stroke-width="0.18">25</text>
<line x1="290.60" y1="326.60" x2="290.60" y2="328.20" stroke="#303030" stroke-width="1.2"/>
<line x1="306.07" y1="326.60" x2="306.07" y2="329.40" stroke="#303030" stroke-width="1.2"/>
<line x1="321.53" y1="326.60" x2="321.53" y2="328.20" stroke="#303030" stroke-width="1.2"/>
<line x1="337.00" y1="326.60" x2="337.00" y2="329.40" stroke="#303030" stroke-width="1.2"/>
<line x1="352.47" y1="326.60" x2="352.47" y2="328.20" stroke="#303030" stroke-width="1.2"/>
<line x1="367.93" y1="326.60" x2="367.93" y2="329.40" stroke="#303030" stroke-width="1.2"/>
<line x1="383.40" y1="326.60" x2="383.40" y2="328.20" stroke="#303030" stroke-width="1.2"/>
<line x1="398.87" y1="326.60" x2="398.87" y2="329.40" stroke="#303030" stroke-width="1.2"/>
<line x1="414.33" y1="326.60" x2="414.33" y2="328.20" stroke="#303030" stroke-width="1.2"/>
<line x1="429.80" y1="326.60" x2="429.80" y2="329.40" stroke="#303030" stroke-width="1.2"/>
<line x1="445.27" y1="326.60" x2="445.27" y2="328.20" stroke="#303030" stroke-width="1.2"/>
<line x1="460.73" y1="326.60" x2="460.73" y2="329.40" stroke="#303030" stroke-width="1.2"/>
<line x1="476.20" y1="326.60" x2="476.20" y2="328.20" stroke="#303030" stroke-width="1.2"/>
<text x="306.07" y="340.40" font-size="10.4" font-weight="bold" fill="#151515" text-anchor="middle" stroke="#151515" stroke-width="0.18">0.0</text>
<text x="337.00" y="340.40" font-size="10.4" font-weight="bold" fill="#151515" text-anchor="middle" stroke="#151515" stroke-width="0.18">0.2</text>
<text x="367.93" y="340.40" font-size="10.4" font-weight="bold" fill="#151515" text-anchor="middle" stroke="#151515" stroke-width="0.18">0.4</text>
<text x="398.87" y="340.40" font-size="10.4" font-weight="bold" fill="#151515" text-anchor="middle" stroke="#151515" stroke-width="0.18">0.6</text>
<text x="429.80" y="340.40" font-size="10.4" font-weight="bold" fill="#151515" text-anchor="middle" stroke="#151515" stroke-width="0.18">0.8</text>
<text x="460.73" y="340.40" font-size="10.4" font-weight="bold" fill="#151515" text-anchor="middle" stroke="#151515" stroke-width="0.18">1.0</text>
<text x="294.50" y="204.80" font-size="15.8" font-weight="normal" fill="#151515" text-anchor="start" textLength="18.60" lengthAdjust="spacingAndGlyphs" stroke="#151515" stroke-width="0.45">(d)</text>
<text x="366.50" y="205.50" font-size="10.5" font-weight="bold" fill="#151515" text-anchor="start" textLength="31.30" lengthAdjust="spacingAndGlyphs" stroke="#151515" stroke-width="0.18">4-ATP</text>
<line x1="460.60" y1="202.80" x2="460.60" y2="210.80" stroke="#2a2a2a" stroke-width="1.0"/>
<rect x="458.95" y="205.15" width="3.30" height="3.30" rx="1.2" fill="#0a0aff"/>
<line x1="459.00" y1="202.80" x2="462.20" y2="202.80" stroke="#2a2a2a" stroke-width="1.2"/>
<line x1="459.00" y1="210.80" x2="462.20" y2="210.80" stroke="#2a2a2a" stroke-width="1.2"/>
<line x1="321.60" y1="258.60" x2="321.60" y2="264.40" stroke="#2a2a2a" stroke-width="1.0"/>
<rect x="319.95" y="259.85" width="3.30" height="3.30" rx="1.2" fill="#0a0aff"/>
<line x1="320.00" y1="258.60" x2="323.20" y2="258.60" stroke="#2a2a2a" stroke-width="1.2"/>
<line x1="320.00" y1="264.40" x2="323.20" y2="264.40" stroke="#2a2a2a" stroke-width="1.2"/>
<line x1="307.60" y1="279.90" x2="307.60" y2="287.50" stroke="#2a2a2a" stroke-width="1.0"/>
<rect x="305.95" y="282.05" width="3.30" height="3.30" rx="1.2" fill="#0a0aff"/>
<line x1="306.00" y1="279.90" x2="309.20" y2="279.90" stroke="#2a2a2a" stroke-width="1.2"/>
<line x1="306.00" y1="287.50" x2="309.20" y2="287.50" stroke="#2a2a2a" stroke-width="1.2"/>
<line x1="306.00" y1="290.10" x2="306.00" y2="296.90" stroke="#2a2a2a" stroke-width="1.0"/>
<rect x="304.35" y="291.85" width="3.30" height="3.30" rx="1.2" fill="#0a0aff"/>
<line x1="304.40" y1="290.10" x2="307.60" y2="290.10" stroke="#2a2a2a" stroke-width="1.2"/>
<line x1="304.40" y1="296.90" x2="307.60" y2="296.90" stroke="#2a2a2a" stroke-width="1.2"/>
<line x1="305.90" y1="297.00" x2="305.90" y2="303.00" stroke="#2a2a2a" stroke-width="1.0"/>
<rect x="304.25" y="298.35" width="3.30" height="3.30" rx="1.2" fill="#0a0aff"/>
<line x1="304.30" y1="297.00" x2="307.50" y2="297.00" stroke="#2a2a2a" stroke-width="1.2"/>
<line x1="304.30" y1="303.00" x2="307.50" y2="303.00" stroke="#2a2a2a" stroke-width="1.2"/>
<line x1="305.90" y1="301.50" x2="305.90" y2="307.50" stroke="#2a2a2a" stroke-width="1.0"/>
<rect x="304.25" y="302.85" width="3.30" height="3.30" rx="1.2" fill="#0a0aff"/>
<line x1="304.30" y1="301.50" x2="307.50" y2="301.50" stroke="#2a2a2a" stroke-width="1.2"/>
<line x1="304.30" y1="307.50" x2="307.50" y2="307.50" stroke="#2a2a2a" stroke-width="1.2"/>
<line x1="305.90" y1="308.60" x2="305.90" y2="316.20" stroke="#2a2a2a" stroke-width="1.0"/>
<rect x="304.25" y="310.75" width="3.30" height="3.30" rx="1.2" fill="#0a0aff"/>
<line x1="304.30" y1="308.60" x2="307.50" y2="308.60" stroke="#2a2a2a" stroke-width="1.2"/>
<line x1="304.30" y1="316.20" x2="307.50" y2="316.20" stroke="#2a2a2a" stroke-width="1.2"/>
<line x1="305.90" y1="307.80" x2="305.90" y2="312.20" stroke="#2a2a2a" stroke-width="1.0"/>
<rect x="304.25" y="308.35" width="3.30" height="3.30" rx="1.2" fill="#0a0aff"/>
<line x1="304.30" y1="307.80" x2="307.50" y2="307.80" stroke="#2a2a2a" stroke-width="1.2"/>
<line x1="304.30" y1="312.20" x2="307.50" y2="312.20" stroke="#2a2a2a" stroke-width="1.2"/>
<line x1="305.90" y1="306.40" x2="305.90" y2="310.00" stroke="#2a2a2a" stroke-width="1.0"/>
<rect x="304.25" y="306.55" width="3.30" height="3.30" rx="1.2" fill="#0a0aff"/>
<line x1="304.30" y1="306.40" x2="307.50" y2="306.40" stroke="#2a2a2a" stroke-width="1.2"/>
<line x1="304.30" y1="310.00" x2="307.50" y2="310.00" stroke="#2a2a2a" stroke-width="1.2"/>
<rect x="354.20" y="218.00" width="113.40" height="83.10" fill="#fff" stroke="#303030" stroke-width="1.5"/>
<line x1="354.20" y1="301.10" x2="354.20" y2="302.40" stroke="#303030" stroke-width="1.1"/>
<line x1="366.80" y1="301.10" x2="366.80" y2="303.10" stroke="#303030" stroke-width="1.1"/>
<line x1="379.40" y1="301.10" x2="379.40" y2="302.40" stroke="#303030" stroke-width="1.1"/>
<line x1="392.00" y1="301.10" x2="392.00" y2="303.10" stroke="#303030" stroke-width="1.1"/>
<line x1="404.60" y1="301.10" x2="404.60" y2="302.40" stroke="#303030" stroke-width="1.1"/>
<line x1="417.20" y1="301.10" x2="417.20" y2="303.10" stroke="#303030" stroke-width="1.1"/>
<line x1="429.80" y1="301.10" x2="429.80" y2="302.40" stroke="#303030" stroke-width="1.1"/>
<line x1="442.40" y1="301.10" x2="442.40" y2="303.10" stroke="#303030" stroke-width="1.1"/>
<line x1="455.00" y1="301.10" x2="455.00" y2="302.40" stroke="#303030" stroke-width="1.1"/>
<line x1="467.60" y1="301.10" x2="467.60" y2="303.10" stroke="#303030" stroke-width="1.1"/>
<text x="366.50" y="310.90" font-size="8.6" font-weight="bold" fill="#151515" text-anchor="middle" stroke="#151515" stroke-width="0.3">-10</text>
<text x="391.70" y="310.90" font-size="8.6" font-weight="bold" fill="#151515" text-anchor="middle" stroke="#151515" stroke-width="0.3">-8</text>
<text x="416.90" y="310.90" font-size="8.6" font-weight="bold" fill="#151515" text-anchor="middle" stroke="#151515" stroke-width="0.3">-6</text>
<text x="442.10" y="310.90" font-size="8.6" font-weight="bold" fill="#151515" text-anchor="middle" stroke="#151515" stroke-width="0.3">-4</text>
<text x="467.30" y="310.90" font-size="8.6" font-weight="bold" fill="#151515" text-anchor="middle" stroke="#151515" stroke-width="0.3">-2</text>
<line x1="352.90" y1="301.10" x2="354.20" y2="301.10" stroke="#303030" stroke-width="1.1"/>
<line x1="352.20" y1="292.79" x2="354.20" y2="292.79" stroke="#303030" stroke-width="1.1"/>
<line x1="352.90" y1="284.48" x2="354.20" y2="284.48" stroke="#303030" stroke-width="1.1"/>
<line x1="352.20" y1="276.17" x2="354.20" y2="276.17" stroke="#303030" stroke-width="1.1"/>
<line x1="352.90" y1="267.86" x2="354.20" y2="267.86" stroke="#303030" stroke-width="1.1"/>
<line x1="352.20" y1="259.55" x2="354.20" y2="259.55" stroke="#303030" stroke-width="1.1"/>
<line x1="352.90" y1="251.24" x2="354.20" y2="251.24" stroke="#303030" stroke-width="1.1"/>
<line x1="352.20" y1="242.93" x2="354.20" y2="242.93" stroke="#303030" stroke-width="1.1"/>
<line x1="352.90" y1="234.62" x2="354.20" y2="234.62" stroke="#303030" stroke-width="1.1"/>
<line x1="352.20" y1="226.31" x2="354.20" y2="226.31" stroke="#303030" stroke-width="1.1"/>
<line x1="352.90" y1="218.00" x2="354.20" y2="218.00" stroke="#303030" stroke-width="1.1"/>
<text x="351.30" y="295.69" font-size="8.6" font-weight="bold" fill="#151515" text-anchor="end" stroke="#151515" stroke-width="0.3">4.5</text>
<text x="351.30" y="279.07" font-size="8.6" font-weight="bold" fill="#151515" text-anchor="end" stroke="#151515" stroke-width="0.3">5.0</text>
<text x="351.30" y="262.45" font-size="8.6" font-weight="bold" fill="#151515" text-anchor="end" stroke="#151515" stroke-width="0.3">5.5</text>
<text x="351.30" y="245.83" font-size="8.6" font-weight="bold" fill="#151515" text-anchor="end" stroke="#151515" stroke-width="0.3">6.0</text>
<text x="351.30" y="229.21" font-size="8.6" font-weight="bold" fill="#151515" text-anchor="end" stroke="#151515" stroke-width="0.3">6.5</text>
<line x1="366.80" y1="285.90" x2="455.00" y2="233.00" stroke="#2a2aee" stroke-width="1.5"/>
<line x1="366.80" y1="286.70" x2="366.80" y2="291.90" stroke="#333" stroke-width="0.9"/>
<line x1="365.70" y1="286.70" x2="367.90" y2="286.70" stroke="#333" stroke-width="0.9"/>
<line x1="365.70" y1="291.90" x2="367.90" y2="291.90" stroke="#333" stroke-width="0.9"/>
<rect x="365.80" y="288.30" width="2" height="2" fill="#222"/>
<line x1="379.30" y1="272.60" x2="379.30" y2="277.80" stroke="#333" stroke-width="0.9"/>
<line x1="378.20" y1="272.60" x2="380.40" y2="272.60" stroke="#333" stroke-width="0.9"/>
<line x1="378.20" y1="277.80" x2="380.40" y2="277.80" stroke="#333" stroke-width="0.9"/>
<rect x="378.30" y="274.20" width="2" height="2" fill="#222"/>
<line x1="391.80" y1="264.00" x2="391.80" y2="269.20" stroke="#333" stroke-width="0.9"/>
<line x1="390.70" y1="264.00" x2="392.90" y2="264.00" stroke="#333" stroke-width="0.9"/>
<line x1="390.70" y1="269.20" x2="392.90" y2="269.20" stroke="#333" stroke-width="0.9"/>
<rect x="390.80" y="265.60" width="2" height="2" fill="#222"/>
<line x1="404.80" y1="257.60" x2="404.80" y2="262.80" stroke="#333" stroke-width="0.9"/>
<line x1="403.70" y1="257.60" x2="405.90" y2="257.60" stroke="#333" stroke-width="0.9"/>
<line x1="403.70" y1="262.80" x2="405.90" y2="262.80" stroke="#333" stroke-width="0.9"/>
<rect x="403.80" y="259.20" width="2" height="2" fill="#222"/>
<line x1="417.30" y1="252.60" x2="417.30" y2="257.80" stroke="#333" stroke-width="0.9"/>
<line x1="416.20" y1="252.60" x2="418.40" y2="252.60" stroke="#333" stroke-width="0.9"/>
<line x1="416.20" y1="257.80" x2="418.40" y2="257.80" stroke="#333" stroke-width="0.9"/>
<rect x="416.30" y="254.20" width="2" height="2" fill="#222"/>
<line x1="429.80" y1="247.60" x2="429.80" y2="252.80" stroke="#333" stroke-width="0.9"/>
<line x1="428.70" y1="247.60" x2="430.90" y2="247.60" stroke="#333" stroke-width="0.9"/>
<line x1="428.70" y1="252.80" x2="430.90" y2="252.80" stroke="#333" stroke-width="0.9"/>
<rect x="428.80" y="249.20" width="2" height="2" fill="#222"/>
<line x1="442.30" y1="239.70" x2="442.30" y2="244.90" stroke="#333" stroke-width="0.9"/>
<line x1="441.20" y1="239.70" x2="443.40" y2="239.70" stroke="#333" stroke-width="0.9"/>
<line x1="441.20" y1="244.90" x2="443.40" y2="244.90" stroke="#333" stroke-width="0.9"/>
<rect x="441.30" y="241.30" width="2" height="2" fill="#222"/>
<line x1="455.00" y1="228.80" x2="455.00" y2="234.00" stroke="#333" stroke-width="0.9"/>
<line x1="453.90" y1="228.80" x2="456.10" y2="228.80" stroke="#333" stroke-width="0.9"/>
<line x1="453.90" y1="234.00" x2="456.10" y2="234.00" stroke="#333" stroke-width="0.9"/>
<rect x="454.00" y="230.40" width="2" height="2" fill="#222"/>
<text x="400.20" y="320.80" font-size="9.0" font-weight="bold" fill="#151515" text-anchor="start" textLength="23.20" lengthAdjust="spacingAndGlyphs" stroke="#151515" stroke-width="0.3">Log C</text>
<text transform="translate(333.40,274.80) rotate(-90)" x="0" y="0" font-size="9.2" font-weight="bold" fill="#151515" textLength="19.40" lengthAdjust="spacingAndGlyphs" stroke="#151515" stroke-width="0.3">Log I</text>
<text transform="translate(265.30,314.00) rotate(-90)" x="0" y="0" font-size="11" font-weight="bold" fill="#151515" textLength="41.50" lengthAdjust="spacingAndGlyphs" stroke="#151515" stroke-width="0.18">Intensity</text>
<text transform="translate(263.90,271.40) rotate(-90)" x="0" y="0" font-size="7.4" font-weight="bold" fill="#151515" textLength="4.00" lengthAdjust="spacingAndGlyphs" stroke="#151515" stroke-width="0.18">(</text>
<text transform="translate(264.10,266.00) rotate(-90)" x="0" y="0" font-size="8.0" font-weight="bold" fill="#151515" textLength="4.00" lengthAdjust="spacingAndGlyphs" stroke="#151515" stroke-width="0.18">×</text>
<text transform="translate(264.70,257.40) rotate(-90)" x="0" y="0" font-size="10.6" font-weight="bold" fill="#151515" textLength="9.80" lengthAdjust="spacingAndGlyphs" stroke="#151515" stroke-width="0.18">10</text>
<text transform="translate(257.30,247.00) rotate(-90)" x="0" y="0" font-size="6.0" font-weight="bold" fill="#151515" stroke="#151515" stroke-width="0.18">5</text>
<text transform="translate(265.30,240.80) rotate(-90)" x="0" y="0" font-size="11" font-weight="bold" fill="#151515" textLength="29.60" lengthAdjust="spacingAndGlyphs" stroke="#151515" stroke-width="0.18">counts</text>
<text transform="translate(264.70,210.50) rotate(-90)" x="0" y="0" font-size="7.4" font-weight="bold" fill="#151515" textLength="3.10" lengthAdjust="spacingAndGlyphs" stroke="#151515" stroke-width="0.18">)</text>
<text x="326.90" y="356.60" font-size="11" font-weight="bold" fill="#151515" text-anchor="start" textLength="67.80" lengthAdjust="spacingAndGlyphs" stroke="#151515" stroke-width="0.18">Concentration</text>
<text x="398.20" y="356.30" font-size="7.8" font-weight="bold" fill="#151515" text-anchor="start" stroke="#151515" stroke-width="0.18">(</text>
<text x="400.80" y="355.90" font-size="8.0" font-weight="bold" fill="#151515" text-anchor="start" textLength="5.80" lengthAdjust="spacingAndGlyphs" stroke="#151515" stroke-width="0.18">×</text>
<text x="407.20" y="356.60" font-size="9.6" font-weight="bold" fill="#151515" text-anchor="start" textLength="10.00" lengthAdjust="spacingAndGlyphs" stroke="#151515" stroke-width="0.18">10</text>
<text x="417.90" y="351.30" font-size="6.2" font-weight="bold" fill="#151515" text-anchor="start" textLength="4.80" lengthAdjust="spacingAndGlyphs" stroke="#151515" stroke-width="0.18">-3</text>
<text x="425.20" y="356.60" font-size="10.0" font-weight="bold" fill="#151515" text-anchor="start" textLength="10.00" lengthAdjust="spacingAndGlyphs" stroke="#151515" stroke-width="0.18">M</text>
<text x="437.00" y="356.30" font-size="8.2" font-weight="bold" fill="#151515" text-anchor="start" stroke="#151515" stroke-width="0.18">)</text>
<rect x="42.90" y="374.80" width="185.40" height="135.40" fill="none" stroke="#303030" stroke-width="1.6"/>
<line x1="41.30" y1="510.20" x2="42.90" y2="510.20" stroke="#303030" stroke-width="1.2"/>
<line x1="40.10" y1="496.66" x2="42.90" y2="496.66" stroke="#303030" stroke-width="1.2"/>
<line x1="41.30" y1="483.12" x2="42.90" y2="483.12" stroke="#303030" stroke-width="1.2"/>
<line x1="40.10" y1="469.58" x2="42.90" y2="469.58" stroke="#303030" stroke-width="1.2"/>
<line x1="41.30" y1="456.04" x2="42.90" y2="456.04" stroke="#303030" stroke-width="1.2"/>
<line x1="40.10" y1="442.50" x2="42.90" y2="442.50" stroke="#303030" stroke-width="1.2"/>
<line x1="41.30" y1="428.96" x2="42.90" y2="428.96" stroke="#303030" stroke-width="1.2"/>
<line x1="40.10" y1="415.42" x2="42.90" y2="415.42" stroke="#303030" stroke-width="1.2"/>
<line x1="41.30" y1="401.88" x2="42.90" y2="401.88" stroke="#303030" stroke-width="1.2"/>
<line x1="40.10" y1="388.34" x2="42.90" y2="388.34" stroke="#303030" stroke-width="1.2"/>
<line x1="41.30" y1="374.80" x2="42.90" y2="374.80" stroke="#303030" stroke-width="1.2"/>
<text x="37.90" y="500.06" font-size="10.4" font-weight="bold" fill="#151515" text-anchor="end" stroke="#151515" stroke-width="0.18">0</text>
<text x="37.90" y="472.98" font-size="10.4" font-weight="bold" fill="#151515" text-anchor="end" stroke="#151515" stroke-width="0.18">10</text>
<text x="37.90" y="445.90" font-size="10.4" font-weight="bold" fill="#151515" text-anchor="end" stroke="#151515" stroke-width="0.18">20</text>
<text x="37.90" y="418.82" font-size="10.4" font-weight="bold" fill="#151515" text-anchor="end" stroke="#151515" stroke-width="0.18">30</text>
<text x="37.90" y="391.74" font-size="10.4" font-weight="bold" fill="#151515" text-anchor="end" stroke="#151515" stroke-width="0.18">40</text>
<line x1="42.90" y1="510.20" x2="42.90" y2="511.80" stroke="#303030" stroke-width="1.2"/>
<line x1="58.35" y1="510.20" x2="58.35" y2="513.00" stroke="#303030" stroke-width="1.2"/>
<line x1="73.80" y1="510.20" x2="73.80" y2="511.80" stroke="#303030" stroke-width="1.2"/>
<line x1="89.25" y1="510.20" x2="89.25" y2="513.00" stroke="#303030" stroke-width="1.2"/>
<line x1="104.70" y1="510.20" x2="104.70" y2="511.80" stroke="#303030" stroke-width="1.2"/>
<line x1="120.15" y1="510.20" x2="120.15" y2="513.00" stroke="#303030" stroke-width="1.2"/>
<line x1="135.60" y1="510.20" x2="135.60" y2="511.80" stroke="#303030" stroke-width="1.2"/>
<line x1="151.05" y1="510.20" x2="151.05" y2="513.00" stroke="#303030" stroke-width="1.2"/>
<line x1="166.50" y1="510.20" x2="166.50" y2="511.80" stroke="#303030" stroke-width="1.2"/>
<line x1="181.95" y1="510.20" x2="181.95" y2="513.00" stroke="#303030" stroke-width="1.2"/>
<line x1="197.40" y1="510.20" x2="197.40" y2="511.80" stroke="#303030" stroke-width="1.2"/>
<line x1="212.85" y1="510.20" x2="212.85" y2="513.00" stroke="#303030" stroke-width="1.2"/>
<line x1="228.30" y1="510.20" x2="228.30" y2="511.80" stroke="#303030" stroke-width="1.2"/>
<text x="58.35" y="524.00" font-size="10.4" font-weight="bold" fill="#151515" text-anchor="middle" stroke="#151515" stroke-width="0.18">0.0</text>
<text x="89.25" y="524.00" font-size="10.4" font-weight="bold" fill="#151515" text-anchor="middle" stroke="#151515" stroke-width="0.18">0.2</text>
<text x="120.15" y="524.00" font-size="10.4" font-weight="bold" fill="#151515" text-anchor="middle" stroke="#151515" stroke-width="0.18">0.4</text>
<text x="151.05" y="524.00" font-size="10.4" font-weight="bold" fill="#151515" text-anchor="middle" stroke="#151515" stroke-width="0.18">0.6</text>
<text x="181.95" y="524.00" font-size="10.4" font-weight="bold" fill="#151515" text-anchor="middle" stroke="#151515" stroke-width="0.18">0.8</text>
<text x="212.85" y="524.00" font-size="10.4" font-weight="bold" fill="#151515" text-anchor="middle" stroke="#151515" stroke-width="0.18">1.0</text>
<text x="46.20" y="389.80" font-size="15.8" font-weight="normal" fill="#151515" text-anchor="start" textLength="17.70" lengthAdjust="spacingAndGlyphs" stroke="#151515" stroke-width="0.45">(e)</text>
<text x="125.20" y="387.20" font-size="10.5" font-weight="bold" fill="#151515" text-anchor="start" textLength="14.90" lengthAdjust="spacingAndGlyphs" stroke="#151515" stroke-width="0.18">CV</text>
<line x1="212.80" y1="382.60" x2="212.80" y2="391.20" stroke="#2a2a2a" stroke-width="1.0"/>
<rect x="211.15" y="385.25" width="3.30" height="3.30" rx="1.2" fill="#0a0aff"/>
<line x1="211.20" y1="382.60" x2="214.40" y2="382.60" stroke="#2a2a2a" stroke-width="1.2"/>
<line x1="211.20" y1="391.20" x2="214.40" y2="391.20" stroke="#2a2a2a" stroke-width="1.2"/>
<line x1="74.00" y1="404.30" x2="74.00" y2="411.70" stroke="#2a2a2a" stroke-width="1.0"/>
<rect x="72.35" y="406.35" width="3.30" height="3.30" rx="1.2" fill="#0a0aff"/>
<line x1="72.40" y1="404.30" x2="75.60" y2="404.30" stroke="#2a2a2a" stroke-width="1.2"/>
<line x1="72.40" y1="411.70" x2="75.60" y2="411.70" stroke="#2a2a2a" stroke-width="1.2"/>
<line x1="60.00" y1="450.60" x2="60.00" y2="458.60" stroke="#2a2a2a" stroke-width="1.0"/>
<rect x="58.35" y="452.95" width="3.30" height="3.30" rx="1.2" fill="#0a0aff"/>
<line x1="58.40" y1="450.60" x2="61.60" y2="450.60" stroke="#2a2a2a" stroke-width="1.2"/>
<line x1="58.40" y1="458.60" x2="61.60" y2="458.60" stroke="#2a2a2a" stroke-width="1.2"/>
<line x1="58.40" y1="474.30" x2="58.40" y2="481.70" stroke="#2a2a2a" stroke-width="1.0"/>
<rect x="56.75" y="476.35" width="3.30" height="3.30" rx="1.2" fill="#0a0aff"/>
<line x1="56.80" y1="474.30" x2="60.00" y2="474.30" stroke="#2a2a2a" stroke-width="1.2"/>
<line x1="56.80" y1="481.70" x2="60.00" y2="481.70" stroke="#2a2a2a" stroke-width="1.2"/>
<line x1="58.40" y1="490.00" x2="58.40" y2="496.00" stroke="#2a2a2a" stroke-width="1.0"/>
<rect x="56.75" y="491.35" width="3.30" height="3.30" rx="1.2" fill="#0a0aff"/>
<line x1="56.80" y1="490.00" x2="60.00" y2="490.00" stroke="#2a2a2a" stroke-width="1.2"/>
<line x1="56.80" y1="496.00" x2="60.00" y2="496.00" stroke="#2a2a2a" stroke-width="1.2"/>
<line x1="58.40" y1="486.00" x2="58.40" y2="492.00" stroke="#2a2a2a" stroke-width="1.0"/>
<rect x="56.75" y="487.35" width="3.30" height="3.30" rx="1.2" fill="#0a0aff"/>
<line x1="56.80" y1="486.00" x2="60.00" y2="486.00" stroke="#2a2a2a" stroke-width="1.2"/>
<line x1="56.80" y1="492.00" x2="60.00" y2="492.00" stroke="#2a2a2a" stroke-width="1.2"/>
<rect x="105.60" y="400.50" width="114.40" height="83.30" fill="#fff" stroke="#303030" stroke-width="1.5"/>
<line x1="105.60" y1="483.80" x2="105.60" y2="485.10" stroke="#303030" stroke-width="1.1"/>
<line x1="115.13" y1="483.80" x2="115.13" y2="485.80" stroke="#303030" stroke-width="1.1"/>
<line x1="124.67" y1="483.80" x2="124.67" y2="485.10" stroke="#303030" stroke-width="1.1"/>
<line x1="134.20" y1="483.80" x2="134.20" y2="485.80" stroke="#303030" stroke-width="1.1"/>
<line x1="143.73" y1="483.80" x2="143.73" y2="485.10" stroke="#303030" stroke-width="1.1"/>
<line x1="153.27" y1="483.80" x2="153.27" y2="485.80" stroke="#303030" stroke-width="1.1"/>
<line x1="162.80" y1="483.80" x2="162.80" y2="485.10" stroke="#303030" stroke-width="1.1"/>
<line x1="172.33" y1="483.80" x2="172.33" y2="485.80" stroke="#303030" stroke-width="1.1"/>
<line x1="181.87" y1="483.80" x2="181.87" y2="485.10" stroke="#303030" stroke-width="1.1"/>
<line x1="191.40" y1="483.80" x2="191.40" y2="485.80" stroke="#303030" stroke-width="1.1"/>
<line x1="200.93" y1="483.80" x2="200.93" y2="485.10" stroke="#303030" stroke-width="1.1"/>
<line x1="210.47" y1="483.80" x2="210.47" y2="485.80" stroke="#303030" stroke-width="1.1"/>
<line x1="220.00" y1="483.80" x2="220.00" y2="485.10" stroke="#303030" stroke-width="1.1"/>
<text x="114.83" y="493.60" font-size="8.6" font-weight="bold" fill="#151515" text-anchor="middle" stroke="#151515" stroke-width="0.3">-9</text>
<text x="133.90" y="493.60" font-size="8.6" font-weight="bold" fill="#151515" text-anchor="middle" stroke="#151515" stroke-width="0.3">-8</text>
<text x="152.97" y="493.60" font-size="8.6" font-weight="bold" fill="#151515" text-anchor="middle" stroke="#151515" stroke-width="0.3">-7</text>
<text x="172.03" y="493.60" font-size="8.6" font-weight="bold" fill="#151515" text-anchor="middle" stroke="#151515" stroke-width="0.3">-6</text>
<text x="191.10" y="493.60" font-size="8.6" font-weight="bold" fill="#151515" text-anchor="middle" stroke="#151515" stroke-width="0.3">-5</text>
<text x="210.17" y="493.60" font-size="8.6" font-weight="bold" fill="#151515" text-anchor="middle" stroke="#151515" stroke-width="0.3">-4</text>
<line x1="104.30" y1="483.80" x2="105.60" y2="483.80" stroke="#303030" stroke-width="1.1"/>
<line x1="103.60" y1="475.87" x2="105.60" y2="475.87" stroke="#303030" stroke-width="1.1"/>
<line x1="104.30" y1="467.93" x2="105.60" y2="467.93" stroke="#303030" stroke-width="1.1"/>
<line x1="103.60" y1="460.00" x2="105.60" y2="460.00" stroke="#303030" stroke-width="1.1"/>
<line x1="104.30" y1="452.07" x2="105.60" y2="452.07" stroke="#303030" stroke-width="1.1"/>
<line x1="103.60" y1="444.13" x2="105.60" y2="444.13" stroke="#303030" stroke-width="1.1"/>
<line x1="104.30" y1="436.20" x2="105.60" y2="436.20" stroke="#303030" stroke-width="1.1"/>
<line x1="103.60" y1="428.27" x2="105.60" y2="428.27" stroke="#303030" stroke-width="1.1"/>
<line x1="104.30" y1="420.33" x2="105.60" y2="420.33" stroke="#303030" stroke-width="1.1"/>
<line x1="103.60" y1="412.40" x2="105.60" y2="412.40" stroke="#303030" stroke-width="1.1"/>
<line x1="104.30" y1="404.47" x2="105.60" y2="404.47" stroke="#303030" stroke-width="1.1"/>
<text x="102.70" y="478.77" font-size="8.6" font-weight="bold" fill="#151515" text-anchor="end" stroke="#151515" stroke-width="0.3">4.0</text>
<text x="102.70" y="462.90" font-size="8.6" font-weight="bold" fill="#151515" text-anchor="end" stroke="#151515" stroke-width="0.3">4.4</text>
<text x="102.70" y="447.03" font-size="8.6" font-weight="bold" fill="#151515" text-anchor="end" stroke="#151515" stroke-width="0.3">4.8</text>
<text x="102.70" y="431.17" font-size="8.6" font-weight="bold" fill="#151515" text-anchor="end" stroke="#151515" stroke-width="0.3">5.2</text>
<text x="102.70" y="415.30" font-size="8.6" font-weight="bold" fill="#151515" text-anchor="end" stroke="#151515" stroke-width="0.3">5.6</text>
<line x1="115.10" y1="470.20" x2="210.00" y2="407.80" stroke="#2a2aee" stroke-width="1.5"/>
<line x1="115.10" y1="470.40" x2="115.10" y2="475.60" stroke="#333" stroke-width="0.9"/>
<line x1="114.00" y1="470.40" x2="116.20" y2="470.40" stroke="#333" stroke-width="0.9"/>
<line x1="114.00" y1="475.60" x2="116.20" y2="475.60" stroke="#333" stroke-width="0.9"/>
<rect x="114.10" y="472.00" width="2" height="2" fill="#222"/>
<line x1="134.40" y1="457.90" x2="134.40" y2="463.10" stroke="#333" stroke-width="0.9"/>
<line x1="133.30" y1="457.90" x2="135.50" y2="457.90" stroke="#333" stroke-width="0.9"/>
<line x1="133.30" y1="463.10" x2="135.50" y2="463.10" stroke="#333" stroke-width="0.9"/>
<rect x="133.40" y="459.50" width="2" height="2" fill="#222"/>
<line x1="153.20" y1="440.30" x2="153.20" y2="445.50" stroke="#333" stroke-width="0.9"/>
<line x1="152.10" y1="440.30" x2="154.30" y2="440.30" stroke="#333" stroke-width="0.9"/>
<line x1="152.10" y1="445.50" x2="154.30" y2="445.50" stroke="#333" stroke-width="0.9"/>
<rect x="152.20" y="441.90" width="2" height="2" fill="#222"/>
<line x1="172.00" y1="426.10" x2="172.00" y2="431.30" stroke="#333" stroke-width="0.9"/>
<line x1="170.90" y1="426.10" x2="173.10" y2="426.10" stroke="#333" stroke-width="0.9"/>
<line x1="170.90" y1="431.30" x2="173.10" y2="431.30" stroke="#333" stroke-width="0.9"/>
<rect x="171.00" y="427.70" width="2" height="2" fill="#222"/>
<line x1="190.90" y1="417.40" x2="190.90" y2="422.60" stroke="#333" stroke-width="0.9"/>
<line x1="189.80" y1="417.40" x2="192.00" y2="417.40" stroke="#333" stroke-width="0.9"/>
<line x1="189.80" y1="422.60" x2="192.00" y2="422.60" stroke="#333" stroke-width="0.9"/>
<rect x="189.90" y="419.00" width="2" height="2" fill="#222"/>
<line x1="210.00" y1="409.20" x2="210.00" y2="414.40" stroke="#333" stroke-width="0.9"/>
<line x1="208.90" y1="409.20" x2="211.10" y2="409.20" stroke="#333" stroke-width="0.9"/>
<line x1="208.90" y1="414.40" x2="211.10" y2="414.40" stroke="#333" stroke-width="0.9"/>
<rect x="209.00" y="410.80" width="2" height="2" fill="#222"/>
<text x="151.60" y="505.00" font-size="9.0" font-weight="bold" fill="#151515" text-anchor="start" textLength="23.20" lengthAdjust="spacingAndGlyphs" stroke="#151515" stroke-width="0.3">Log C</text>
<text transform="translate(85.30,455.80) rotate(-90)" x="0" y="0" font-size="9.2" font-weight="bold" fill="#151515" textLength="20.40" lengthAdjust="spacingAndGlyphs" stroke="#151515" stroke-width="0.3">Log I</text>
<text transform="translate(18.60,498.40) rotate(-90)" x="0" y="0" font-size="11" font-weight="bold" fill="#151515" textLength="41.80" lengthAdjust="spacingAndGlyphs" stroke="#151515" stroke-width="0.18">Intensity</text>
<text transform="translate(17.00,454.60) rotate(-90)" x="0" y="0" font-size="7.4" font-weight="bold" fill="#151515" textLength="4.00" lengthAdjust="spacingAndGlyphs" stroke="#151515" stroke-width="0.18">(</text>
<text transform="translate(17.00,449.90) rotate(-90)" x="0" y="0" font-size="8.0" font-weight="bold" fill="#151515" textLength="4.00" lengthAdjust="spacingAndGlyphs" stroke="#151515" stroke-width="0.18">×</text>
<text transform="translate(17.80,441.00) rotate(-90)" x="0" y="0" font-size="10.6" font-weight="bold" fill="#151515" textLength="10.20" lengthAdjust="spacingAndGlyphs" stroke="#151515" stroke-width="0.18">10</text>
<text transform="translate(10.60,430.20) rotate(-90)" x="0" y="0" font-size="6.0" font-weight="bold" fill="#151515" stroke="#151515" stroke-width="0.18">4</text>
<text transform="translate(18.60,423.60) rotate(-90)" x="0" y="0" font-size="11" font-weight="bold" fill="#151515" textLength="29.10" lengthAdjust="spacingAndGlyphs" stroke="#151515" stroke-width="0.18">counts</text>
<text transform="translate(18.00,393.80) rotate(-90)" x="0" y="0" font-size="7.4" font-weight="bold" fill="#151515" textLength="3.20" lengthAdjust="spacingAndGlyphs" stroke="#151515" stroke-width="0.18">)</text>
<text x="79.20" y="540.20" font-size="11" font-weight="bold" fill="#151515" text-anchor="start" textLength="68.40" lengthAdjust="spacingAndGlyphs" stroke="#151515" stroke-width="0.18">Concentration</text>
<text x="150.20" y="539.90" font-size="7.8" font-weight="bold" fill="#151515" text-anchor="start" stroke="#151515" stroke-width="0.18">(</text>
<text x="152.90" y="539.50" font-size="8.0" font-weight="bold" fill="#151515" text-anchor="start" textLength="5.80" lengthAdjust="spacingAndGlyphs" stroke="#151515" stroke-width="0.18">×</text>
<text x="159.10" y="540.20" font-size="9.6" font-weight="bold" fill="#151515" text-anchor="start" textLength="9.80" lengthAdjust="spacingAndGlyphs" stroke="#151515" stroke-width="0.18">10</text>
<text x="169.50" y="534.90" font-size="6.2" font-weight="bold" fill="#151515" text-anchor="start" textLength="5.20" lengthAdjust="spacingAndGlyphs" stroke="#151515" stroke-width="0.18">-4</text>
<text x="178.20" y="540.20" font-size="10.0" font-weight="bold" fill="#151515" text-anchor="start" textLength="10.40" lengthAdjust="spacingAndGlyphs" stroke="#151515" stroke-width="0.18">M</text>
<text x="189.20" y="539.90" font-size="8.2" font-weight="bold" fill="#151515" text-anchor="start" stroke="#151515" stroke-width="0.18">)</text>
<rect x="290.50" y="374.70" width="185.80" height="135.50" fill="none" stroke="#303030" stroke-width="1.6"/>
<line x1="288.90" y1="510.20" x2="290.50" y2="510.20" stroke="#303030" stroke-width="1.2"/>
<line x1="287.70" y1="498.91" x2="290.50" y2="498.91" stroke="#303030" stroke-width="1.2"/>
<line x1="288.90" y1="487.62" x2="290.50" y2="487.62" stroke="#303030" stroke-width="1.2"/>
<line x1="287.70" y1="476.32" x2="290.50" y2="476.32" stroke="#303030" stroke-width="1.2"/>
<line x1="288.90" y1="465.03" x2="290.50" y2="465.03" stroke="#303030" stroke-width="1.2"/>
<line x1="287.70" y1="453.74" x2="290.50" y2="453.74" stroke="#303030" stroke-width="1.2"/>
<line x1="288.90" y1="442.45" x2="290.50" y2="442.45" stroke="#303030" stroke-width="1.2"/>
<line x1="287.70" y1="431.16" x2="290.50" y2="431.16" stroke="#303030" stroke-width="1.2"/>
<line x1="288.90" y1="419.87" x2="290.50" y2="419.87" stroke="#303030" stroke-width="1.2"/>
<line x1="287.70" y1="408.57" x2="290.50" y2="408.57" stroke="#303030" stroke-width="1.2"/>
<line x1="288.90" y1="397.28" x2="290.50" y2="397.28" stroke="#303030" stroke-width="1.2"/>
<line x1="287.70" y1="385.99" x2="290.50" y2="385.99" stroke="#303030" stroke-width="1.2"/>
<line x1="288.90" y1="374.70" x2="290.50" y2="374.70" stroke="#303030" stroke-width="1.2"/>
<text x="285.50" y="502.31" font-size="10.4" font-weight="bold" fill="#151515" text-anchor="end" stroke="#151515" stroke-width="0.18">0</text>
<text x="285.50" y="479.72" font-size="10.4" font-weight="bold" fill="#151515" text-anchor="end" stroke="#151515" stroke-width="0.18">20</text>
<text x="285.50" y="457.14" font-size="10.4" font-weight="bold" fill="#151515" text-anchor="end" stroke="#151515" stroke-width="0.18">40</text>
<text x="285.50" y="434.56" font-size="10.4" font-weight="bold" fill="#151515" text-anchor="end" stroke="#151515" stroke-width="0.18">60</text>
<text x="285.50" y="411.97" font-size="10.4" font-weight="bold" fill="#151515" text-anchor="end" stroke="#151515" stroke-width="0.18">80</text>
<text x="285.50" y="389.39" font-size="10.4" font-weight="bold" fill="#151515" text-anchor="end" stroke="#151515" stroke-width="0.18">100</text>
<line x1="290.50" y1="510.20" x2="290.50" y2="511.80" stroke="#303030" stroke-width="1.2"/>
<line x1="305.98" y1="510.20" x2="305.98" y2="513.00" stroke="#303030" stroke-width="1.2"/>
<line x1="321.47" y1="510.20" x2="321.47" y2="511.80" stroke="#303030" stroke-width="1.2"/>
<line x1="336.95" y1="510.20" x2="336.95" y2="513.00" stroke="#303030" stroke-width="1.2"/>
<line x1="352.43" y1="510.20" x2="352.43" y2="511.80" stroke="#303030" stroke-width="1.2"/>
<line x1="367.92" y1="510.20" x2="367.92" y2="513.00" stroke="#303030" stroke-width="1.2"/>
<line x1="383.40" y1="510.20" x2="383.40" y2="511.80" stroke="#303030" stroke-width="1.2"/>
<line x1="398.88" y1="510.20" x2="398.88" y2="513.00" stroke="#303030" stroke-width="1.2"/>
<line x1="414.37" y1="510.20" x2="414.37" y2="511.80" stroke="#303030" stroke-width="1.2"/>
<line x1="429.85" y1="510.20" x2="429.85" y2="513.00" stroke="#303030" stroke-width="1.2"/>
<line x1="445.33" y1="510.20" x2="445.33" y2="511.80" stroke="#303030" stroke-width="1.2"/>
<line x1="460.82" y1="510.20" x2="460.82" y2="513.00" stroke="#303030" stroke-width="1.2"/>
<line x1="476.30" y1="510.20" x2="476.30" y2="511.80" stroke="#303030" stroke-width="1.2"/>
<text x="305.98" y="524.00" font-size="10.4" font-weight="bold" fill="#151515" text-anchor="middle" stroke="#151515" stroke-width="0.18">0.0</text>
<text x="336.95" y="524.00" font-size="10.4" font-weight="bold" fill="#151515" text-anchor="middle" stroke="#151515" stroke-width="0.18">0.2</text>
<text x="367.92" y="524.00" font-size="10.4" font-weight="bold" fill="#151515" text-anchor="middle" stroke="#151515" stroke-width="0.18">0.4</text>
<text x="398.88" y="524.00" font-size="10.4" font-weight="bold" fill="#151515" text-anchor="middle" stroke="#151515" stroke-width="0.18">0.6</text>
<text x="429.85" y="524.00" font-size="10.4" font-weight="bold" fill="#151515" text-anchor="middle" stroke="#151515" stroke-width="0.18">0.8</text>
<text x="460.82" y="524.00" font-size="10.4" font-weight="bold" fill="#151515" text-anchor="middle" stroke="#151515" stroke-width="0.18">1.0</text>
<text x="293.00" y="388.40" font-size="15.8" font-weight="normal" fill="#151515" text-anchor="start" textLength="15.50" lengthAdjust="spacingAndGlyphs" stroke="#151515" stroke-width="0.45">(f)</text>
<text x="374.20" y="388.50" font-size="10.5" font-weight="bold" fill="#151515" text-anchor="start" textLength="21.90" lengthAdjust="spacingAndGlyphs" stroke="#151515" stroke-width="0.18">CYP</text>
<line x1="460.30" y1="389.10" x2="460.30" y2="397.50" stroke="#2a2a2a" stroke-width="1.0"/>
<rect x="458.65" y="391.65" width="3.30" height="3.30" rx="1.2" fill="#0a0aff"/>
<line x1="458.70" y1="389.10" x2="461.90" y2="389.10" stroke="#2a2a2a" stroke-width="1.2"/>
<line x1="458.70" y1="397.50" x2="461.90" y2="397.50" stroke="#2a2a2a" stroke-width="1.2"/>
<line x1="321.20" y1="424.50" x2="321.20" y2="432.70" stroke="#2a2a2a" stroke-width="1.0"/>
<rect x="319.55" y="426.95" width="3.30" height="3.30" rx="1.2" fill="#0a0aff"/>
<line x1="319.60" y1="424.50" x2="322.80" y2="424.50" stroke="#2a2a2a" stroke-width="1.2"/>
<line x1="319.60" y1="432.70" x2="322.80" y2="432.70" stroke="#2a2a2a" stroke-width="1.2"/>
<line x1="307.50" y1="455.50" x2="307.50" y2="462.50" stroke="#2a2a2a" stroke-width="1.0"/>
<rect x="305.85" y="457.35" width="3.30" height="3.30" rx="1.2" fill="#0a0aff"/>
<line x1="305.90" y1="455.50" x2="309.10" y2="455.50" stroke="#2a2a2a" stroke-width="1.2"/>
<line x1="305.90" y1="462.50" x2="309.10" y2="462.50" stroke="#2a2a2a" stroke-width="1.2"/>
<line x1="306.20" y1="475.10" x2="306.20" y2="477.10" stroke="#2a2a2a" stroke-width="1.0"/>
<rect x="304.55" y="474.45" width="3.30" height="3.30" rx="1.2" fill="#0a0aff"/>
<line x1="304.60" y1="475.10" x2="307.80" y2="475.10" stroke="#2a2a2a" stroke-width="1.2"/>
<line x1="304.60" y1="477.10" x2="307.80" y2="477.10" stroke="#2a2a2a" stroke-width="1.2"/>
<line x1="306.20" y1="468.60" x2="306.20" y2="475.00" stroke="#2a2a2a" stroke-width="1.0"/>
<rect x="304.55" y="470.15" width="3.30" height="3.30" rx="1.2" fill="#0a0aff"/>
<line x1="304.60" y1="468.60" x2="307.80" y2="468.60" stroke="#2a2a2a" stroke-width="1.2"/>
<line x1="304.60" y1="475.00" x2="307.80" y2="475.00" stroke="#2a2a2a" stroke-width="1.2"/>
<line x1="306.20" y1="476.50" x2="306.20" y2="482.50" stroke="#2a2a2a" stroke-width="1.0"/>
<rect x="304.55" y="477.85" width="3.30" height="3.30" rx="1.2" fill="#0a0aff"/>
<line x1="304.60" y1="476.50" x2="307.80" y2="476.50" stroke="#2a2a2a" stroke-width="1.2"/>
<line x1="304.60" y1="482.50" x2="307.80" y2="482.50" stroke="#2a2a2a" stroke-width="1.2"/>
<line x1="306.20" y1="481.50" x2="306.20" y2="487.50" stroke="#2a2a2a" stroke-width="1.0"/>
<rect x="304.55" y="482.85" width="3.30" height="3.30" rx="1.2" fill="#0a0aff"/>
<line x1="304.60" y1="481.50" x2="307.80" y2="481.50" stroke="#2a2a2a" stroke-width="1.2"/>
<line x1="304.60" y1="487.50" x2="307.80" y2="487.50" stroke="#2a2a2a" stroke-width="1.2"/>
<line x1="306.20" y1="485.90" x2="306.20" y2="493.10" stroke="#2a2a2a" stroke-width="1.0"/>
<rect x="304.55" y="487.85" width="3.30" height="3.30" rx="1.2" fill="#0a0aff"/>
<line x1="304.60" y1="485.90" x2="307.80" y2="485.90" stroke="#2a2a2a" stroke-width="1.2"/>
<line x1="304.60" y1="493.10" x2="307.80" y2="493.10" stroke="#2a2a2a" stroke-width="1.2"/>
<rect x="354.10" y="401.50" width="113.50" height="82.50" fill="#fff" stroke="#303030" stroke-width="1.5"/>
<line x1="354.10" y1="484.00" x2="354.10" y2="485.30" stroke="#303030" stroke-width="1.1"/>
<line x1="362.21" y1="484.00" x2="362.21" y2="486.00" stroke="#303030" stroke-width="1.1"/>
<line x1="370.31" y1="484.00" x2="370.31" y2="485.30" stroke="#303030" stroke-width="1.1"/>
<line x1="378.42" y1="484.00" x2="378.42" y2="486.00" stroke="#303030" stroke-width="1.1"/>
<line x1="386.53" y1="484.00" x2="386.53" y2="485.30" stroke="#303030" stroke-width="1.1"/>
<line x1="394.64" y1="484.00" x2="394.64" y2="486.00" stroke="#303030" stroke-width="1.1"/>
<line x1="402.74" y1="484.00" x2="402.74" y2="485.30" stroke="#303030" stroke-width="1.1"/>
<line x1="410.85" y1="484.00" x2="410.85" y2="486.00" stroke="#303030" stroke-width="1.1"/>
<line x1="418.96" y1="484.00" x2="418.96" y2="485.30" stroke="#303030" stroke-width="1.1"/>
<line x1="427.06" y1="484.00" x2="427.06" y2="486.00" stroke="#303030" stroke-width="1.1"/>
<line x1="435.17" y1="484.00" x2="435.17" y2="485.30" stroke="#303030" stroke-width="1.1"/>
<line x1="443.28" y1="484.00" x2="443.28" y2="486.00" stroke="#303030" stroke-width="1.1"/>
<line x1="451.39" y1="484.00" x2="451.39" y2="485.30" stroke="#303030" stroke-width="1.1"/>
<line x1="459.49" y1="484.00" x2="459.49" y2="486.00" stroke="#303030" stroke-width="1.1"/>
<line x1="467.60" y1="484.00" x2="467.60" y2="485.30" stroke="#303030" stroke-width="1.1"/>
<text x="361.91" y="493.80" font-size="8.6" font-weight="bold" fill="#151515" text-anchor="middle" stroke="#151515" stroke-width="0.3">-9</text>
<text x="378.12" y="493.80" font-size="8.6" font-weight="bold" fill="#151515" text-anchor="middle" stroke="#151515" stroke-width="0.3">-8</text>
<text x="394.34" y="493.80" font-size="8.6" font-weight="bold" fill="#151515" text-anchor="middle" stroke="#151515" stroke-width="0.3">-7</text>
<text x="410.55" y="493.80" font-size="8.6" font-weight="bold" fill="#151515" text-anchor="middle" stroke="#151515" stroke-width="0.3">-6</text>
<text x="426.76" y="493.80" font-size="8.6" font-weight="bold" fill="#151515" text-anchor="middle" stroke="#151515" stroke-width="0.3">-5</text>
<text x="442.98" y="493.80" font-size="8.6" font-weight="bold" fill="#151515" text-anchor="middle" stroke="#151515" stroke-width="0.3">-4</text>
<text x="459.19" y="493.80" font-size="8.6" font-weight="bold" fill="#151515" text-anchor="middle" stroke="#151515" stroke-width="0.3">-3</text>
<line x1="352.80" y1="484.00" x2="354.10" y2="484.00" stroke="#303030" stroke-width="1.1"/>
<line x1="352.80" y1="475.75" x2="354.10" y2="475.75" stroke="#303030" stroke-width="1.1"/>
<line x1="352.80" y1="467.50" x2="354.10" y2="467.50" stroke="#303030" stroke-width="1.1"/>
<line x1="352.80" y1="459.25" x2="354.10" y2="459.25" stroke="#303030" stroke-width="1.1"/>
<line x1="352.80" y1="451.00" x2="354.10" y2="451.00" stroke="#303030" stroke-width="1.1"/>
<line x1="352.80" y1="442.75" x2="354.10" y2="442.75" stroke="#303030" stroke-width="1.1"/>
<line x1="352.80" y1="434.50" x2="354.10" y2="434.50" stroke="#303030" stroke-width="1.1"/>
<line x1="352.80" y1="426.25" x2="354.10" y2="426.25" stroke="#303030" stroke-width="1.1"/>
<line x1="352.80" y1="418.00" x2="354.10" y2="418.00" stroke="#303030" stroke-width="1.1"/>
<line x1="352.80" y1="409.75" x2="354.10" y2="409.75" stroke="#303030" stroke-width="1.1"/>
<line x1="352.80" y1="401.50" x2="354.10" y2="401.50" stroke="#303030" stroke-width="1.1"/>
<text x="351.20" y="475.90" font-size="8.6" font-weight="bold" fill="#151515" text-anchor="end" stroke="#151515" stroke-width="0.3">3.9</text>
<text x="351.20" y="459.40" font-size="8.6" font-weight="bold" fill="#151515" text-anchor="end" stroke="#151515" stroke-width="0.3">4.2</text>
<text x="351.20" y="442.90" font-size="8.6" font-weight="bold" fill="#151515" text-anchor="end" stroke="#151515" stroke-width="0.3">4.5</text>
<text x="351.20" y="426.40" font-size="8.6" font-weight="bold" fill="#151515" text-anchor="end" stroke="#151515" stroke-width="0.3">4.8</text>
<text x="351.20" y="409.90" font-size="8.6" font-weight="bold" fill="#151515" text-anchor="end" stroke="#151515" stroke-width="0.3">5.1</text>
<line x1="362.10" y1="473.70" x2="459.50" y2="416.20" stroke="#2a2aee" stroke-width="1.5"/>
<line x1="362.10" y1="469.90" x2="362.10" y2="475.10" stroke="#333" stroke-width="0.9"/>
<line x1="361.00" y1="469.90" x2="363.20" y2="469.90" stroke="#333" stroke-width="0.9"/>
<line x1="361.00" y1="475.10" x2="363.20" y2="475.10" stroke="#333" stroke-width="0.9"/>
<rect x="361.10" y="471.50" width="2" height="2" fill="#222"/>
<line x1="378.30" y1="460.40" x2="378.30" y2="465.60" stroke="#333" stroke-width="0.9"/>
<line x1="377.20" y1="460.40" x2="379.40" y2="460.40" stroke="#333" stroke-width="0.9"/>
<line x1="377.20" y1="465.60" x2="379.40" y2="465.60" stroke="#333" stroke-width="0.9"/>
<rect x="377.30" y="462.00" width="2" height="2" fill="#222"/>
<line x1="394.70" y1="452.80" x2="394.70" y2="458.00" stroke="#333" stroke-width="0.9"/>
<line x1="393.60" y1="452.80" x2="395.80" y2="452.80" stroke="#333" stroke-width="0.9"/>
<line x1="393.60" y1="458.00" x2="395.80" y2="458.00" stroke="#333" stroke-width="0.9"/>
<rect x="393.70" y="454.40" width="2" height="2" fill="#222"/>
<line x1="410.80" y1="444.40" x2="410.80" y2="449.60" stroke="#333" stroke-width="0.9"/>
<line x1="409.70" y1="444.40" x2="411.90" y2="444.40" stroke="#333" stroke-width="0.9"/>
<line x1="409.70" y1="449.60" x2="411.90" y2="449.60" stroke="#333" stroke-width="0.9"/>
<rect x="409.80" y="446.00" width="2" height="2" fill="#222"/>
<line x1="427.00" y1="434.70" x2="427.00" y2="439.90" stroke="#333" stroke-width="0.9"/>
<line x1="425.90" y1="434.70" x2="428.10" y2="434.70" stroke="#333" stroke-width="0.9"/>
<line x1="425.90" y1="439.90" x2="428.10" y2="439.90" stroke="#333" stroke-width="0.9"/>
<rect x="426.00" y="436.30" width="2" height="2" fill="#222"/>
<line x1="443.40" y1="420.70" x2="443.40" y2="425.90" stroke="#333" stroke-width="0.9"/>
<line x1="442.30" y1="420.70" x2="444.50" y2="420.70" stroke="#333" stroke-width="0.9"/>
<line x1="442.30" y1="425.90" x2="444.50" y2="425.90" stroke="#333" stroke-width="0.9"/>
<rect x="442.40" y="422.30" width="2" height="2" fill="#222"/>
<line x1="459.00" y1="410.90" x2="459.00" y2="416.10" stroke="#333" stroke-width="0.9"/>
<line x1="457.90" y1="410.90" x2="460.10" y2="410.90" stroke="#333" stroke-width="0.9"/>
<line x1="457.90" y1="416.10" x2="460.10" y2="416.10" stroke="#333" stroke-width="0.9"/>
<rect x="458.00" y="412.50" width="2" height="2" fill="#222"/>
<text x="400.30" y="504.90" font-size="9.0" font-weight="bold" fill="#151515" text-anchor="start" textLength="23.60" lengthAdjust="spacingAndGlyphs" stroke="#151515" stroke-width="0.3">Log C</text>
<text transform="translate(333.20,452.90) rotate(-90)" x="0" y="0" font-size="9.2" font-weight="bold" fill="#151515" textLength="19.50" lengthAdjust="spacingAndGlyphs" stroke="#151515" stroke-width="0.3">Log I</text>
<text transform="translate(265.20,502.70) rotate(-90)" x="0" y="0" font-size="11" font-weight="bold" fill="#151515" textLength="42.00" lengthAdjust="spacingAndGlyphs" stroke="#151515" stroke-width="0.18">Intensity</text>
<text transform="translate(263.80,459.60) rotate(-90)" x="0" y="0" font-size="7.4" font-weight="bold" fill="#151515" textLength="4.00" lengthAdjust="spacingAndGlyphs" stroke="#151515" stroke-width="0.18">(</text>
<text transform="translate(264.00,454.40) rotate(-90)" x="0" y="0" font-size="8.0" font-weight="bold" fill="#151515" textLength="4.00" lengthAdjust="spacingAndGlyphs" stroke="#151515" stroke-width="0.18">×</text>
<text transform="translate(264.60,445.30) rotate(-90)" x="0" y="0" font-size="10.6" font-weight="bold" fill="#151515" textLength="10.20" lengthAdjust="spacingAndGlyphs" stroke="#151515" stroke-width="0.18">10</text>
<text transform="translate(257.20,435.30) rotate(-90)" x="0" y="0" font-size="6.0" font-weight="bold" fill="#151515" stroke="#151515" stroke-width="0.18">3</text>
<text transform="translate(265.20,430.90) rotate(-90)" x="0" y="0" font-size="11" font-weight="bold" fill="#151515" textLength="29.90" lengthAdjust="spacingAndGlyphs" stroke="#151515" stroke-width="0.18">counts</text>
<text transform="translate(264.60,400.50) rotate(-90)" x="0" y="0" font-size="7.4" font-weight="bold" fill="#151515" textLength="3.80" lengthAdjust="spacingAndGlyphs" stroke="#151515" stroke-width="0.18">)</text>
<text x="324.20" y="540.20" font-size="11" font-weight="bold" fill="#151515" text-anchor="start" textLength="68.10" lengthAdjust="spacingAndGlyphs" stroke="#151515" stroke-width="0.18">Concentration</text>
<text x="395.00" y="539.90" font-size="7.8" font-weight="bold" fill="#151515" text-anchor="start" stroke="#151515" stroke-width="0.18">(</text>
<text x="397.60" y="539.50" font-size="8.0" font-weight="bold" fill="#151515" text-anchor="start" textLength="5.50" lengthAdjust="spacingAndGlyphs" stroke="#151515" stroke-width="0.18">×</text>
<text x="403.80" y="540.20" font-size="9.6" font-weight="bold" fill="#151515" text-anchor="start" textLength="10.80" lengthAdjust="spacingAndGlyphs" stroke="#151515" stroke-width="0.18">10</text>
<text x="415.90" y="534.90" font-size="6.2" font-weight="bold" fill="#151515" text-anchor="start" textLength="4.60" lengthAdjust="spacingAndGlyphs" stroke="#151515" stroke-width="0.18">-3</text>
<text x="423.30" y="540.20" font-size="10.0" font-weight="bold" fill="#151515" text-anchor="start" textLength="16.00" lengthAdjust="spacingAndGlyphs" stroke="#151515" stroke-width="0.18">g/L</text>
<text x="440.00" y="539.90" font-size="8.2" font-weight="bold" fill="#151515" text-anchor="start" stroke="#151515" stroke-width="0.18">)</text>
</svg>
</body></html>
